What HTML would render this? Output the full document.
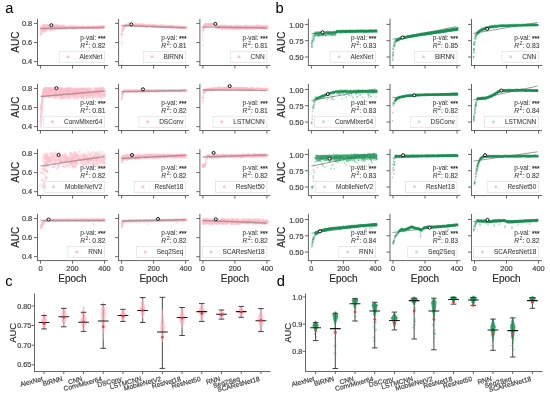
<!DOCTYPE html><html><head><meta charset="utf-8"><style>html,body{margin:0;padding:0;background:#fff;}svg{display:block}</style></head><body><svg width="550" height="396" viewBox="0 0 550 396" font-family="'Liberation Sans', Arial, sans-serif">
<style>.ax{stroke:#666;stroke-width:1;fill:none}.tk{font-size:7.4px;fill:#444;stroke:#444;stroke-width:0.2px}.ttl{font-size:10px;fill:#2a2a2a;stroke:#2a2a2a;stroke-width:0.18px}.ann{fill:#3a3a3a;stroke:#3a3a3a;stroke-width:0.06px}.lg{fill:#fff;stroke:#e3e3e3;stroke-width:0.8}.ldp{fill:#f9c3cf}.ldg{fill:#bfe3cd}.cp{fill:#FFB3C0;fill-opacity:0.45}.cg{fill:#0F8C4C;fill-opacity:0.85}.pp{stroke:#FFB3C0;stroke-opacity:0.42;stroke-width:2.1;stroke-linecap:round;fill:none}.pg{stroke:#0F8C4C;stroke-opacity:0.3;stroke-width:1.8;stroke-linecap:round;fill:none}.pc{stroke:#FFB3C0;stroke-opacity:0.35;stroke-width:1.8;stroke-linecap:round;fill:none}.pd{stroke:#0F8C4C;stroke-opacity:0.25;stroke-width:1.8;stroke-linecap:round;fill:none}.rga{stroke:#6a6a6a;stroke-opacity:0.5;stroke-width:1.5}.rgb{stroke:#9a9a9a;stroke-width:1}.mk{fill:#fff;stroke:#111;stroke-width:1.0}.eb{stroke:#3a3a3a;stroke-width:0.95;fill:none}.ev{stroke:#333;stroke-width:0.9;fill:none}.md{stroke:#1a1a1a;stroke-width:1.05;fill:none}.mn{fill:#EE3344}.lt{font-size:14.7px;fill:#000}.tkc{font-size:7.2px}.xl{font-size:6.7px}.ttc{font-size:9.4px}</style>
<rect width="550" height="396" fill="white"/>
<text class="lt" x="5.3" y="13.2">a</text>
<text class="lt" x="275.5" y="13.3">b</text>
<text class="lt" x="5.2" y="286.4">c</text>
<text class="lt" x="276.7" y="286.4">d</text>
<path class="ax" d="M37.5 18.80V66.00M37.0 65.50H108.0"/>
<text class="tk" x="32.2" y="26.10" text-anchor="end">0.8</text>
<text class="tk" x="32.2" y="45.20" text-anchor="end">0.6</text>
<text class="tk" x="32.2" y="64.30" text-anchor="end">0.4</text>
<path class="ax" d="M34.0 23.40H37.5M34.0 42.50H37.5M34.0 61.60H37.5M40.50 65.5v3M72.50 65.5v3M104.50 65.5v3"/>
<text class="ttl" transform="translate(18.60,42.15) rotate(-90)" text-anchor="middle">AUC</text>
<text class="ann" x="105.50" y="40.10" text-anchor="end" font-size="6.5">p-val: <tspan dy="0.7" stroke-width="0.12" fill="#222" stroke="#222">***</tspan></text>
<text class="ann" x="105.50" y="47.50" text-anchor="end" font-size="6.8"><tspan font-style="italic">R</tspan><tspan dx="0.5" dy="-2.6" font-size="5.2">2</tspan><tspan dy="2.6">: 0.82</tspan></text>
<rect class="lg" x="59.24" y="51.30" width="45.26" height="11.00"/>
<circle class="ldp" cx="68.04" cy="56.80" r="1.5"/>
<text class="ann" x="102.30" y="59.10" text-anchor="end" font-size="6.5">AlexNet</text>
<path class="cp" d="M40.5 26.7L42 25.8L45 25.5L55 25.6L70 26.3L85 26.5L104.5 26.1L104.5 28.1L85 28.5L70 28.5L55 29L45 30.5L42 31.7L40.5 34.8Z"/>
<path class="pp" d="M88.9 26.8h0M94.3 28.1h0M56.5 26.3h0M77.8 28.3h0M43.7 28.1h0M76.8 26.4h0M100.3 26.5h0M76 28.1h0M43.3 31.2h0M65.3 26.5h0M48.3 27.4h0M74.3 28.5h0M76.2 27.7h0M75.7 28.3h0M67 27.4h0M49.9 29.6h0M85.2 28.2h0M47.9 28h0M50.6 27.3h0M83.5 27.8h0M98.1 27.7h0M83.7 27.1h0M46.2 28.8h0M93.5 26.7h0M57.5 25.6h0M101.6 26.9h0M74.8 27.1h0M62.3 25.8h0M83.1 28.3h0M42.9 28h0M62.1 27.1h0M65.2 26.6h0M91.5 27.8h0M65.2 27.9h0M60.3 26.8h0M94.3 26.7h0M100.1 26.9h0M43 30.8h0M81.2 26.7h0M52.8 25.3h0M62.9 27.5h0M71.1 28.4h0M66.4 26.9h0M72.2 28.2h0M87.4 28h0M80.4 28.3h0M98.4 27.8h0M56.3 25.4h0M60.5 26.2h0M56.8 27.7h0M102.6 26.8h0M56.9 25.9h0M80.4 27.5h0M96.5 27.8h0M77.5 27.1h0M71.6 26.3h0M72.9 27h0M70.3 26.5h0M98 27.9h0M84.5 28.4h0M85.9 27.4h0M56.1 29.4h0M86.3 28.2h0M98.9 27.1h0M44.8 30.8h0M100.9 26.3h0M97.7 26.7h0M76.3 28.4h0M95.4 28.2h0M50.4 28.9h0M55.4 27.2h0M73.2 26.7h0M102.7 26.9h0M73.2 26.4h0M94.3 28.1h0M63.8 26.1h0M55.5 27.2h0M83.8 26.7h0M92.9 27.8h0M45 29.8h0M55.9 27.7h0M42.9 25.8h0M78.1 26.4h0M67.5 28.5h0M84 28.2h0M95.1 27.8h0M103.2 27.4h0M41.4 30h0M102.7 26.7h0M93 26.9h0M57.3 28.2h0M74.2 28.4h0M44.7 27h0M44.2 28.3h0M83 27.3h0M54.4 26.7h0M79.4 27.1h0M41.6 28.8h0M88.5 27.4h0M47.7 25h0M40.8 29.4h0M48.9 30.3h0M49.5 26.7h0M61.6 26.3h0M101.5 26.5h0M103.9 26.4h0M50.3 29.9h0M89.9 27.4h0M93.2 27.8h0M77.6 27.4h0M54.1 29.7h0M63.4 27.1h0M96.4 26.4h0M53.8 29.4h0M102.6 27.4h0M64.1 27.6h0M82.2 26.7h0M48.7 26.2h0M42.1 32h0M53.9 29.6h0M52.9 29.9h0M44.3 25.9h0M76 27.3h0M76.2 27.2h0M51.5 27.4h0M87.2 27.1h0M42.3 26.7h0M40.7 33.6h0M93.1 27.2h0M90.6 26.6h0"/>
<path class="pp" d="M53.1 28.7h0M98.5 28.1h0M83.9 26.9h0M65.6 28.7h0M74.1 27.6h0M92.9 28h0M59.4 29.1h0M54.8 26.9h0M92 28.2h0M43.1 29h0M94.8 28.2h0M55.5 26.9h0M81.8 27.1h0M93.3 28h0M89.1 27h0M101.7 27.1h0M44.5 26.4h0M47.1 28.8h0M82.3 28.1h0M66.7 26.8h0M97.1 27.2h0M60.8 26.5h0M61 26.8h0M71.8 26.3h0M101.7 28h0M86.9 27.6h0M72.8 28.2h0M58.1 25.4h0M92.7 26.7h0M101.6 27.8h0M44.4 29.7h0M47.2 30.1h0M82.2 26.9h0M100.9 28h0M57.8 26.3h0M64.4 28.7h0M55.4 29.2h0M70.7 27h0M65.6 27.1h0M87.7 26.9h0M49.9 27h0M44.3 27.3h0M89 26.6h0M63.8 26.4h0M99.1 26.6h0M45.3 26.3h0M104.4 27.3h0M91.9 27.8h0M52.6 27.3h0M57.1 28.1h0M58.5 26.3h0M92 27.9h0M70.9 28.2h0M40.7 30.3h0M51.3 25.4h0M99.4 26.8h0M58.3 27h0M101.7 26.5h0M73.9 28.4h0M54 27.8h0M102 27.5h0M54.5 26.9h0M66.4 28.4h0M61.3 29.1h0M64.3 27h0M72.3 26.8h0M91 28.2h0M61.4 27.4h0M43.2 24.5h0M73 26.8h0M48.1 25.8h0M80.6 27.1h0M74 26.3h0M66.5 28.5h0M53.1 25.5h0M91.3 27.7h0M45.9 30.5h0M60.2 25.5h0M100.7 27.3h0M48.6 25.5h0M55 25.2h0M87.7 27h0M65.7 27.4h0M44 25.3h0M51.9 29.1h0M91.4 27.5h0M88.3 28.1h0M63.3 28.4h0M76.5 28h0M77 27.9h0M56.6 26.4h0M89.6 26.6h0M91.6 27.8h0M94.2 26.6h0M90.8 26.9h0M73.2 26.4h0M70.9 27.4h0M81.9 28h0M40.9 35h0M47 30.1h0M99.9 26.6h0M54.6 26h0M85 27.7h0M68.7 26.6h0M77 28.3h0M69.3 26.5h0M69.8 27.5h0M83 26.8h0M59.8 27.2h0M101.8 26.5h0M67.4 28.5h0M57.2 26.7h0M62.7 25.7h0M66 27.3h0M60.7 28.6h0M103.9 27.7h0M50.2 27.6h0M102.4 26.5h0M101.4 26.5h0M53.4 27.4h0M45.2 29.2h0M66.8 28.3h0M70 26.6h0M65.8 27.5h0M49.6 27.8h0M89.4 27.9h0M93.4 26.8h0M92.9 26.9h0M42.7 24.8h0M103.1 27.9h0"/>
<path class="pp" d="M47.5 27.8h0M77.4 27.2h0M97.6 27.5h0M66.2 28.7h0M84.2 26.9h0M81.1 28.1h0M75.3 26.4h0M78 27.5h0M46.2 27.2h0M84.5 27.4h0M96.5 26.9h0M81.9 28.4h0M45.1 31.2h0M51 28.7h0M87.4 27.5h0M42.7 29h0M60.2 29.1h0M40.8 27.5h0M53.1 25.9h0M60 26.3h0M57.1 28.5h0M85.7 27.7h0M49.6 24.9h0M45.9 30.4h0M73.6 27.3h0M50.8 27.2h0M81.6 26.7h0M103.5 26.5h0M88.3 26.6h0M51.3 29.2h0M102.8 27.3h0M103.2 26.4h0M72.6 28.4h0M87.4 27.9h0M88.5 27.7h0M52.4 29.8h0M72.2 26.7h0M44.5 25.1h0M73.6 27.2h0M97.9 26.8h0M64.2 27.4h0M72.7 27.7h0M55.2 25.2h0M97 28.1h0M48.4 26.1h0M40.8 34.1h0M74.3 26.6h0M47.2 26.3h0M98.7 27.7h0M74.6 28h0M100.8 26.7h0M69.5 26.9h0M48.8 26.1h0M81.2 27.2h0M72.1 27.1h0M55 27.4h0M89.6 27.6h0M83.2 28.3h0M88.5 27.3h0M63.6 27.1h0M55.5 26.2h0M103 26.7h0M101.5 27.5h0M57.6 25.8h0M97.8 27.2h0M68 27.4h0M56.5 25.2h0M65.8 28.9h0M46.2 24.8h0M51.8 26.1h0M45.1 26.1h0M76.8 27.2h0M62.2 26.5h0M99.2 27.5h0M70.8 27.8h0M81.4 27.2h0M51.2 29.1h0M75.6 26.5h0M41.9 28.5h0M73.5 27.1h0M60.2 28.5h0M82.7 26.7h0M63.1 27.2h0M94.3 27.3h0M57.1 27h0M101.8 27.4h0M72.8 27.1h0M67.4 26.7h0M67.3 28.1h0M53.9 25.7h0M47.3 28.2h0M84.2 27.8h0M86.8 27.7h0M87.4 28.3h0M86.9 28.2h0M93 28.2h0M100.8 27.6h0M64.6 26.8h0M70.3 27.4h0M71.4 26.4h0M89.4 27.5h0M57.3 29.3h0M56.1 27.6h0M44.4 26.4h0M49.4 27.8h0M75.9 28.4h0M43 29.9h0M59.3 27.2h0M62.4 26.5h0M77.9 28.3h0M46.7 27.9h0M87.2 26.9h0M61.8 28.4h0M82.5 27.1h0M47.5 25.6h0M74.2 26.8h0M95.4 26.9h0M68.3 28.4h0M71.8 26.8h0M65.4 26.8h0M42 32.8h0M61.2 26.1h0M79 26.5h0M73.9 27.8h0M56.3 26.2h0M50.8 30.1h0M87.5 28h0M60.5 26.6h0M69.3 26.9h0M86.9 26.9h0"/>
<path class="pp" d="M43.7 25.9h0M56.6 26.6h0M73.5 27.7h0M44.5 24.8h0M64.4 28.8h0M100.5 28.1h0M58.8 25.5h0M101.9 27.4h0M100 27h0M86.7 26.6h0M91 28.2h0M80.9 28.3h0M72.7 27.5h0M87.1 26.9h0M99.8 27.6h0M46.4 27.5h0M98.2 26.9h0M80.6 27.8h0M72 28.5h0M93 27.4h0M71.2 27.8h0M69.5 27.5h0M58.4 26.7h0M49.9 26.2h0M67.6 28.3h0M84 27.4h0M95.8 27.6h0M98.4 27.4h0M49 26.8h0M78.9 27.6h0M99.8 27h0M51.2 25.6h0M93.1 26.9h0M88.4 28.1h0M63.5 28.6h0M50.1 30.2h0M97.9 26.4h0M49.5 25.9h0M92.4 28.2h0M40.5 26.2h0M62.4 25.9h0M97 28.1h0M80.7 28.4h0M72.8 26.7h0M41.7 27.6h0M73.3 27.9h0M78.2 27h0M66.1 27.2h0M99.8 26.5h0M42 29.8h0M69.5 27h0M87.4 27.4h0M80.2 27.8h0M102.7 27.2h0M47 26.9h0M72.4 27.8h0M96.2 27.6h0M72.6 27.5h0M64.4 26.8h0M54.7 28.5h0M46 25.1h0M67.4 27.6h0M55.3 29.1h0M78.7 27.7h0M69.3 26.8h0M81.4 26.7h0M53.8 26.2h0M103 26.3h0M44.6 31.8h0M93.3 26.7h0M45.7 27.6h0M60.5 27.6h0M62.4 28.5h0M69.8 26.6h0M95.8 28.2h0M52.1 27.9h0M81.5 28.3h0M101 26.5h0M70.8 26.5h0M88.7 27.7h0M51.3 24.8h0M40.6 33.8h0M55.8 26.2h0M57.8 25.8h0M41.2 27.9h0M65.5 28.5h0M43.1 26.8h0M58.8 29.1h0M56.4 26.3h0M60.6 27.7h0M95.9 27.2h0M81.2 27.9h0M92.9 27.2h0M87.8 28.3h0M54.6 29.5h0M63.3 25.8h0M43 30.9h0M94.3 26.9h0M45.9 29.1h0M67.7 28.3h0M48.7 27.3h0M49.7 25.3h0M67.7 27.8h0M69.1 27.2h0M59.6 28.3h0M97.1 27.8h0M45 25h0M79.7 27.5h0M47.5 25.5h0M94.1 26.6h0M48.4 26h0M92.2 27.6h0M79.8 26.8h0M40.6 29.2h0M97.3 27.6h0M86.6 26.7h0M74.1 28.3h0M88.1 27.1h0M72.5 26.7h0M42.6 30.4h0M48.9 24.7h0M102.2 26.6h0M93.6 26.8h0M53 26.5h0M82.8 26.8h0M95.7 26.8h0M44.3 30.3h0M90.7 28.1h0M52.9 26.7h0M49.8 26.4h0"/>
<line class="rga" x1="40.5" y1="28.599999999999998" x2="104.5" y2="27.4"/>
<circle class="mk" cx="51.4" cy="25.2" r="1.5"/>
<path class="ax" d="M308.4 18.80V66.00M307.9 65.50H378.9"/>
<text class="tk" x="303.59999999999997" y="27.50" text-anchor="end">1.00</text>
<text class="tk" x="303.59999999999997" y="43.80" text-anchor="end">0.75</text>
<text class="tk" x="303.59999999999997" y="60.10" text-anchor="end">0.50</text>
<path class="ax" d="M304.9 24.40H308.4M304.9 40.70H308.4M304.9 57.00H308.4M311.40 65.5v3M343.40 65.5v3M375.40 65.5v3"/>
<text class="ttl" transform="translate(285.10,42.15) rotate(-90)" text-anchor="middle">AUC</text>
<text class="ann" x="376.40" y="40.10" text-anchor="end" font-size="6.5">p-val: <tspan dy="0.7" stroke-width="0.12" fill="#222" stroke="#222">***</tspan></text>
<text class="ann" x="376.40" y="47.50" text-anchor="end" font-size="6.8"><tspan font-style="italic">R</tspan><tspan dx="0.5" dy="-2.6" font-size="5.2">2</tspan><tspan dy="2.6">: 0.83</tspan></text>
<rect class="lg" x="330.14" y="51.30" width="45.26" height="11.00"/>
<circle class="ldg" cx="338.94" cy="56.80" r="1.5"/>
<text class="ann" x="373.20" y="59.10" text-anchor="end" font-size="6.5">AlexNet</text>
<line class="rgb" x1="311.5" y1="33.6" x2="375.5" y2="30.3"/>
<path class="cg" d="M315 32.2L325 31.8L336 31.4L336 34.2L325 34.6L315 35.2Z" style="fill-opacity:0.45"/>
<path class="cg" d="M336 30.3L377 29.8L377 32.3L336 32.8Z"/>
<path class="pg" d="M315.2 35.4h0M314.8 35.9h0M327.6 32.1h0M314.1 37.6h0M353.9 32.3h0M335.7 33.9h0M320.2 32.9h0M375 31.3h0M330.4 32.5h0M361.3 31.1h0M319.4 35.9h0M336.8 32.4h0M365 30.3h0M356 30.9h0M351.3 31.7h0M333.1 31.8h0M321.7 32.9h0M374.2 31.9h0M337.9 31.5h0M345.1 30.6h0M329.9 32.5h0M372.5 31.8h0M367 30.8h0M362.4 30.8h0M366.2 30.4h0M351.9 31.6h0M362.5 31h0M371.8 31.6h0M371.1 30.2h0M353 30.3h0M323.7 34.3h0M315.1 34.3h0M326.8 34.8h0M313.4 39.3h0M337.2 30.8h0M315.6 33.5h0M321 34.1h0M318 33.4h0M331.2 32.7h0M355.7 30.7h0M335.9 32.8h0M333.4 31.5h0M330.2 35.5h0M334.5 32.4h0M335.5 31.7h0M371.7 31h0M317.6 32.9h0M319.5 35.9h0M360.4 30.5h0M332.3 35.1h0M353.1 31.9h0M350.7 31.2h0M342 30.8h0M337 30.6h0M364.7 31.9h0M326.3 35.6h0M332.4 33.2h0M331.3 33.4h0M342.7 31.6h0M355.4 31h0M355.8 31.5h0M335.3 32.3h0M331.1 35.1h0M348.2 31.9h0M311.9 46.7h0M323.6 34h0M349.6 30.4h0M361.1 30.4h0M352.6 30.5h0M327.4 32.3h0M359.8 32.1h0M319 35.9h0M354.2 30.8h0M345.7 32.1h0M330.9 33.3h0M328.3 33h0M322.5 35h0M373.5 30.9h0M328.6 33.8h0M336.5 32.7h0M315.5 33.3h0M364.6 30.2h0M329.1 33.4h0M348.5 31.1h0M311.6 42.8h0M318.4 33.1h0M349.1 32.2h0M365.1 31.8h0M315.1 35.7h0M369.3 31.8h0M372.5 30.5h0M331 33.8h0M366.3 30.2h0M364.4 30.7h0M331.1 33.9h0M323.8 33.9h0M318.2 35.3h0M312.4 40.5h0M364.6 31.3h0M330.5 34.3h0M357.1 31.5h0M374.1 31.1h0M351 30.5h0M314.5 36h0M332.1 35.1h0M344.2 31.3h0M338.1 30.7h0M318.6 33.8h0M368.6 31h0M339.9 30.8h0M345.2 31.2h0M371.1 31h0M368.2 31.1h0M365.3 31.2h0M340 31.9h0M370.8 31.7h0M335.3 31.9h0M319.6 35.3h0M351.6 31.3h0M346.7 30.3h0M318.7 32.7h0M368.6 31.7h0M320.7 33.6h0M337.4 32.5h0M331.4 34.6h0M322.5 33.7h0M363.4 31.1h0M318.9 35.7h0M362.3 30.3h0M341.1 31.1h0M350.3 32.1h0M355.2 31.2h0M365.4 31.7h0M335.1 32.1h0M334.6 34h0M375.5 31.7h0M370.3 30.1h0M359.5 31h0M344.4 32.2h0M337.1 31.6h0M347.6 31.2h0M359.5 30.6h0M348.8 31.7h0M321 35.1h0M348.7 30.9h0M346.2 32.1h0M352.7 30.6h0M315.4 33.4h0M375 31.6h0M352.6 31.2h0M359.6 32.2h0M362.9 31.6h0M311.8 44.4h0M374.9 30.5h0M348.3 30.5h0M363.6 31.9h0M372.3 31.8h0M335.4 34.9h0M376.9 31.9h0M356.4 31h0M370.6 31.9h0M368.5 31.6h0M315.5 33h0M334.2 31.8h0M351 32.3h0M375.6 31.7h0M339.4 30.8h0M372.1 31.2h0M356 31.2h0M312.3 40.8h0M357.5 30.4h0M347.6 31.8h0M373.9 31h0M336.2 33.6h0M370.8 32h0"/>
<path class="pg" d="M371.9 31.3h0M330.1 34.2h0M340.5 32.5h0M317.2 35.3h0M366.7 31.4h0M311.8 45.8h0M358.6 30.6h0M319 33h0M345.6 31.2h0M366.1 30.8h0M336.2 32.8h0M324.4 34.5h0M343 31.1h0M346.3 30.5h0M325.1 35.6h0M361.2 30.4h0M353.5 32.2h0M375.7 31.1h0M361.7 31.4h0M331.6 34.3h0M318.1 32.5h0M374.5 31.3h0M358.5 31.5h0M323.4 35.1h0M330.3 31.7h0M369.8 31.2h0M351.9 32.1h0M346.1 32.4h0M366.7 31.8h0M373.8 30.6h0M376.5 31.5h0M353.1 31h0M357.5 31.9h0M357.8 31.1h0M368.2 32.1h0M376.2 30.1h0M355.4 30.8h0M312.9 36.5h0M358.8 30.3h0M326 33.7h0M313.5 34.8h0M365.7 30.7h0M342.1 31.6h0M318.8 35.1h0M357.8 30.7h0M321.4 31.7h0M373 31.4h0M330 33.2h0M337 31.4h0M358.9 30.2h0M351 32.1h0M356.6 30.5h0M349.6 30.5h0M348.3 30.8h0M316.2 31.8h0M322.6 33.2h0M343.7 31.4h0M369.7 30.9h0M351.7 31.8h0M327.1 32.6h0M314.1 33.9h0M357.8 31.6h0M335.2 33.2h0M350.9 32.2h0M357.3 30.7h0M327 33.1h0M358.2 31.3h0M312.7 41.3h0M366 31.2h0M347.4 31.9h0M339.2 31.6h0M348.4 31h0M342.2 31.6h0M355 30.9h0M352.2 30.8h0M364.9 31.9h0M313.3 40.4h0M338.5 30.8h0M369.5 31.2h0M351.7 32h0M314.1 35.1h0M343.2 32.1h0M311.9 44.5h0M312 46.8h0M352.8 31.5h0M348 31.3h0M365 31.9h0M323.4 31.8h0M343.9 31.4h0M348.9 30.6h0M313.4 38.9h0M314.5 33.3h0M315.6 31.8h0M356.7 31.9h0M317.9 33h0M318.1 32.4h0M350.9 30.4h0M336.7 31.4h0M362 30.8h0M317 34.9h0M340.2 31.8h0M343.8 31.4h0M349 30.9h0M339.6 32.3h0M321.9 31.9h0M344.1 32.4h0M340.3 30.8h0M353.3 30.6h0M331.4 33h0M346.5 30.6h0M341.2 30.6h0M342.2 31.6h0M358.9 30.8h0M371.8 30.7h0M328.9 33.2h0M349.6 31h0M344.7 32.4h0M348.6 31.6h0M348.5 31.4h0M341.7 31.5h0M355 31h0M331 31.7h0M362.2 32h0M348.7 30.8h0M340.3 31.7h0M339.4 32.4h0M327.2 32.9h0M316.5 33.2h0M334.4 32h0M353.2 31.6h0M363 31h0M365.9 31.6h0M322.6 34.5h0M323.3 34.6h0M370.4 31.3h0M335.6 33.1h0M312.3 46.3h0M332.8 33.3h0M321 35.4h0M332.7 33.3h0M327.8 31.7h0M334.9 33.8h0M356.3 32.1h0M370.7 31.7h0M376.5 30.1h0M355.3 30.7h0M321.6 33.1h0M342.2 31h0M317.3 34.1h0M313.7 40.7h0M330.7 33.1h0M321.7 32.8h0M336.7 32.2h0M346.3 31.9h0M366.7 31.3h0M336.9 31.3h0M322.4 35.3h0M366.5 31.3h0M361.7 31.9h0M363.1 31.9h0M335.3 33.4h0M360.9 32.1h0M355.1 32h0M341.6 32.5h0M329.4 32.4h0M359.3 30.4h0M323.4 32.1h0M332.9 32.2h0M319 35.7h0M341.2 31.3h0M350.1 30.4h0M318.7 35.2h0M371.6 31.8h0M322.7 33h0M362.1 30.6h0"/>
<path class="pg" d="M327.9 34.9h0M335.6 33h0M331.5 34.1h0M367.4 31.3h0M371.9 30.5h0M350.9 30.9h0M331.3 33.2h0M340.8 30.6h0M345 31.4h0M364.9 30.7h0M357 31h0M336.1 31.6h0M326.8 32.1h0M340.5 32.2h0M349.7 32.3h0M364.6 30.8h0M324.7 32.4h0M336.6 32.1h0M340.9 30.7h0M359.6 31.7h0M323.8 32.4h0M375.6 30h0M328.1 35.5h0M331.7 35h0M350.6 31h0M355.9 30.8h0M317.9 35.8h0M319.8 34.8h0M340.3 32.3h0M319.4 34.3h0M353.5 30.8h0M332.5 34.1h0M334.2 32h0M321.7 34.7h0M325.3 33.4h0M336.1 32.1h0M315.5 35.6h0M324.2 33.5h0M348.8 30.9h0M370.7 30.4h0M326 31.7h0M321.1 34.1h0M312.2 38.4h0M315.2 35.7h0M358.8 30.3h0M372.9 31.3h0M364.5 31.9h0M325.7 35.3h0M368.6 30.6h0M343.4 30.5h0M329.4 33.6h0M334.6 34.3h0M371 31.6h0M322.3 32.8h0M347.1 30.8h0M344.9 31.4h0M312.5 42h0M345.1 31.5h0M358.5 30.2h0M335.8 32.9h0M376.7 30.7h0M354.7 31h0M374.4 31.2h0M322.5 35.4h0M341.1 31.4h0M345.3 31.3h0M329.2 34.7h0M354.6 31.9h0M322.6 32.8h0M364.4 30.8h0M339.6 31.8h0M327 31.7h0M375.1 30.6h0M324.7 34.6h0M372.4 31.4h0M352.6 32.2h0M346.5 31.1h0M328.3 32h0M352.7 31.7h0M356.2 32.2h0M370.4 30.6h0M318.5 34.5h0M314.3 37.8h0M334.9 34.5h0M328.3 33.9h0M357.6 31.9h0M360.5 31.9h0M354 30.6h0M358.1 30.6h0M369.5 31.1h0M333.8 32h0M318.9 33.9h0M335.5 32.9h0M368.7 31.3h0M315.2 32.4h0M333.9 34.5h0M364.5 31.9h0M314.6 33.7h0M341.7 32.4h0M344.1 31.5h0M369.4 30.1h0M374.8 32h0M359.1 31.3h0M351.3 31.1h0M342.1 30.7h0M331.8 32.4h0M337.7 30.8h0M334.6 35.4h0M315.5 36.1h0M353.5 32.3h0M356 31h0M347 32.3h0M364.9 31.9h0M369.7 31.3h0M317.1 34.6h0M368 30.6h0M376.4 31.5h0M355.9 30.2h0M339.2 31.7h0M333.2 33.9h0M356.1 30.7h0M368.3 31.9h0M325.9 35.5h0M328.4 32.4h0M353.2 30.3h0M348 32.2h0M351.4 31.3h0M328.1 31.7h0M335 32.1h0M371.1 31.3h0M314.5 33.4h0M370.2 30.2h0M319.5 33.3h0M366.4 31.3h0M362.3 30.4h0M314.8 33.6h0M312.5 42.6h0M347.8 32h0M366.6 31.9h0M323.6 32.9h0M366.1 31.7h0M324.4 34.6h0M322.6 31.9h0M319.6 32.3h0M318.6 34.2h0M345.9 32h0M359.9 31.2h0M362.8 31.9h0M324.6 34.8h0M326.3 34h0M352.9 31h0M355.8 31.3h0M329.8 32h0M323.3 34.9h0M319 32.5h0M344 32.4h0M351.3 31.9h0M358.4 30.9h0M331.9 32.4h0M365.2 31.6h0M365.2 32.2h0M332.9 34.5h0M333.2 32.7h0M355.3 32.1h0M328.7 33.9h0M359.9 31.9h0M367.3 31.8h0M333.4 33.4h0M375.1 31.8h0M340.2 32.3h0M364.7 31.3h0M315.9 33.9h0M366.6 31.9h0M374.7 31h0M342.8 31h0"/>
<path class="pg" d="M368.6 31.2h0M361.4 30.2h0M349.5 32.2h0M363.9 30.2h0M317.3 35.5h0M371.7 31.4h0M374.4 30.2h0M368.6 30.3h0M372.3 30.3h0M341.5 32.4h0M318 35.7h0M344.5 30.9h0M339.6 31.5h0M337.9 30.5h0M349.3 31.4h0M368.8 31.4h0M327.2 31.7h0M328.9 34.2h0M319.4 34.8h0M358.4 30.7h0M331.9 34.4h0M350.2 31.9h0M371.2 30.5h0M355.1 32h0M324.3 32h0M357.6 30.7h0M330.9 34.6h0M347.4 30.6h0M366.5 31.4h0M317.4 31.9h0M351.6 31.8h0M316.7 32.5h0M348.6 30.9h0M366.9 32h0M361.5 30.4h0M338.8 31.5h0M320.7 35.2h0M335.6 31.9h0M349.5 32.4h0M374.3 31.5h0M347.1 30.3h0M368.5 30.1h0M338.5 31.8h0M363.1 31.9h0M339.9 31.5h0M333.3 34.7h0M366.5 30.7h0M343.5 31.5h0M366.9 30.9h0M319.9 31.8h0M315 34.1h0M322.1 32.5h0M327.4 33.2h0M333.9 32h0M318.9 35.5h0M343.8 30.4h0M325.3 35.4h0M343.8 30.5h0M343 30.7h0M334.6 34.1h0M333.7 34.9h0M352.7 31.1h0M325.5 32.8h0M367.2 30.6h0M354.4 31.9h0M323.9 32.4h0M373.4 31.6h0M332.5 34.3h0M318.9 31.8h0M372.8 30.8h0M374 31h0M322.5 34.8h0M317 32h0M358.6 30.7h0M349.1 31.2h0M356.1 31.9h0M353 31.6h0M345.4 31.4h0M334.5 35.2h0M320.7 31.7h0M338.2 30.5h0M338.5 30.6h0M341 31.2h0M334 35h0M360.6 30.3h0M355.3 30.6h0M371.8 31.2h0M350.3 32.3h0M365.7 30.9h0M365.4 31.1h0M316.7 32.1h0M314.1 33.3h0M327.1 32.2h0M329.9 31.9h0M313.9 39.7h0M350 30.4h0M354.4 31h0M355.8 30.8h0M347.4 32h0M333.7 33.2h0M323.7 35.1h0M328.1 31.9h0M319.5 32.4h0M320.8 34.1h0M373.5 31.6h0M353.9 30.9h0M337.8 31.6h0M340.3 31.7h0M358.5 30.6h0M357.3 30.6h0M338.4 32.1h0M336.4 31.1h0M323.7 33.5h0M354 31.1h0M350.7 30.8h0M364.2 30.5h0M358.2 32h0M370.1 31.5h0M334.4 31.4h0M365.6 30.8h0M373.6 30.1h0M346.3 32.5h0M346.3 30.8h0M326 31.8h0M323.1 35.2h0M328.4 31.6h0M371.4 30.3h0M311.7 46.8h0M321.8 32.9h0M366.5 31.2h0M340 32.5h0M346.8 32.4h0M335.3 33.7h0M363 31.6h0M331.8 32h0M340.3 32h0M351.3 30.7h0M346.8 32.2h0M347.9 30.9h0M324 32.8h0M350.7 31.1h0M327.4 32.5h0M376.8 30.8h0M328.2 34.6h0M333.1 35.4h0M342.7 30.7h0M345.1 31.5h0M375.7 31h0M365.6 32h0M359.1 30.8h0M344.6 30.8h0M324.8 31.9h0M354.5 30.8h0M311.8 42.6h0M332.7 35.4h0M311.9 40.9h0M359.9 31.7h0M315.3 33.6h0M340.7 31.5h0M365.1 32.1h0M368.8 31.2h0M366.5 30.8h0M339.6 32.3h0M341.9 30.4h0M321.3 31.9h0M313.3 35.8h0M364.2 32h0M327.8 33.3h0M372.9 30.7h0M315.1 34.9h0M349 31.2h0M363.1 30.5h0M374.3 30.4h0M353.7 30.7h0M345.5 30.4h0"/>
<circle class="mk" cx="322.6" cy="32.3" r="1.5"/>
<path class="ax" d="M118.6 18.80V66.00M118.1 65.50H189.1"/>
<path class="ax" d="M115.1 23.40H118.6M115.1 42.50H118.6M115.1 61.60H118.6M121.60 65.5v3M153.60 65.5v3M185.60 65.5v3"/>
<text class="ann" x="186.60" y="40.10" text-anchor="end" font-size="6.5">p-val: <tspan dy="0.7" stroke-width="0.12" fill="#222" stroke="#222">***</tspan></text>
<text class="ann" x="186.60" y="47.50" text-anchor="end" font-size="6.8"><tspan font-style="italic">R</tspan><tspan dx="0.5" dy="-2.6" font-size="5.2">2</tspan><tspan dy="2.6">: 0.81</tspan></text>
<rect class="lg" x="143.24" y="51.30" width="42.36" height="11.00"/>
<circle class="ldp" cx="152.04" cy="56.80" r="1.5"/>
<text class="ann" x="183.40" y="59.10" text-anchor="end" font-size="6.5">BiRNN</text>
<path class="cp" d="M121.5 31.4L122.5 27.8L124 25.1L128 24.1L131 24.3L150 25.3L170 26.1L187 27L187 28.2L170 27.3L150 26.5L131 25.5L128 25.5L124 27.6L122.5 32.2L121.5 37.6Z"/>
<path class="pp" d="M154.9 27.1h0M126.4 25.5h0M176.3 26.6h0M142.7 25h0M158.5 26.6h0M143.8 25.7h0M141.5 25.9h0M156.3 26.5h0M174 26h0M138.7 24.3h0M140.9 25.4h0M124.4 25.6h0M158.5 25.8h0M160.4 26.7h0M157.9 26.4h0M123 30h0M171.2 27h0M155.2 25.7h0M184 27.3h0M131.5 25.2h0M161 25.4h0M176.6 28.1h0M126.5 25.2h0M186.5 26.9h0M122 29.1h0M127.9 24.6h0M139.4 24.4h0M182 27.5h0M123.8 27.9h0M136.9 25.1h0M134.1 24.1h0M182.8 28.3h0M170.1 25.9h0M177.7 26.8h0M177.2 27.1h0M148.6 24.8h0M135.3 25.7h0M142.9 26.2h0M155.7 26.1h0M183.1 28.3h0M158.8 27.1h0M143.9 25.3h0M135.7 25.4h0M158.2 26.1h0M128.7 25h0M144.7 26h0M146.5 26.2h0M144.7 25.4h0M126.5 25.7h0M177.1 26.9h0M178.9 26.3h0M160.9 26h0M162 25.9h0M129.3 24.8h0M172.4 27.1h0M123.3 29.4h0M148 25.8h0M140 26.4h0M138.9 24.9h0M137.1 24.4h0M166.4 27.5h0M124.4 26.7h0M123.5 28.2h0M185.8 27.8h0M153.4 25.2h0M162.9 25.5h0M162.6 27h0M146.1 24.7h0M183.5 28h0M161.7 25.3h0M127.2 25.2h0M121.8 34.3h0M140.1 25.1h0M151.5 26.5h0M128.3 24.2h0M182.1 27.7h0M142.2 24.6h0M183.4 27.3h0M139.9 26h0M134.6 24h0M161.2 27.1h0M122 42h0M153.8 26.6h0M154.8 27.2h0M145.3 26.5h0M172.2 26.2h0M181.1 26.6h0M180.4 26.7h0M158.3 27.1h0M149.4 25.4h0M130.6 24h0M169.3 27h0M146.1 26.6h0M172.9 26h0M184.9 27.3h0M132.9 25.2h0M174.5 26h0M132.1 24.2h0M171.3 27.7h0M130.1 25.6h0M138.6 24.4h0M125.1 25.6h0M147.7 25.8h0M141.2 25.7h0M153.1 24.9h0M180.3 28.2h0"/>
<path class="pp" d="M168.2 27.2h0M134.7 25.8h0M149.3 25.5h0M164.1 27.5h0M170.8 25.8h0M131.2 24.9h0M159.2 27.2h0M180 26.7h0M135.5 25.6h0M176.2 27.3h0M125 25.9h0M135.2 24.8h0M125.9 25.4h0M180.2 27.1h0M133.5 24.6h0M152.8 25.9h0M146.5 25.2h0M173.2 27.6h0M122.6 31.5h0M121.7 37h0M163.9 25.8h0M182.3 27.2h0M137.1 24.9h0M165.4 26.6h0M169.7 27.1h0M164.4 26.5h0M143.7 24.6h0M123.6 27.8h0M170.8 27.1h0M129.3 24.6h0M185.9 27.8h0M155.1 26.6h0M143.5 25.8h0M161.8 26h0M177.4 26.3h0M157.2 25.3h0M154.9 26.4h0M156.4 27h0M154.9 26.1h0M129.4 25.2h0M179.3 26.3h0M164.8 26.1h0M152.5 26.3h0M127.9 25.1h0M160.5 25.3h0M137.2 25.4h0M172.8 27.5h0M146.7 26.6h0M173.4 27.3h0M155.4 25.3h0M164.9 25.6h0M159 27.2h0M164.9 27.3h0M184.1 28h0M166.9 26.1h0M179.8 26.3h0M156.6 25.2h0M143.6 26.4h0M171 27.6h0M126.2 24.7h0M178.3 26.2h0M161.1 26.4h0M170.8 27.3h0M167.2 26.2h0M138 25.6h0M142.4 26.1h0M184 26.9h0M171.8 26.2h0M182.5 27.4h0M161.5 26.6h0M140 24.3h0M121.7 34.2h0M123.4 27.4h0M162 25.7h0M158 26.9h0M121.6 36.4h0M185.5 27.7h0M154 25.1h0M168.5 26.6h0M171.9 26.2h0M129.4 24.7h0M132.3 24.7h0M145.8 24.9h0M164.1 26.9h0M185.9 26.7h0M135.6 25.4h0M165.9 25.6h0M147.3 25.7h0M179 27.9h0M159.3 26.7h0M153.3 25.1h0M179.8 27h0M150.6 25.3h0M132.4 26h0M159.2 26.1h0M182.1 27.6h0M155.5 26.7h0M141.9 25.5h0M178 28.2h0M148.2 24.9h0M131.4 24.2h0M182.5 28h0M177.4 26.5h0M158 26.5h0M144 26.4h0M146.7 26.8h0"/>
<path class="pp" d="M137.2 24.3h0M123.2 28.5h0M125 26.3h0M150.8 25.9h0M172.3 26.8h0M169.6 26.4h0M154 25.5h0M144.9 26.3h0M127.5 25.4h0M132.6 25.3h0M130.3 25.4h0M137.3 25.8h0M173.9 27.7h0M145.7 26.2h0M162.8 25.5h0M139.7 26.1h0M127.2 24.7h0M168.1 27.2h0M147 25.4h0M157 25.5h0M135 24.9h0M182.8 26.9h0M165.2 27.3h0M185.2 26.7h0M161.8 26.3h0M144.7 24.8h0M132.8 26.1h0M163.4 27.4h0M141.4 24.5h0M168.5 26.4h0M166.1 26.2h0M183.8 28.2h0M137.4 26.1h0M133.1 25.5h0M176.9 26.2h0M159.2 25.9h0M152.1 25.8h0M155.6 26.5h0M152.6 25.5h0M126 25.9h0M169.1 26.7h0M172.3 25.8h0M181.8 27.2h0M121.6 44h0M142.6 24.5h0M141.8 25.2h0M153 26.8h0M149.3 26.1h0M137.1 24.5h0M166.8 25.5h0M171 27.5h0M172.9 27.2h0M135.2 25.6h0M125.7 25h0M125.6 25.3h0M168.1 25.8h0M126.6 25.7h0M167.7 27h0M174.6 26.4h0M163.9 27.3h0M156.8 25.6h0M178.9 27.8h0M168.3 26.5h0M183.7 27.7h0M163.5 26.7h0M140 25.3h0M144.7 26.5h0M152.1 25.9h0M178.8 28h0M182.1 26.4h0M151.7 25.6h0M157.9 26.2h0M145.1 26.1h0M153.8 27.1h0M154.7 26.8h0M146.2 25.4h0M139.4 24.9h0M149.1 24.8h0M161 27.1h0M173.3 27.4h0M132.4 25.6h0M170.5 26.8h0M152.5 25.1h0M180.9 27.5h0M177.7 27.4h0M144.5 26.3h0M164.9 27.4h0M126.5 26h0M142.7 26.3h0M130.9 25h0M122.9 26.6h0M148.7 26.6h0M135.2 24.4h0M161.8 25.5h0M128.4 23.8h0M143.6 25.2h0M174.7 27.8h0M143.9 26.6h0M156.7 26.1h0M172.6 26.2h0M164.5 27h0M166.5 27.5h0M182.4 26.7h0M174.6 27.7h0M124 26.5h0M139.2 25.4h0"/>
<path class="pp" d="M123.6 28.4h0M159.7 27h0M127.4 25.4h0M172.1 27.2h0M152.6 25.8h0M163.7 26.9h0M158.7 25.2h0M122.4 30.9h0M161.3 27.2h0M169.7 26.5h0M186 28h0M183.5 27.7h0M176.2 27.5h0M179.3 28.2h0M125.5 25.4h0M179.2 27.4h0M151.5 25.3h0M156.6 26.5h0M159 27.2h0M129.3 25.9h0M136.1 24.4h0M146 26.7h0M135.5 25.5h0M187 28.5h0M132.3 25.5h0M169.9 27h0M143.1 24.6h0M165 26.3h0M154.3 25.9h0M126.3 25.2h0M130.3 25.8h0M121.8 61.5h0M149.4 24.9h0M135.8 24.6h0M147.4 26.2h0M158.3 26.5h0M126.7 24.8h0M141.7 25.1h0M186.2 28.4h0M182.8 27.1h0M136.1 25.9h0M146.5 26.5h0M168.6 27.4h0M128.9 24.6h0M149.8 24.9h0M183.6 26.9h0M138.2 24.5h0M182 28.2h0M171.4 26.9h0M134 24.5h0M127.3 25.2h0M122 30h0M179.6 27.8h0M140.9 26.1h0M185.7 28.3h0M173.1 27.3h0M141.1 24.7h0M169.7 27.1h0M138 25h0M154.9 26.9h0M146.9 26.6h0M122.1 34.5h0M168.8 27h0M167.9 25.7h0M130.6 24.6h0M133.8 26h0M156.3 25.6h0M165.5 27.2h0M145.4 25.5h0M182.9 26.8h0M169.9 27.1h0M169 25.9h0M170.3 26.1h0M185.1 28.1h0M137.5 26.2h0M164 25.5h0M173.1 27.6h0M170.7 27.5h0M153.2 25.6h0M130.8 23.9h0M122.3 31.3h0M175.2 27.7h0M123.6 26.7h0M185 28.3h0M139.1 26.3h0M172.1 26.1h0M121.8 33.6h0M132 25.8h0M152.6 26.3h0M173.4 27h0M139.3 26.2h0M145.1 26.5h0M138.3 26.3h0M185 28.4h0M182.2 26.9h0M148 26.5h0M151.6 26.9h0M171.9 27.7h0M169.2 26.7h0M126.7 24.6h0M140.1 25.5h0M137.1 26.1h0M138.1 25.1h0M135.3 25.7h0M125.2 25.3h0"/>
<line class="rga" x1="121.5" y1="25.599999999999998" x2="185.5" y2="27.7"/>
<circle class="mk" cx="131.3" cy="24.3" r="1.5"/>
<path class="ax" d="M390.0 18.80V66.00M389.5 65.50H460.5"/>
<path class="ax" d="M386.5 24.40H390.0M386.5 40.70H390.0M386.5 57.00H390.0M393.00 65.5v3M425.00 65.5v3M457.00 65.5v3"/>
<text class="ann" x="458.00" y="40.10" text-anchor="end" font-size="6.5">p-val: <tspan dy="0.7" stroke-width="0.12" fill="#222" stroke="#222">***</tspan></text>
<text class="ann" x="458.00" y="47.50" text-anchor="end" font-size="6.8"><tspan font-style="italic">R</tspan><tspan dx="0.5" dy="-2.6" font-size="5.2">2</tspan><tspan dy="2.6">: 0.85</tspan></text>
<rect class="lg" x="414.64" y="51.30" width="42.36" height="11.00"/>
<circle class="ldg" cx="423.44" cy="56.80" r="1.5"/>
<text class="ann" x="454.80" y="59.10" text-anchor="end" font-size="6.5">BiRNN</text>
<line class="rgb" x1="392.5" y1="39.3" x2="456.5" y2="26.6"/>
<path class="cg" d="M396 39.5L402 36.7L420 33.4L440 30.4L458 27.6L458 30.6L440 33.2L420 36L402 39.2L396 42Z"/>
<path class="pg" d="M457.2 28.3h0M430.1 33.2h0M432.8 31.6h0M406.6 37.6h0M434 32.8h0M446.1 31.4h0M404.4 36.4h0M395 45.2h0M439.1 31.5h0M406.2 37.9h0M445.7 31.5h0M395.1 42.1h0M435.7 31.4h0M404.6 38.2h0M398.5 39.7h0M417.8 35.6h0M396.4 40.6h0M397.9 40.3h0M406.2 36.5h0M412.6 35.4h0M457 29.6h0M400.1 38.2h0M418.6 34.5h0M446.8 31.6h0M414 35.3h0M424.5 33.2h0M420.8 35.4h0M398.5 38.9h0M457.8 28.2h0M429.1 32.7h0M454 30h0M455.1 29.8h0M397.9 40h0M425.9 32.9h0M399.9 39.7h0M422.8 34.7h0M402.7 37h0M441.9 30.4h0M394.1 42.9h0M392.9 57.8h0M455.2 29.7h0M422.3 35.2h0M443.5 32.1h0M447.4 29.4h0M426.1 34.4h0M449.4 31.2h0M394.2 44.2h0M418.3 34.3h0M456.4 28.1h0M410.7 35.4h0M411.3 35.3h0M404.2 37.9h0M415.7 35.5h0M456.4 29.7h0M407.1 37.6h0M404.3 36.6h0M449.3 30.3h0M452.2 29.6h0M397.1 41h0M422.8 33.4h0M435.7 31.7h0M428.7 33.5h0M436.6 31.3h0M449.4 29.9h0M457.1 29.4h0M400.4 38.1h0M400.3 39h0M415.9 35.9h0M408 36.6h0M398.1 39.3h0M440.9 31.2h0M426.2 33.5h0M424 34.1h0M440.3 31.3h0M399.1 39.6h0M434.8 31.5h0M399.3 39.6h0M444.7 30h0M431.4 32.3h0M434.3 33.2h0M457.9 30h0M444.3 30.9h0M445.1 31.8h0M413 35.6h0M407.7 36h0M439.2 32.2h0M400.8 37.5h0M416.2 35.5h0M450.6 31h0M453.9 29.1h0M421.1 33.6h0M403.3 38.1h0M409.7 36.7h0M428.3 34.2h0M401.1 37.9h0M413.5 35.5h0M411.3 35.8h0M411.4 36.1h0M429.9 34h0M448.3 30.9h0M447.2 31.1h0M428.5 32.9h0M394 42.7h0M432.3 33.7h0M409.1 35.7h0M402.2 36.9h0M399.5 38.2h0M411.8 36.6h0M418.2 34.2h0M444.1 30.4h0M455.5 29.5h0M438.6 32.7h0M428.9 32.2h0M402.8 37.9h0M456.7 28.2h0M422.7 34.4h0M433.7 32.5h0M427.5 34h0M403.7 36.8h0M404.5 37h0M444.1 31.6h0M454.7 28.9h0M410.4 37h0M445.9 29.7h0M429.3 34.3h0M431.8 33.7h0M440.5 30.7h0M404.8 36.7h0M413.3 36.6h0M440.6 32.1h0M413.2 36.4h0M417.2 35.9h0M455 30.3h0M407.7 36.4h0M438.7 32.1h0M404 38.1h0M393.3 55.1h0M421.1 35.2h0M441.6 31.5h0M432.8 32.7h0M453 28.8h0M403.7 36.8h0M434.4 32h0M452.7 29.4h0M441.6 32.2h0M403.2 36.6h0M445 29.8h0M444.5 31.2h0M438 31.2h0M457.7 28.4h0M457.7 29h0M457.8 28.4h0M395.2 44.5h0M412.8 36.6h0M405.5 38h0M412.6 35.9h0M422.2 33.7h0M427.4 32.8h0M441.5 30.7h0M412.9 35.3h0M414.8 35.2h0M432.9 33.4h0M425.7 34.5h0M411.1 37.1h0M425.7 34.2h0M425.6 34.7h0M439.4 32.5h0M447.5 30.8h0M406.5 36.3h0M423.2 34.6h0M394.8 45.2h0M434.6 32.6h0M415.4 35.8h0M428.6 33.7h0M419 34.2h0"/>
<path class="pg" d="M403.1 37.7h0M396 39.7h0M449.6 29.7h0M442.1 31.7h0M411.7 35.3h0M408.2 36.1h0M413.8 36.6h0M408.7 37.4h0M421.7 34.6h0M429.6 34.1h0M419.8 34.6h0M412.2 36.6h0M404.7 37.9h0M454.6 28.8h0M428.3 32.7h0M435.7 32.3h0M421 35.3h0M399.7 38.8h0M393.3 51.9h0M419.8 35.4h0M432.1 32.5h0M401.8 38h0M417.5 35.4h0M428.1 33.2h0M428.5 34h0M412.8 36h0M392.8 55h0M445 30.1h0M399.9 38.9h0M397.8 40.1h0M433.1 31.9h0M421.6 33.3h0M433 33.4h0M421.7 34.3h0M421.6 33.5h0M426.5 33.8h0M438.9 32.6h0M424.8 34h0M405.3 36.7h0M439.7 31.4h0M439.4 31.1h0M403.6 37.8h0M397.1 40.1h0M403.8 37.1h0M443.9 31h0M403.3 38.3h0M399.2 38.5h0M413.8 35.5h0M436 32.2h0M457.6 27.8h0M401.4 38.4h0M443.1 32.1h0M440.6 31h0M397.5 40.1h0M438.2 31.7h0M422.9 34.1h0M395.9 41.6h0M456.9 28.9h0M451.9 29.2h0M443.9 31.1h0M398.8 40.3h0M433.5 33h0M411.3 35.7h0M419.1 34.2h0M393.4 49.1h0M445 30.5h0M434.1 33.5h0M448.3 31.3h0M437.4 31.3h0M447.1 30h0M442.1 30.8h0M444.2 31.7h0M402.8 37.9h0M417.4 35.4h0M420.5 34.7h0M453.1 29.3h0M420 35.6h0M409.4 37h0M434.3 33.4h0M445.6 30.5h0M451.5 29.1h0M445.5 29.8h0M400.8 38h0M442.9 31.7h0M434.6 32h0M412.9 35.2h0M395.9 41.7h0M403.1 38.3h0M451.2 29.5h0M431.4 33.9h0M395.3 42.6h0M423.4 34.6h0M396.2 39.9h0M405.7 38h0M418.7 34.6h0M405.2 37.4h0M438.7 31.1h0M439.2 31.1h0M444.1 32.1h0M409.8 36.1h0M450.4 29.8h0M447.3 30.4h0M453.6 28.7h0M430.5 33.2h0M416.7 35.8h0M454.2 30.1h0M455.7 29.4h0M399.8 38.4h0M398.7 39.4h0M411.5 36.2h0M405.1 37.5h0M420 34h0M449.4 29.7h0M413.3 36.6h0M435.3 31.8h0M430.8 33.5h0M417.7 34.7h0M435.5 31.9h0M451.3 30.4h0M411.2 36.5h0M442.8 31.4h0M456.1 29.3h0M411.6 36.1h0M451.7 31h0M451.8 29.1h0M407.9 37.5h0M430 34.2h0M416.1 35.7h0M419.3 34.6h0M396.7 39.5h0M392.7 60.1h0M436.4 32.2h0M416.4 34.4h0M406 36.6h0M440.8 30.8h0M445.5 29.6h0M411.4 35.4h0M447.2 30.8h0M446.3 30h0M445 30h0M412.1 35.1h0M443.2 31.8h0M418.2 35.3h0M423.1 34.6h0M392.8 56.4h0M413.8 35.8h0M433 32.4h0M434.3 32.5h0M428 34.3h0M394 46.5h0M436.9 33.1h0M406.7 37h0M405.6 37.1h0M455.1 28.5h0M423.3 35.1h0M422.6 33.8h0M444.5 31.8h0M425.3 34.8h0M419.6 35.2h0M428.7 33.6h0M444.4 30.1h0M434.7 32.3h0M432.8 32.3h0M449 29.3h0M410.9 37h0M452.1 28.6h0M396 41.2h0M413 34.9h0M439.4 32.3h0M451.2 31.1h0M393.5 46.5h0M414.1 35.8h0M399.5 39h0M445.6 31.1h0M396.9 39.5h0"/>
<path class="pg" d="M456.7 30.1h0M421.4 33.9h0M425 34.4h0M418.1 34.2h0M436.2 31.7h0M398.2 39h0M437.6 32h0M454.5 30.3h0M453.7 29.4h0M447 31.6h0M457.5 27.8h0M414.1 34.7h0M405 38.2h0M425 34.3h0M403.8 37.1h0M397.1 39.7h0M420.2 34.9h0M416.1 34.8h0M440.3 32.4h0M447.5 30.9h0M400.4 39.2h0M451.1 29h0M421.1 34h0M450.8 29.2h0M438.5 32.9h0M438.4 32.3h0M444.8 29.9h0M426.1 33.3h0M400.5 37.5h0M454.9 30.3h0M394.1 46.5h0M394.6 46.5h0M447.5 30.6h0M435.7 33.1h0M439 32h0M434.9 31.9h0M408.8 36.9h0M411.8 36.2h0M408 35.9h0M408.4 37.4h0M402.5 38.4h0M419.1 35.5h0M428 33.5h0M452.5 29.7h0M396.9 39.3h0M424.2 34.2h0M441.3 30.5h0M445.6 31.4h0M394.3 41.8h0M397.8 39.4h0M412.5 35h0M407.8 36.4h0M424 35h0M435.3 32.2h0M429.1 33.1h0M437.9 32h0M413.5 36.1h0M397.5 39.3h0M443.1 30.3h0M424.6 32.9h0M440.8 30.7h0M405.5 36.7h0M451 30.7h0M436.1 31.5h0M451.4 29.7h0M450.9 29.9h0M435.4 32.5h0M406 37.1h0M426.6 32.8h0M447.8 30.1h0M398 39h0M421.2 33.4h0M455.9 28.5h0M394.6 42.7h0M400.2 39.2h0M428.1 32.6h0M426.1 33.9h0M418 35.2h0M398.8 39.3h0M442 32h0M436 32.9h0M437.9 31h0M414.2 35.4h0M401.7 38.7h0M431.7 32.8h0M425.4 34.3h0M425 34.8h0M407.3 36.5h0M397.5 39.7h0M429.9 32.5h0M438.4 31.5h0M431.9 33.9h0M419.9 35.4h0M428.1 34.4h0M425.8 33.7h0M422.2 33.7h0M419.2 34.8h0M397 40.1h0M431.7 32.1h0M456.6 30.3h0M419.2 35.2h0M430.3 32.7h0M431.7 32.3h0M433.4 32.8h0M447.1 31h0M446 31.1h0M442.5 30.3h0M414.4 35.5h0M426.3 34.7h0M416.5 34.2h0M451.8 30.6h0M400 38.4h0M396.3 40.2h0M421.9 34h0M411.7 36.7h0M401.1 37.9h0M398.7 39.1h0M413.5 35.1h0M434.1 32.4h0M414.7 34.6h0M421.6 35.2h0M414.3 35h0M438.9 31.5h0M421.8 33.4h0M402.2 38.3h0M440.1 31h0M403.1 37.4h0M447.3 31.3h0M409.5 36.4h0M394.3 45.5h0M453.1 29.8h0M411.7 36.5h0M405.4 37.2h0M398.4 39.4h0M406.7 37.2h0M418.8 34.1h0M429.4 32.3h0M440.1 30.8h0M400.8 39h0M395.1 40.8h0M406.3 37.3h0M428.7 32.4h0M420.3 33.8h0M450.4 29.4h0M449.2 30.8h0M439.2 31.4h0M392.8 52.8h0M422.9 33.3h0M449.5 29.7h0M395.6 41.6h0M457.3 29h0M405.4 36.9h0M451.3 29.2h0M415.3 35.4h0M417.6 35.3h0M412.2 36.5h0M443.5 31h0M457.6 30h0M393.9 45.9h0M397 39.3h0M403.8 37.2h0M410.4 35.9h0M393.1 49.4h0M431.2 33.7h0M454 30.5h0M441.5 31.8h0M405.1 37.8h0M444.6 30.6h0M455 30.1h0M403.1 36.6h0M407.3 36.2h0M424.7 34.5h0M425.3 33.9h0M433.4 33.2h0M419.6 34.2h0"/>
<path class="pg" d="M401.8 37.6h0M454.7 29.8h0M444.9 30.7h0M411.6 35.7h0M416.5 36.3h0M449 30.7h0M409.4 36.9h0M420.5 33.6h0M413.3 35.7h0M448 30.7h0M446.7 31.6h0M417.5 35.5h0M393.3 54.3h0M434 32.6h0M452.6 29h0M408.3 36.6h0M454.1 28.7h0M445 31h0M445.3 31.6h0M446.1 31h0M434.5 31.6h0M433.5 33h0M442.2 31.9h0M413.8 35.5h0M431.4 33.7h0M401.3 37.9h0M438.9 31.1h0M439 31.7h0M435.9 32.8h0M403.3 38.3h0M426 33.7h0M427.1 33.4h0M393.2 54.8h0M411.5 36.2h0M444.7 31.4h0M398.7 39.2h0M455.1 30.6h0M437.6 31.2h0M403.7 38.1h0M404.6 37.6h0M396.5 40.8h0M428.4 32.3h0M424.3 33.1h0M427.1 32.7h0M425.8 34.2h0M417.7 36.1h0M452.4 30.8h0M446.8 29.5h0M430.9 32.6h0M425.1 34.9h0M403.9 37.7h0M426.7 32.5h0M454 29.2h0M455.3 28.2h0M406.3 36.3h0M403.8 37.8h0M432.1 32.2h0M456 29.1h0M425.1 34.9h0M449.5 29h0M440.3 32.4h0M430.5 34.1h0M434.2 33.1h0M443.7 32h0M435.2 32.9h0M417.6 35.3h0M441.2 31.1h0M415.3 35.1h0M405.3 37.5h0M396.1 41.4h0M392.7 52.4h0M449.9 30.4h0M410.2 37.2h0M392.9 48.5h0M406.9 36.7h0M443.2 32h0M421 34.4h0M449.8 30h0M451.2 28.8h0M423.1 33.1h0M453.3 29.8h0M400.7 38h0M454 28.8h0M430.5 32.7h0M452.4 30h0M428.1 33.1h0M413.9 36.7h0M407.2 36.7h0M455.2 29.2h0M423.3 34h0M448.6 29.1h0M454.3 30.6h0M441.6 31.3h0M447.1 30.8h0M412.6 35.4h0M398.3 40.3h0M431.1 33.8h0M403.8 36.6h0M417.1 35.1h0M414.5 36h0M444.9 29.9h0M447.4 29.9h0M433 32.1h0M438 33h0M456.5 29.2h0M428.6 34.4h0M435.9 31.4h0M428.4 32.5h0M415.1 36.2h0M454.9 30.4h0M411.2 35.4h0M435 33.2h0M435.2 32.4h0M423.5 33.6h0M420.9 34.4h0M456.1 30.2h0M397.4 40.6h0M425.9 34.8h0M423 34.9h0M439.2 30.8h0M394 45.2h0M421.1 34.8h0M430.8 33.1h0M437.2 32.4h0M432.4 32.9h0M457.9 28.1h0M420.6 34.5h0M397.7 38.9h0M402.4 36.9h0M446.3 30h0M396.5 39.7h0M443.7 31.6h0M457.8 28.2h0M454.7 28.2h0M421 35.2h0M398.2 40.3h0M431.7 31.9h0M413.2 36.5h0M400.8 37.4h0M453.4 29.4h0M426.3 34.5h0M439.6 30.7h0M403.3 36.7h0M402.6 37.9h0M408.6 35.7h0M443 31.6h0M407.4 36.2h0M396.3 39.7h0M435.2 31.8h0M453.8 28.5h0M417.6 34.1h0M392.6 59.6h0M442.4 31.6h0M400.4 38.6h0M411.2 35.2h0M398 39.3h0M451.3 29.2h0M426.6 33h0M444 31.1h0M425.2 33.4h0M428.4 33h0M395.7 40.5h0M426.5 33.6h0M423.7 33.8h0M407.2 36.4h0M457.2 30.3h0M396.2 39.5h0M437.3 32.5h0M394.3 44.9h0M457.3 29.3h0M435.3 33.1h0M420.5 34.6h0M439.8 32.5h0M427.8 32.9h0M442.6 31.1h0"/>
<circle class="mk" cx="402.7" cy="37.5" r="1.5"/>
<path class="ax" d="M199.9 18.80V66.00M199.4 65.50H270.4"/>
<path class="ax" d="M196.4 23.40H199.9M196.4 42.50H199.9M196.4 61.60H199.9M202.90 65.5v3M234.90 65.5v3M266.90 65.5v3"/>
<text class="ann" x="267.90" y="40.10" text-anchor="end" font-size="6.5">p-val: <tspan dy="0.7" stroke-width="0.12" fill="#222" stroke="#222">***</tspan></text>
<text class="ann" x="267.90" y="47.50" text-anchor="end" font-size="6.8"><tspan font-style="italic">R</tspan><tspan dx="0.5" dy="-2.6" font-size="5.2">2</tspan><tspan dy="2.6">: 0.81</tspan></text>
<rect class="lg" x="230.32" y="51.30" width="36.58" height="11.00"/>
<circle class="ldp" cx="239.12" cy="56.80" r="1.5"/>
<text class="ann" x="264.70" y="59.10" text-anchor="end" font-size="6.5">CNN</text>
<path class="cp" d="M202.5 30L203.5 25.6L205 23.7L214 23.5L217 25.7L240 25.9L268 25.9L268 28.5L240 28.9L217 28.7L214 25.6L205 26.1L203.5 30.9L202.5 40Z"/>
<path class="pp" d="M227.9 28.2h0M219.9 27.9h0M231.6 25.9h0M265.4 27.3h0M206.8 25.8h0M226.9 27.6h0M257.9 26.6h0M236.1 27.7h0M233.2 28h0M206 24.4h0M226.9 25.8h0M238 26.3h0M222.5 29h0M205.9 25.4h0M221.8 25.5h0M203.7 26h0M217 27.9h0M202.8 28.4h0M265.8 27.4h0M231.7 28.5h0M214.2 25.2h0M263 25.7h0M239.2 29.2h0M242.4 27.2h0M251.7 27.8h0M262.5 26.9h0M226.4 25.7h0M263.5 26.5h0M210.2 23.9h0M263.2 26.8h0M231.8 27.5h0M227.2 26h0M261.8 28h0M233.4 27.9h0M236.5 28.1h0M253.6 28h0M254.2 27.2h0M221.3 25.5h0M266.7 26.1h0M236.6 26.2h0M235.6 29.1h0M256.8 25.6h0M216.1 27.5h0M267.1 28.3h0M203.8 27.5h0M233.2 26.6h0M240.5 26.2h0M225 26.6h0M224.8 26.4h0M263.8 26.2h0M231.9 27.1h0M238 27.3h0M245 28.2h0M220.1 25.5h0M231.1 26h0M216.1 27.3h0M257 27.2h0M241.9 26.8h0M264.6 26.4h0M229.8 26.4h0M253 25.8h0M251.5 26.7h0M254.3 25.7h0M250.1 25.8h0M209.3 24.8h0M259.1 25.7h0M219.6 26.5h0M249.9 28.2h0M259.2 27.3h0M232.9 27.6h0M231.5 27.8h0M255.3 27.2h0M267.9 28.2h0M229.5 29h0M250.3 27.6h0M265.8 27.9h0M257.2 28.1h0M234.4 28.6h0M231 28h0M241.8 28h0M265.6 26.8h0M234.5 26.3h0M262.2 27.8h0M239.1 28.4h0M218.4 25.5h0M224.2 25.7h0M225.4 28.4h0M236.4 26.1h0M261 25.9h0M246.6 27.6h0M216.8 26h0M254.3 27.5h0M213.6 24.5h0M258.7 27.3h0M238.6 27.5h0M237.5 25.8h0M208.9 25.6h0M203 30.4h0M239.4 29.1h0M260.6 26h0M213.3 24.6h0M245.1 28.6h0M211.1 25.1h0M218.2 26.7h0M226.4 28.4h0M230.7 25.7h0M249.1 29h0M248.1 25.8h0M237.2 26.2h0M236.2 26.1h0M217.4 28.4h0M229 25.9h0M247.9 27.9h0M228.9 27.6h0M233.8 28.5h0M263.8 28.1h0M231.3 26.3h0M235.4 25.6h0M257.3 25.9h0M249.3 29h0M208.9 25.9h0"/>
<path class="pp" d="M218.7 26.3h0M262.1 28.6h0M228.6 27.5h0M243.7 25.8h0M206.3 25.6h0M244.6 26.8h0M247.2 28.5h0M235.9 28.1h0M240.5 28.4h0M253.6 28.3h0M245.9 26.1h0M234.9 28.7h0M264.5 28.5h0M249.8 28.8h0M226.5 27.3h0M203.4 30.7h0M254.2 26.8h0M223.6 27.7h0M262.4 28.8h0M240.1 28.5h0M208.9 24h0M255.5 28.8h0M257.9 25.7h0M265.3 28h0M244 27.8h0M208.1 24.5h0M217.7 27.8h0M263.4 25.7h0M214.3 24.3h0M234.3 27.4h0M227 25.7h0M251.2 28.5h0M260.9 25.7h0M233.6 28.4h0M251.4 28.9h0M250 27.1h0M258.8 26.8h0M254.2 27.4h0M210.4 23.6h0M243.3 27.2h0M243.2 27.1h0M237.6 26.1h0M249.1 26.7h0M267.1 26.3h0M265.8 26.3h0M218.1 26.2h0M265.1 26.9h0M254.1 27.9h0M224.8 28.4h0M265.3 28h0M229.9 28.8h0M227.9 26.3h0M228 28.7h0M247.6 27.2h0M223.1 26.2h0M238.2 26h0M211.5 25h0M261.3 26.1h0M215.4 25.9h0M218.2 27.3h0M212.2 24.3h0M246.1 26.4h0M252.7 28.6h0M258.3 28.5h0M239.5 27.5h0M224.3 26.2h0M245 27.5h0M204 27.5h0M266.5 25.8h0M258.1 28.5h0M247 25.9h0M252.2 27.6h0M251.3 27.5h0M233.8 28.7h0M260.1 26.1h0M223.4 27.8h0M267 28.1h0M265.5 28.8h0M219.7 26.1h0M209 25h0M219.4 26.6h0M208.1 23.8h0M235.6 26.7h0M211 25.1h0M253 26.2h0M225.3 27.8h0M229 26h0M222.5 28.5h0M238 28.9h0M263.5 27.5h0M219.8 26.3h0M222 27.7h0M245.5 28.7h0M258.3 27.6h0M223.5 25.7h0M262.1 28.1h0M211.4 24.2h0M204.2 24.3h0M230.1 27.8h0M257.1 28h0M221.8 27.5h0M210.8 24.7h0M263.3 26.8h0M220.5 27.6h0M243.3 26.1h0M240.3 27.1h0M263.6 28.8h0M246 27.6h0M209.9 24.6h0M208.3 24.5h0M262.5 27.1h0M241 27.2h0M235.2 27.7h0M220.4 25.9h0M220.2 26.7h0M217.7 26.5h0M247.9 26.2h0M240.4 26.1h0M209.6 24.2h0M205.2 24.5h0M208.7 25h0"/>
<path class="pp" d="M237.2 27.9h0M211.4 25.7h0M257.9 26.1h0M237.4 28.1h0M237.3 27.8h0M244.1 28h0M234.9 27.5h0M255.9 28.4h0M263.5 27.7h0M258.6 26.9h0M254.6 27.2h0M208.1 24.4h0M231.4 28.4h0M216.2 27h0M259.2 25.9h0M231.4 25.9h0M264.8 27h0M240.6 28.9h0M211.3 24.1h0M216.3 26.3h0M215.3 25.9h0M263.4 26.5h0M251.5 26.2h0M259.3 26.4h0M215.9 25.7h0M259.1 26.1h0M246.1 27.4h0M263.9 27h0M244.5 25.9h0M238 28.2h0M205.7 23.7h0M260.4 26.5h0M224.9 26.9h0M224.7 27.4h0M215.8 27.6h0M223.7 25.9h0M260.7 28.8h0M203.2 40h0M247 28.1h0M212.5 24.2h0M252.6 26.8h0M216.6 26.6h0M245.8 26.5h0M253.4 27h0M254.1 26.9h0M256.5 26.3h0M206.1 25.4h0M256.3 25.7h0M219.2 25.8h0M259.9 27.3h0M239.1 27.9h0M214 25.6h0M224.2 27.8h0M231.9 28.5h0M211.5 23.6h0M245.2 25.8h0M250.2 27.4h0M226.2 25.8h0M260.5 27.4h0M221.7 28h0M252.7 27h0M212.8 24.3h0M214.5 24.5h0M248.7 28.3h0M233 28.6h0M205.3 25h0M241 26.2h0M222.3 28.7h0M237.2 27.5h0M232.2 29.1h0M263.6 26.9h0M243.7 28.7h0M240.1 28h0M235.2 28.8h0M230.7 27h0M215.9 27.4h0M226.2 28.7h0M216.4 27.1h0M202.8 37.6h0M204.3 28.3h0M254.1 26.1h0M247.4 28.6h0M204.9 24h0M242.3 28.1h0M232.5 29.1h0M231.9 29h0M226.7 27.7h0M248.7 27.5h0M259.1 25.9h0M212.8 25.5h0M263 27.1h0M232.7 29.1h0M215.7 27.3h0M242.6 28.6h0M222.4 27.5h0M218.2 26.7h0M238.7 28.1h0M214.7 26h0M231.9 26.4h0M238.2 28.5h0M211.9 25.1h0M255.9 26.1h0M236.4 26.1h0M250.2 28.2h0M243.5 28.7h0M220.7 26.1h0M220.2 27.2h0M240.1 27.9h0M236.4 27.3h0M211.2 24.1h0M245.1 25.9h0M203.6 29.1h0M206.3 25.3h0M237.3 28h0M267 28.6h0M203 27.6h0M263.2 26.5h0M230.3 26.3h0M233.9 28.4h0M215.1 26.7h0"/>
<path class="pp" d="M221.8 26.1h0M238.9 28.1h0M208.5 24.1h0M247 28.9h0M264.9 26.3h0M267.7 28.6h0M224.4 25.7h0M255.9 26.4h0M242 28.5h0M214.4 23.9h0M256.7 26.8h0M218.1 26.3h0M264.8 25.7h0M209.1 24.3h0M218.9 27.6h0M221.9 26.1h0M206.1 25.5h0M236.8 28.7h0M260.1 27.2h0M239.3 27.4h0M237.8 28.6h0M251.4 25.9h0M217.9 27.8h0M225.2 25.6h0M251.7 27.5h0M217.8 26h0M242.2 27.2h0M220.2 27.1h0M265.9 28.2h0M208.5 23.8h0M235.5 28.1h0M231.8 26.7h0M218.5 26.3h0M209.4 24.6h0M239.5 26.1h0M205.5 24.5h0M217.8 28.2h0M259.4 27.7h0M264.2 28.7h0M234.5 28.9h0M216 26.2h0M210.8 25.3h0M256.2 28.5h0M225.8 27.5h0M261.2 27.4h0M217.5 26.2h0M245.6 27.6h0M247.9 25.7h0M222.4 28h0M262.6 26.2h0M224.1 28h0M222.4 25.5h0M213 24.7h0M212.3 23.9h0M207.3 24.2h0M238 28.7h0M241.4 28h0M231.8 28.1h0M234.2 28.5h0M259.5 27.8h0M223.9 26h0M235.7 25.7h0M235.1 27.7h0M246.3 27.5h0M247.7 26.4h0M235 26.2h0M232.3 28.6h0M247.3 25.8h0M235.3 28.6h0M216.2 25.9h0M268 27.5h0M235.4 29.1h0M202.8 45.5h0M208 25.2h0M217.5 25.6h0M231.5 27.7h0M232.8 29h0M214.6 24.8h0M259.9 28h0M253.8 28.5h0M207.3 26.1h0M232.9 27.2h0M240.6 26.3h0M204.5 25.4h0M266.7 26.5h0M250.6 27.8h0M238.5 25.6h0M229.4 27h0M259.8 28.6h0M210.9 25.7h0M265.7 27.2h0M227.6 27.6h0M243.9 27.4h0M232.5 27.7h0M246.1 26.3h0M258 28.5h0M239.7 27.8h0M237.5 26.2h0M204.3 26.4h0M215.1 25.5h0M266.8 28.3h0M229.2 28.6h0M208.1 26h0M256.6 27.8h0M262.3 27.4h0M214.8 24.4h0M265.5 25.9h0M236.6 29h0M244.9 27.2h0M263.8 27h0M254.6 28.5h0M263.8 26.4h0M213.9 25.3h0M267.9 26.9h0M225.8 28.5h0M241.2 27.2h0M243.6 28.7h0M231.6 25.9h0M209.4 24.4h0M267.5 27.2h0"/>
<line class="rga" x1="202.5" y1="27.0" x2="266.5" y2="27.9"/>
<circle class="mk" cx="215.4" cy="23.9" r="1.5"/>
<path class="ax" d="M471.5 18.80V66.00M471.0 65.50H542.0"/>
<path class="ax" d="M468.0 24.40H471.5M468.0 40.70H471.5M468.0 57.00H471.5M474.50 65.5v3M506.50 65.5v3M538.50 65.5v3"/>
<text class="ann" x="539.50" y="40.10" text-anchor="end" font-size="6.5">p-val: <tspan dy="0.7" stroke-width="0.12" fill="#222" stroke="#222">***</tspan></text>
<text class="ann" x="539.50" y="47.50" text-anchor="end" font-size="6.8"><tspan font-style="italic">R</tspan><tspan dx="0.5" dy="-2.6" font-size="5.2">2</tspan><tspan dy="2.6">: 0.83</tspan></text>
<rect class="lg" x="501.92" y="51.30" width="36.58" height="11.00"/>
<circle class="ldg" cx="510.72" cy="56.80" r="1.5"/>
<text class="ann" x="536.30" y="59.10" text-anchor="end" font-size="6.5">CNN</text>
<line class="rgb" x1="473.5" y1="33.4" x2="537.5" y2="22.5"/>
<path class="cg" d="M477 31.8L480 29.6L484 27.6L490 26L500 25L520 24.4L538 24L538 25.9L520 26.3L500 27L490 28.2L484 30L480 32.3L477 35Z"/>
<path class="pg" d="M476.6 32.8h0M478.7 32.6h0M512.9 26h0M497 26.9h0M531.2 25.1h0M479.4 31.3h0M504.9 25.7h0M495.6 25.8h0M533.1 25.6h0M511.4 26.1h0M477.9 34.1h0M494.2 27h0M504.4 25.3h0M498.1 26.5h0M528 25.6h0M506.4 25.7h0M478 33.7h0M516.6 25.9h0M482 30.5h0M496.2 26.6h0M500.9 25.9h0M493.1 25.8h0M482.1 29.9h0M503.6 26.3h0M504.1 24.9h0M515.4 24.8h0M522.1 25.7h0M492.8 27.3h0M473.6 57h0M530.5 24.2h0M515.3 25.8h0M537.7 25.2h0M496.3 26.2h0M500.5 25.6h0M496.2 25.5h0M479.2 31.7h0M508.3 25.5h0M510.5 26h0M509.3 25.6h0M497.5 26.9h0M482.5 30.1h0M529.6 25.4h0M489.7 27.7h0M517.1 25.1h0M513.2 25.6h0M500.6 26.1h0M476.8 33h0M478.8 30.7h0M478.5 33.6h0M522.7 25.8h0M532.9 24.2h0M520.9 24.9h0M513.6 24.7h0M494.1 25.9h0M516.5 24.5h0M474.8 44.5h0M526.7 24.3h0M486.8 27h0M484.8 28.2h0M507.3 25.3h0M479.9 31.6h0M480.7 31h0M475.6 34.6h0M530.7 25.4h0M483.5 28.1h0M490.5 27.3h0M527.6 25.4h0M532.8 25.4h0M522.2 25.5h0M481.6 29.7h0M496.6 27h0M521.2 25.3h0M494.6 25.7h0M516.4 25.3h0M512 24.8h0M479 30.7h0M483.8 29.1h0M523.5 24.3h0M537.8 24.7h0M507.4 25.6h0M487.4 27.2h0M530.4 24.5h0M521.2 24.6h0M485.3 28.8h0M474.2 44.3h0M499.3 25.8h0M513.9 24.7h0M536.6 24.4h0M522.8 25.5h0M500.5 26.1h0M489.2 27.7h0M512.7 24.9h0M479.4 32.3h0M476.3 36.3h0M490.7 27.6h0M480.7 30.6h0M507.4 25.5h0M509.1 24.8h0M473.9 44.4h0M535.1 24.4h0M529 25.6h0M488.2 26.8h0M480.4 30.9h0M509.6 25.1h0M502.6 25.6h0M530.1 25.5h0M503.7 25.1h0M479.4 32.6h0M478 33.2h0M474.5 44.8h0M488.8 26.9h0M513.4 25.2h0M511.9 25h0M479.4 32h0M485.6 27.5h0M480.2 30.4h0M475.2 36.2h0M503.8 26.3h0M510.4 24.8h0M531.5 25.6h0M474 49.5h0M488.2 27.6h0M506.9 26h0M533.6 24.7h0M487.2 28.6h0M480.8 30.5h0M534.6 25.6h0M524.1 25.4h0M489.1 26.3h0M534.9 24.1h0M533.2 24.1h0M488.6 26.9h0M500.1 26.1h0M508.6 26h0M515.2 24.8h0M531.3 25.3h0M500.5 25h0M515.2 25.2h0M497 26.9h0M494.8 25.7h0M518.5 25.7h0M508.6 25.8h0M502 25.4h0M490.9 27.7h0M506.2 26.2h0M527.7 24.6h0M536.4 24.5h0M514.2 25.7h0M527.7 25.5h0M518.9 24.7h0M484.7 29.6h0M532.3 24.8h0M515.7 24.8h0M517.9 25.9h0M487.6 26.9h0M523.6 24.8h0M481.8 29.2h0M511.2 24.9h0M527.1 24.6h0M495.3 25.7h0M535.6 24.5h0M520.8 25h0M494.4 27h0M510.1 26.2h0M481.1 29.6h0M537 24.6h0M528.8 24.2h0M498.7 26h0M512.7 25.8h0M508.7 26.1h0M502.3 25.7h0M535.5 25.1h0M526.9 24.3h0M491.9 25.9h0M498.9 25.5h0M506.8 26.1h0"/>
<path class="pg" d="M524.8 24.5h0M518.3 24.5h0M516.5 25.6h0M523.9 24.9h0M517.8 25.2h0M506.8 26h0M492.2 27.5h0M496.1 26.2h0M536.2 24.5h0M485.4 27.5h0M519.4 25.9h0M512.7 25.3h0M475.8 38.5h0M521.8 24.6h0M534.8 24.6h0M520.6 25h0M488.9 27.7h0M473.8 49.1h0M499.1 26.5h0M519.8 25h0M498.7 26h0M478.8 32.6h0M485.3 27.6h0M508.3 26.2h0M492.6 27h0M535.1 24.9h0M476.2 33.7h0M482.4 29h0M513.7 24.7h0M497.5 26.1h0M533.7 25.1h0M536.7 25h0M501.6 25h0M523.3 24.8h0M490.2 26.4h0M526.8 25.5h0M527.7 25.7h0M483.8 28h0M524.7 25.1h0M486.1 28.4h0M535.3 25.1h0M524.4 25.1h0M496.9 26.8h0M474.5 42.3h0M509.9 24.8h0M496.5 27h0M522.2 25.3h0M495.5 27.1h0M501.6 25.6h0M515.5 25.9h0M489.9 27h0M507.2 25.8h0M515.3 25.4h0M491.2 26.6h0M502.5 26.4h0M507.1 25.2h0M526.5 25.3h0M496.6 25.5h0M493.3 27.4h0M516.5 24.8h0M512.2 25.1h0M483.1 28.2h0M504.2 25.1h0M537.8 24.9h0M493.5 25.9h0M529.4 24.5h0M524.8 24.8h0M513.5 25.4h0M497.9 26.2h0M494.2 26h0M515.6 25.2h0M530.1 24.6h0M479 31.7h0M504.2 25.2h0M522.2 25h0M486.7 27.2h0M514 25.5h0M531.7 25.7h0M516.2 25.6h0M513.7 24.7h0M532.2 24.3h0M489.6 27.1h0M528.2 24.4h0M533.9 25h0M525.5 25.3h0M508.3 25.7h0M500.2 25.5h0M484 28.8h0M500 26.1h0M536.4 25.4h0M478.3 31.7h0M518.8 24.7h0M498.5 25.2h0M524 24.4h0M515.5 26h0M520.3 25.5h0M500.6 25.3h0M473.7 43.9h0M489.8 27.7h0M526.7 25.5h0M476.7 33.8h0M495.4 25.8h0M496.2 26.1h0M505.3 25.5h0M502.6 25.1h0M525.9 25.8h0M522.5 25.8h0M520.4 25.9h0M510.6 24.9h0M522.8 24.8h0M478.3 32.2h0M512.5 24.7h0M492.3 26.6h0M535.2 25.3h0M526.5 24.8h0M478.4 33.3h0M523 25.4h0M527.8 24.4h0M503.2 25.7h0M514.4 24.6h0M536.6 24.8h0M479.9 31.8h0M505.7 26.2h0M475.3 38.1h0M493.6 27h0M532.5 24.3h0M513.3 24.6h0M491.6 27.1h0M484.2 29.5h0M475.7 38.7h0M507.5 25.3h0M502.1 26.5h0M506.8 25.1h0M522.1 24.6h0M486.3 27.6h0M509.9 25h0M512.5 25.8h0M503.6 25.3h0M504.8 26h0M516.9 24.6h0M509.9 25.2h0M491.8 26.2h0M501.4 25.5h0M515.9 24.5h0M526.3 25.7h0M483 28.5h0M473.7 56.5h0M476.3 35.5h0M520.3 24.5h0M519.4 24.8h0M530.6 24.9h0M507.7 25.3h0M485.5 27.9h0M509.2 24.7h0M491.3 26.9h0M529.6 25.3h0M514.6 25.1h0M485.5 28.7h0M524.3 25.2h0M498.5 26.6h0M517.6 24.8h0M529.5 24.6h0M531.1 25.7h0M482.9 30.4h0M476.6 34.6h0M528 25.6h0M484.7 29.4h0M518 25h0M532.9 25.4h0M535.8 25.4h0M517.8 24.8h0M490.2 26.6h0M527.6 24.7h0M521.8 25.7h0M482.9 28.7h0M507 25.8h0"/>
<path class="pg" d="M502.4 26.3h0M503.1 25h0M497 25.7h0M504.9 25.5h0M497 26.8h0M485.5 27.9h0M516.9 25.3h0M476.2 34.2h0M533.4 24.1h0M537.6 24.6h0M515.9 25.3h0M536.3 25.3h0M520.5 25.8h0M530 24.6h0M528 25.5h0M517.7 25.3h0M483.1 29.1h0M517 25.1h0M478.5 31.5h0M516.2 26h0M517.5 25.4h0M535 24.9h0M537.7 25.5h0M508.8 26.1h0M509.8 26h0M523.1 25.1h0M528.9 25.5h0M504.7 25.9h0M473.9 52.4h0M506.3 25.7h0M534.2 25.2h0M525.1 25.7h0M510.5 25.9h0M508.3 26.1h0M505.4 25.9h0M509.1 24.9h0M489.8 26.5h0M516.1 25.4h0M482.9 29.4h0M493.1 27h0M507.9 25.8h0M480.6 29.3h0M516.6 24.8h0M485.2 28h0M474.5 41.4h0M496.8 26.5h0M492.9 26.5h0M505.6 25.4h0M484.1 29h0M529.6 25.1h0M504.7 26h0M487.5 28h0M507.5 25.4h0M509.8 26.1h0M528.7 24.7h0M508.9 24.9h0M513.8 25.4h0M479.2 32.4h0M503.5 25.1h0M504.3 26.5h0M517.1 25.2h0M490.3 26.8h0M517.2 25.1h0M535.1 24.6h0M507.4 25.6h0M496.8 26.2h0M502.2 25.3h0M502.4 25.3h0M524.2 25.5h0M505.3 24.9h0M488.3 27.9h0M531.5 24.7h0M516.6 26h0M534.8 24.6h0M505.3 25.4h0M527.7 25.3h0M509.1 25h0M476 36.7h0M515.4 25.4h0M533.6 24.2h0M535 24.8h0M506.5 25.9h0M476.3 36.4h0M504.8 25.3h0M504 26.4h0M488.4 28.3h0M473.5 57.4h0M482.6 28.6h0M514.2 25.7h0M535.5 25.3h0M478.2 32.5h0M499.2 25.9h0M495.3 26h0M534.6 25.2h0M476.2 36.6h0M519.4 24.7h0M516.7 26h0M496.2 26.9h0M533.9 24.9h0M478.5 32.3h0M522.5 25.9h0M498 25.4h0M501.9 25.7h0M485.9 28.6h0M473.7 52.7h0M505.7 25.6h0M487.1 28.5h0M512.7 25.7h0M489.5 27.7h0M475.1 36.7h0M505.3 26.1h0M490.6 26.2h0M517 25.9h0M508.7 26.3h0M474 43.5h0M531.2 24.7h0M516.7 25.1h0M512 24.9h0M481.8 29.4h0M534.4 25.4h0M510.9 25.6h0M502.4 25.4h0M535 24.4h0M497.1 25.9h0M515.4 24.8h0M484.5 28.4h0M500.7 25.5h0M535.8 25.3h0M531.8 25.5h0M500.4 25.4h0M501.9 25.1h0M525.8 24.4h0M535.2 24.5h0M481.4 29.2h0M481.7 29.5h0M485.2 29.4h0M507.6 25.6h0M495.2 25.6h0M531.7 25.4h0M512.6 25.8h0M528 24.4h0M524.5 24.8h0M525.5 24.9h0M532.1 25.7h0M482.2 29.1h0M492.9 27.1h0M534.7 25.1h0M474.3 49.6h0M503.9 25.4h0M491.7 26.4h0M489.9 26.4h0M477.3 31.9h0M532.6 25.3h0M491.7 26.4h0M515.6 24.8h0M515.2 26h0M522.1 25.2h0M522.6 25.1h0M501.3 26.3h0M482.1 30.3h0M475.6 38.9h0M475.6 37.8h0M491.8 27.1h0M509.6 25.9h0M513.3 25.2h0M515.6 25.2h0M535.3 24.7h0M528.3 25.7h0M489.4 26.8h0M524.8 25.3h0M495.8 25.6h0M512.7 25h0M513.2 26.1h0M497.6 26.3h0M505.6 25.2h0M496.6 26.7h0"/>
<path class="pg" d="M526.9 25.7h0M481.8 30.5h0M530.9 25.2h0M492.5 25.9h0M504.1 25.7h0M493.7 27.2h0M474.1 50.2h0M494 26.6h0M500.6 25.8h0M476.8 33.7h0M490 26.9h0M523.7 24.9h0M502.9 25.8h0M529.5 25.1h0M493.5 27h0M526.2 25h0M504.5 26.2h0M534.7 24.9h0M520.9 24.8h0M533.5 24.7h0M527.9 24.4h0M505.5 25h0M494.7 26.4h0M506.2 26.1h0M474.3 44.9h0M504 26h0M503.2 25.3h0M481.8 30.4h0M504.3 26.1h0M506.9 26h0M499.7 25.2h0M537.6 25.5h0M509.4 25.9h0M492 26.6h0M498.1 26.3h0M503.1 25h0M521 25h0M533.2 25.3h0M501.4 25.1h0M526.6 24.7h0M506.7 26h0M506.4 26.3h0M528.4 25h0M485.3 28.7h0M500.6 25.8h0M488.3 27.8h0M529.2 24.8h0M530.6 24.3h0M479.8 30h0M511.1 25.6h0M495.5 27.1h0M500.6 26.6h0M494.5 25.7h0M483.9 29.3h0M527.9 25.3h0M536.6 24.7h0M504 26.4h0M536.6 25.6h0M510.8 25.3h0M525.2 25.8h0M477.8 33.2h0M511 25h0M486.8 27.8h0M478.5 33.4h0M529.4 24.8h0M525 25.6h0M488.4 27.4h0M510.9 25.2h0M500.8 26.5h0M531.8 24.7h0M508.7 26.2h0M526.3 24.6h0M482.1 30.7h0M508.5 26.3h0M484.3 29.4h0M501.9 25.6h0M525.4 25.3h0M521.7 25.7h0M518.3 25.1h0M525.3 24.7h0M473.8 52h0M494 26.6h0M517.9 24.8h0M513.4 25.8h0M519.1 25.4h0M505.4 25.6h0M502.8 25.5h0M492.5 27.6h0M519.6 25.3h0M520.3 26h0M477.8 32.1h0M480.9 29.9h0M507.5 25h0M478 32.2h0M485.9 27.5h0M515.6 25.4h0M476.5 34.6h0M512.8 25.7h0M508.7 25.9h0M513 26.2h0M478.3 32.4h0M508.5 25.3h0M518 25.4h0M487 27.9h0M507.5 26.2h0M478.3 31.1h0M484.3 29.6h0M481.8 28.7h0M530.5 24.6h0M536.9 25.6h0M535.6 25.5h0M510.3 25.3h0M476.4 34.3h0M527.6 24.5h0M532.5 25.3h0M508.5 26h0M500 25.6h0M479.1 32.6h0M518.6 25.9h0M506.2 25.8h0M499.7 26.2h0M490.2 27.1h0M528.4 25.1h0M533.7 25.4h0M536.3 25.3h0M487.9 28h0M530.6 24.4h0M493.3 27.4h0M478.6 32.9h0M484.5 29.5h0M486.1 28.3h0M496.2 26.7h0M506.5 25.1h0M476.5 32.6h0M491.9 27.7h0M537.4 25.2h0M533.8 24.3h0M505 26.2h0M477.5 33.3h0M510.7 25.1h0M517.8 25.3h0M507.9 25.2h0M474 49h0M505.5 25h0M490.4 27.7h0M537.9 25h0M491.2 26.1h0M508.3 26.2h0M506.7 25.7h0M502.7 26.4h0M527.6 25.7h0M475 42.2h0M533.4 25.3h0M497 25.8h0M518.5 25.5h0M512 25.5h0M535.6 25.5h0M494.7 25.6h0M513.7 25.7h0M515.3 25.6h0M535.1 24.4h0M517.4 24.7h0M482.8 29.5h0M492.2 27.7h0M523 24.5h0M515 24.8h0M523.6 24.9h0M524.8 24.8h0M489.4 27.5h0M521.1 25.2h0M475.5 35.5h0M478.3 32.5h0M474.6 38.4h0M509.9 25.8h0M506.2 26h0M504 26.4h0"/>
<circle class="mk" cx="487.1" cy="28.9" r="1.5"/>
<path class="ax" d="M37.5 83.83V131.03M37.0 130.53H108.0"/>
<text class="tk" x="32.2" y="91.13" text-anchor="end">0.8</text>
<text class="tk" x="32.2" y="110.23" text-anchor="end">0.6</text>
<text class="tk" x="32.2" y="129.33" text-anchor="end">0.4</text>
<path class="ax" d="M34.0 88.43H37.5M34.0 107.53H37.5M34.0 126.63H37.5M40.50 130.53v3M72.50 130.53v3M104.50 130.53v3"/>
<text class="ttl" transform="translate(18.60,107.18) rotate(-90)" text-anchor="middle">AUC</text>
<text class="ann" x="105.50" y="105.13" text-anchor="end" font-size="6.5">p-val: <tspan dy="0.7" stroke-width="0.12" fill="#222" stroke="#222">***</tspan></text>
<text class="ann" x="105.50" y="112.53" text-anchor="end" font-size="6.8"><tspan font-style="italic">R</tspan><tspan dx="0.5" dy="-2.6" font-size="5.2">2</tspan><tspan dy="2.6">: 0.81</tspan></text>
<rect class="lg" x="43.71" y="116.33" width="60.79" height="11.00"/>
<circle class="ldp" cx="52.51" cy="121.83" r="1.5"/>
<text class="ann" x="102.30" y="124.13" text-anchor="end" font-size="6.5">ConvMixer64</text>
<path class="cp" d="M40.5 112.2L41.5 102L42.5 93.1L43.5 89.6L45 89.6L60 90L80 90.4L105 89.8L105 96L80 96.9L60 96.8L45 95.6L43.5 94.9L42.5 100.9L41.5 112L40.5 122.8Z"/>
<path class="pp" d="M98.5 91.3h0M62.5 89.5h0M86.7 98.2h0M74.9 88.8h0M49 97.1h0M77.1 88.7h0M43.2 98.2h0M94.8 88.5h0M63.6 90h0M83 92h0M42.7 98h0M50.9 88.4h0M89.7 90.1h0M50.3 94.1h0M48.5 89.2h0M68.3 89.9h0M99.3 93.4h0M104.3 90.7h0M68.3 91.6h0M55.1 94.3h0M63.3 88.7h0M67.1 90.9h0M97.2 91.7h0M67.3 88.6h0M77.7 89.4h0M83.1 89.1h0M103.5 89.1h0M80 89.1h0M100.8 96.8h0M51.3 88.2h0M42.9 93.2h0M55.8 93.1h0M74 89.3h0M74.6 93.3h0M91.1 94.9h0M44.5 94.1h0M57.6 89.1h0M54.5 88.6h0M100.6 97.8h0M47.2 90.2h0M63.3 92.5h0M62.6 98.6h0M88.5 92h0M42.4 104.2h0M66.5 90.7h0M94.7 93.3h0M46.2 92.8h0M49.3 94.5h0M59.8 89.5h0M77.4 94.3h0M95.8 88.6h0M99.1 89.1h0M86.8 90.2h0M42.9 92.3h0M69.1 94.1h0M89.3 88.4h0M93.1 96.5h0M59.8 90.2h0M48 90.7h0M61.3 88.4h0M69.5 88.9h0M84.7 89.6h0M95.3 88.9h0M49.7 88.7h0M45.3 97.1h0M43.4 89.7h0M89.6 89.4h0M62.6 93.2h0M82.8 97.9h0M69.8 92h0M97 91.9h0M49.7 89.1h0M41.4 115.9h0M82.6 96.3h0M60.3 90h0M97.5 90.1h0M54.1 93.3h0M45.1 93.8h0M86.7 89.7h0M63.7 97.3h0M65 88.9h0M67.6 89h0M77.2 98.5h0M89.2 93.2h0M100.8 88.2h0M43.7 95.7h0M62.7 93.8h0M57 90.6h0M82.5 95.9h0M101.7 88.9h0M76.2 90.8h0M76.6 91.9h0M50.4 95.2h0M41.8 102.9h0M68.8 88.4h0M104.3 93.1h0M51.4 91.3h0M79.5 89.8h0M92.4 92.9h0M41.5 102.7h0M55.4 97.3h0M45.9 89h0M104.6 94.4h0M55.1 88.1h0M61.4 89h0M98.6 94.1h0M82.8 96.6h0M67.2 95.7h0M85.4 89.6h0M66.3 94.1h0M55.7 90.7h0M56.2 92.6h0M45.8 92.6h0M57.6 95.1h0M88.4 91.3h0M98 92.3h0M66.9 90.4h0M42.1 103.3h0M46.4 92.6h0M97.9 89.8h0M84 90.9h0M60.7 96.4h0M46.1 88.9h0M76.8 88.8h0M55.6 92.2h0M59 88.1h0M86.4 94.9h0M52.1 89h0M88.8 88.8h0M72.1 90.7h0M59.7 91.7h0M49.5 89.2h0M47.8 89.7h0M96.6 90.3h0M63.6 98.2h0M74.7 90.8h0M53.9 90.6h0M55.4 89.6h0M81.3 91.1h0M63.4 93.3h0M68.1 93.9h0M91.3 94.2h0M44.7 88.3h0M81.8 90.2h0M103 89h0M80.6 93.3h0M61 94.2h0M56.5 88.1h0M86.7 92.3h0M46.3 91.3h0M99.1 92.2h0M101.6 89.1h0M54.8 88.2h0M70.9 88.6h0M75.4 95.7h0M83 91.2h0M51.7 94.9h0M56.4 90.8h0M84.1 96.7h0M54.7 88.1h0M57.5 94h0M87.4 88.5h0M86.3 98.2h0M63.9 98.2h0M101.4 88.6h0M47.1 89.6h0M60 92.1h0M78.7 92.5h0M56.6 89.9h0M84.1 95.7h0M74.6 94.7h0M100.9 88.4h0M55.1 89.8h0M93.2 93.1h0M68.3 90.8h0M51.5 91.8h0M69.9 97.9h0M81.7 89.4h0M100.3 90.6h0M62.7 98.2h0M100 93.1h0M101.5 97h0M54.5 91h0M95.7 91.9h0M67.1 88.6h0M85.6 90.7h0M69 98.5h0M46.2 89.3h0M97.4 92.6h0M104.6 91h0M52 88.1h0M76.5 89.1h0M61.9 88.2h0M103.8 88.4h0M61.5 88.2h0M82.9 94.1h0M42.2 107.3h0M48.4 93.7h0M56.8 90h0M42.5 97h0M46.4 88.1h0M69.2 91.5h0M87 90.6h0M86.8 91.7h0M44.4 95.9h0M52.4 88.9h0M98.9 93.6h0M42.4 101.2h0M81 92.1h0M89.4 89.6h0M95.1 88.6h0M44 93.3h0M41.1 107.5h0M89.5 90.6h0M90.4 89.2h0M84.1 89.9h0M55.2 88.9h0M95.9 94.2h0M103.6 93.8h0M78.9 92.9h0M60.2 95.2h0M62.6 88.2h0M51.4 88.3h0M47.1 95h0M50.5 91.3h0M48.2 94.1h0M103.9 93.6h0M61 92.1h0M60.2 93.1h0M70.4 92.5h0M40.7 117.2h0M50.4 91.5h0M46.1 92.3h0"/>
<path class="pp" d="M95.3 91.2h0M55.4 88.4h0M49.1 90.9h0M65.4 97.7h0M100.3 93.9h0M101.2 88.2h0M94.5 96.8h0M86.4 88.9h0M73.2 95.1h0M86.7 89.7h0M71.4 90.1h0M64.5 89.5h0M78.5 89.2h0M64.4 91.9h0M49.1 92.4h0M72.8 93.7h0M49.4 88.4h0M99.4 89.2h0M77.7 98.2h0M68.4 90h0M47.1 93.4h0M97.8 91.6h0M56.9 93.8h0M86.8 89.4h0M92.4 90.7h0M61.7 89.4h0M82.2 88.6h0M62.9 94.8h0M64.9 89h0M100.4 88.2h0M91.7 93.9h0M60.2 89.8h0M43.1 91.6h0M74.2 94.6h0M43.3 95.8h0M88.3 88.5h0M100.4 88.7h0M44.9 88.8h0M79.6 88.8h0M102.3 97.6h0M98.7 91.6h0M42.8 90.4h0M75.5 95.5h0M59.9 91.8h0M86.1 91.3h0M43.4 94.2h0M77.2 93h0M68 88.9h0M66.6 91.1h0M64.7 89.1h0M60.3 92.4h0M83.1 93.6h0M57.7 88.9h0M102.9 88.1h0M47.6 93.4h0M92.9 97.2h0M96.2 93.2h0M68.9 91.1h0M101.1 88.2h0M48.7 93.6h0M58.7 92.6h0M60.2 91.3h0M41.3 104.5h0M79.6 93.8h0M90 91.5h0M101.9 88.7h0M61.7 93h0M41.2 119.1h0M75.9 90.2h0M78.4 90.4h0M94 94.7h0M46.5 95.7h0M103.9 88.6h0M98.1 90.6h0M49.4 89.4h0M74.7 90.1h0M70.3 93.1h0M62.7 89.9h0M73.2 89.6h0M53.3 93.3h0M60.5 88.7h0M60.1 90.5h0M78.8 88.9h0M89.6 95.9h0M70.5 89.5h0M65.4 96.3h0M86.4 93.3h0M54.4 88.7h0M98.7 90.2h0M91.7 94.7h0M103.9 96.4h0M100 88.3h0M95.9 92h0M63.5 92.1h0M75.3 90.5h0M70.7 88.4h0M87.9 88.7h0M51 95.5h0M99.8 95.6h0M66.2 89.4h0M75.2 93h0M41.5 114.4h0M61.5 91.1h0M43.9 93.1h0M42.2 101.7h0M58.4 88.2h0M54.9 93.4h0M55.2 95.5h0M98.1 91.2h0M90.3 88.7h0M40.8 106.8h0M77.6 89.4h0M58.5 91.9h0M101.2 90h0M73.4 98.5h0M89.8 90.9h0M96.1 91.2h0M48.6 88.6h0M78.1 91.5h0M96.1 88.7h0M88.5 89.9h0M54.5 94.8h0M91.4 94.8h0M67.7 88.3h0M56.3 96.8h0M82.1 92.9h0M56.8 88.2h0M77.3 88.9h0M61.7 89.5h0M55.9 90.7h0M72.4 90.4h0M72.4 94.7h0M98.5 94.7h0M63.1 90h0M83.7 97.9h0M94 93.3h0M48.4 94.3h0M71.1 88.5h0M71.6 89.4h0M60.5 95.9h0M58.3 88.8h0M62 98.2h0M68 92.7h0M96.6 90.9h0M84 93.6h0M42 104.9h0M48.5 97.5h0M40.8 120.5h0M55.6 90.7h0M79.6 89.8h0M62.7 95.3h0M82.8 91.9h0M99.2 88.2h0M70.8 89h0M83.9 88.9h0M100.8 95h0M51.3 90.9h0M53.9 88.4h0M101.2 89.5h0M74.3 97.8h0M80.1 94.1h0M66.7 94.4h0M98.8 88.2h0M53.4 90.3h0M86.5 88.6h0M70.5 88.4h0M98.9 88.4h0M78.2 98.3h0M63.6 90.9h0M42.3 103.9h0M83.6 92h0M58.9 88.1h0M85.4 88.9h0M73 89.6h0M63.3 90.3h0M41.9 108.7h0M59.5 91.7h0M65.3 92.2h0M85.5 90.3h0M46.1 88.4h0M87.4 89.5h0M58.2 90.7h0M73.4 93.8h0M56.1 90.8h0M88.2 92.6h0M76.5 91.3h0M72.8 92h0M53.8 89.9h0M83.4 91.3h0M88.6 96h0M45.1 88.6h0M41.7 116.7h0M69.4 97.5h0M60.2 88.5h0M55.3 90.4h0M64 89.1h0M86.9 97.8h0M66.7 88.5h0M62.5 93.5h0M101.8 97.7h0M72.2 92.1h0M98.7 91.8h0M71.6 88.8h0M58.6 93.1h0M42 110.4h0M100.8 88.9h0M73.8 93.6h0M58.7 89.8h0M76.3 93.8h0M96.3 88.9h0M100.3 88.8h0M82.5 91.8h0M101.6 88.2h0M76.1 88.6h0M87.9 91.5h0M60.1 89.6h0M44.5 96.5h0M44.8 89.9h0M80.9 90.1h0M54.9 89h0M52.2 97.6h0M61.5 89.3h0M90.8 91.3h0M87.3 89.2h0M78.6 96.7h0M92.7 95.2h0M66.9 91.6h0M71 91.7h0M57.3 91.7h0M91 88.5h0M68.7 94.1h0M81.6 96.2h0M69.5 89.8h0"/>
<path class="pp" d="M63.9 88.7h0M45.9 93.1h0M41.6 111.2h0M44.4 88.2h0M67.4 95.6h0M54.8 94.5h0M41.9 106.5h0M81.7 89h0M78 90.5h0M70.6 97.8h0M62.6 88.8h0M84.6 88.8h0M103.3 94.6h0M74.6 94.7h0M88.9 90.1h0M53.4 92.4h0M51.7 89h0M95.8 88.6h0M52.4 88.1h0M48.4 96.9h0M83.2 88.6h0M73.1 93.4h0M59.2 95.7h0M68.8 93.8h0M90 94.9h0M97.2 96.9h0M55 91.4h0M51.5 93.1h0M62.4 96.7h0M97.3 88.3h0M58.5 96.9h0M69.7 96h0M47.6 91.7h0M42 97.4h0M45.1 91h0M102.1 88.2h0M88.8 91.9h0M102 90.4h0M67.3 98.4h0M41.8 108.1h0M61.3 94h0M49.1 95.8h0M80.3 90h0M44.7 89.7h0M56.4 94.6h0M59.5 88.8h0M74.4 94.1h0M100.3 89.2h0M58.4 88.7h0M79.4 88.9h0M61.9 89.1h0M101 91.5h0M50.4 88.3h0M68.1 88.8h0M89.7 90.4h0M76.3 92.6h0M76.1 95.3h0M54.1 96h0M76.3 94h0M94.2 93.6h0M68.1 90.7h0M70.7 89.3h0M66.9 88.6h0M77.7 92.7h0M44 90.6h0M60.5 98.5h0M66.2 92.9h0M95.8 96.7h0M79.4 91.9h0M102.4 89.5h0M53.5 94.3h0M86.2 90.5h0M55.9 89.3h0M64.4 96.8h0M77.6 92.2h0M87.1 95h0M70.8 90.2h0M62 88.8h0M100.2 90.5h0M87.6 96.8h0M100.6 96.5h0M75.7 88.7h0M52.3 88.7h0M64.9 94h0M55.6 92.8h0M97.5 92h0M52.1 90.7h0M54.6 88.3h0M89.6 91.5h0M75.3 98.2h0M56.3 96.2h0M70.2 95.5h0M67.3 95.6h0M104.7 94.7h0M76.9 91.4h0M49.9 88.5h0M76.1 95.8h0M82.9 90.4h0M98.3 93.7h0M47.4 88.2h0M44 92.3h0M40.7 109.9h0M51.9 90.4h0M90.1 89.4h0M61.7 88.2h0M71.4 95h0M52.8 95.9h0M103.7 92h0M63.9 89.7h0M74.9 90.6h0M89.1 93.6h0M47.4 94.9h0M88.3 93.8h0M53.4 91h0M97.7 88.9h0M44.2 96.5h0M55.5 92.5h0M74.2 88.9h0M41.1 120.7h0M48.6 90.9h0M104.5 91.1h0M45.1 88.1h0M70 88.4h0M69.1 91.2h0M50.1 88.4h0M86 89h0M96.2 89.6h0M50.4 96.1h0M46.3 88.1h0M72.9 90.3h0M41.6 112.8h0M99.7 90.7h0M96.5 92.4h0M65.8 94h0M94.8 91.6h0M73.3 89h0M75 93.8h0M40.5 121.4h0M74.2 94.6h0M53.8 94.5h0M95.4 97.2h0M74.2 88.5h0M48.6 88.7h0M69.4 92h0M94.7 90.1h0M60.1 90.4h0M85.6 91.1h0M86.6 95.3h0M70.4 98h0M48.7 94.6h0M73 91.1h0M47.3 88.1h0M92.3 95h0M58.4 91.6h0M63 94h0M104.9 95.8h0M68.5 97h0M41.3 112.6h0M68.6 89.3h0M69.5 89.9h0M81.7 88.8h0M44.2 88.7h0M104.2 91.1h0M66 88.7h0M60.4 90.7h0M82.3 91h0M58.6 96.5h0M50.7 91.3h0M71.4 90.4h0M40.9 123.8h0M70.3 89.3h0M72.4 91.9h0M77.2 89.8h0M52.3 91.4h0M100.1 92.6h0M96.3 93.9h0M41.9 113.6h0M46 96h0M49.6 88.3h0M87.6 89.5h0M56.7 93.1h0M52.3 89.7h0M40.6 108h0M55.4 96.8h0M55.1 90.4h0M102.7 88.5h0M42.3 100.2h0M45.5 92.2h0M72.9 89.8h0M77.9 93.1h0M41.2 126h0M59 88.8h0M81.1 90h0M89.3 93.6h0M47.2 95.5h0M75.3 89.5h0M61.5 93h0M41.9 96h0M43.1 95.1h0M47.1 88.2h0M70.6 89h0M96.3 91.2h0M82.4 96.2h0M52 92.6h0M75.8 92.2h0M62.8 89.3h0M81.3 88.6h0M95.9 89h0M55.3 91.7h0M59.9 88.1h0M73.9 95.1h0M45.9 96.1h0M59.2 93.1h0M74.7 92.3h0M63.1 97.6h0M89.3 94.7h0M44.3 91.1h0M68.6 88.3h0M103.4 90.7h0M81.1 92.4h0M49.9 96.9h0M89.2 89.8h0M68.5 89.3h0M80.5 90.6h0M81.7 93.8h0M87.5 88.7h0M73.3 90.8h0M76.5 92.6h0M102.2 91.4h0M81.4 96.7h0M45 92.6h0M54.6 89.4h0"/>
<path class="pp" d="M70 88.9h0M87.6 89.7h0M80.2 92.8h0M100.6 89.4h0M73.1 97.3h0M79 90.3h0M65 96.3h0M41.5 119.8h0M45.1 97h0M80.5 91.3h0M54.2 97.9h0M40.7 115.6h0M73.8 90.7h0M82.2 95.8h0M90.4 92.7h0M70.3 95.9h0M93.4 89.8h0M87.5 92.5h0M48.8 95.4h0M51 92h0M61 90.2h0M56.9 89h0M96.4 90.4h0M68.2 88.4h0M89.7 92.1h0M65.6 92h0M84.2 92.9h0M98.6 97.7h0M83.7 91.2h0M55.4 92.6h0M59.6 93.3h0M66.3 91.5h0M73.1 92.5h0M77 93.2h0M44.4 88.2h0M76.7 88.7h0M91.3 91.5h0M84.4 88.7h0M101.6 89.4h0M45.4 89.5h0M95.6 92h0M55.6 97.5h0M90.1 98h0M52.2 96.5h0M98.2 91.6h0M101.9 90.3h0M61.7 97h0M67.6 92h0M56.9 89.9h0M79.5 88.9h0M55.3 97.2h0M63.5 92.7h0M68.2 91.2h0M104.8 96h0M100.2 96.6h0M44 91.8h0M41.7 109.6h0M89.3 98.3h0M89.1 94.4h0M62.9 97.5h0M87.7 92.6h0M100.4 91.5h0M92.3 93.8h0M78.4 94.5h0M103.8 96.1h0M70 91.1h0M64.4 92.8h0M76.3 89h0M46.2 94.8h0M44.9 88.1h0M53.9 97h0M81.1 96.1h0M85.3 95h0M95.8 88.5h0M102.6 89.1h0M87.7 90.4h0M72.8 95.5h0M53.3 88.1h0M49.5 90.1h0M91.7 88.7h0M87.2 95.6h0M85.7 89.6h0M66 91.3h0M40.7 106.4h0M97.7 97.7h0M97.5 89h0M56.4 97.4h0M92.4 89.9h0M81.5 94h0M51.1 90.1h0M68.6 94.8h0M70.3 96.1h0M52.4 90.6h0M91.8 89.3h0M56.2 88.1h0M46.8 89.7h0M41.3 104.8h0M64.5 89.7h0M101.1 93.9h0M82.6 98.6h0M61.3 95.5h0M41 122.3h0M80.4 88.6h0M46.3 88.3h0M73.6 96.9h0M99.2 89.6h0M42.5 94.5h0M72.1 94.3h0M89.8 97.7h0M81.9 97.9h0M101.6 95.2h0M78.7 91h0M67.2 97.7h0M49.3 88.7h0M42.5 100.3h0M51.3 88.3h0M92.5 92.3h0M42.4 98.6h0M97.5 94.7h0M76.6 97.4h0M51.2 96.2h0M102.2 91.6h0M88.8 96.6h0M54.1 94.3h0M58.6 98.5h0M86.2 90.2h0M100.7 88.2h0M67 88.9h0M42.5 101.1h0M70.5 90.9h0M46.9 95.7h0M41.2 106.5h0M45.6 94.3h0M68.3 88.4h0M96.4 89h0M55.3 88.1h0M69.3 91h0M44.4 93.2h0M93.7 90.9h0M104.8 94.1h0M40.8 116.9h0M71.7 94.9h0M61 97.4h0M99.5 88.3h0M90.4 91.6h0M83.8 94.5h0M97.2 89.4h0M73 88.5h0M64.9 97.6h0M40.8 125.4h0M85.9 93.1h0M61.3 98.4h0M68.5 89.4h0M61.4 92.8h0M60.9 91h0M48.2 88.1h0M58.9 88.7h0M92.6 97.5h0M72.1 91.5h0M41.3 117.5h0M75.1 91.3h0M78.6 93.1h0M65.9 89.5h0M98.9 94.3h0M43.6 89.6h0M87 90.2h0M82.3 91.2h0M85.9 94h0M95 91.2h0M76.4 89.1h0M41.7 99.7h0M95.6 91.2h0M95.3 88.3h0M61.1 89.1h0M68.9 91h0M46.6 89.5h0M44.6 91.3h0M60.9 88.9h0M45.6 88.8h0M46.8 89.4h0M98.6 90h0M54.8 91.6h0M62.1 93.4h0M69.1 96.5h0M75 94.7h0M79 90.2h0M67.6 92.1h0M77.9 92.9h0M104.1 93.9h0M40.7 127h0M48.6 90.7h0M46.3 91.6h0M99.3 93.4h0M104.8 95.5h0M80.2 95.4h0M68 89h0M92.6 92.8h0M64.6 89.4h0M89 93.9h0M45.9 92.9h0M46.1 89.3h0M45 90.3h0M101.6 90.7h0M92.7 91.9h0M66.6 89.9h0M79.2 96.3h0M67.5 93.5h0M47.6 96.2h0M46.1 94.6h0M100 89.2h0M41.4 106.4h0M75.1 93.3h0M93.2 92h0M42.7 98.1h0M41.4 122.9h0M83.3 88.9h0M78.5 95.8h0M53 95.2h0M88.6 91.9h0M61.1 88.8h0M58.3 95.6h0M62 91h0M83.2 92.3h0M67.8 97.1h0M68.8 89.1h0M91.3 92.7h0M48.4 92.6h0M41.4 112.4h0M61.5 88.2h0M98.3 96.7h0M52.7 88.3h0M61.9 98.2h0"/>
<line class="rga" x1="40.5" y1="96.5" x2="104.5" y2="91.0"/>
<circle class="mk" cx="56.4" cy="88.2" r="1.5"/>
<path class="ax" d="M308.4 83.83V131.03M307.9 130.53H378.9"/>
<text class="tk" x="303.59999999999997" y="92.53" text-anchor="end">1.00</text>
<text class="tk" x="303.59999999999997" y="108.83" text-anchor="end">0.75</text>
<text class="tk" x="303.59999999999997" y="125.13" text-anchor="end">0.50</text>
<path class="ax" d="M304.9 89.43H308.4M304.9 105.73H308.4M304.9 122.03H308.4M311.40 130.53v3M343.40 130.53v3M375.40 130.53v3"/>
<text class="ttl" transform="translate(285.10,107.18) rotate(-90)" text-anchor="middle">AUC</text>
<text class="ann" x="376.40" y="105.13" text-anchor="end" font-size="6.5">p-val: <tspan dy="0.7" stroke-width="0.12" fill="#222" stroke="#222">***</tspan></text>
<text class="ann" x="376.40" y="112.53" text-anchor="end" font-size="6.8"><tspan font-style="italic">R</tspan><tspan dx="0.5" dy="-2.6" font-size="5.2">2</tspan><tspan dy="2.6">: 0.83</tspan></text>
<rect class="lg" x="314.61" y="116.33" width="60.79" height="11.00"/>
<circle class="ldg" cx="323.41" cy="121.83" r="1.5"/>
<text class="ann" x="373.20" y="124.13" text-anchor="end" font-size="6.5">ConvMixer64</text>
<line class="rgb" x1="311.5" y1="100.5" x2="375.5" y2="88.9"/>
<path class="cg" d="M316 97.6L330 92.2L336 90.4L377 90L377 92.4L336 92.6L330 94.3L316 99.8Z" style="fill-opacity:0.78"/>
<path class="pg" d="M376 90.9h0M364.2 91.4h0M332 93.5h0M376 96.9h0M343.6 90.5h0M338.9 91.7h0M371.7 91.3h0M322.5 96h0M339.8 92.5h0M376.6 90.2h0M342.9 92.7h0M368.7 95.3h0M353.1 91.8h0M336.5 92.5h0M329.4 93.8h0M361.9 92.6h0M341.7 91h0M333.3 91.9h0M350.4 92h0M330.2 92.8h0M326 93.8h0M312.3 116h0M327.2 94.7h0M325 94.3h0M360 91.1h0M352.7 92.1h0M341.8 92.5h0M351.6 94.3h0M340.6 92.9h0M358.5 91.6h0M324.7 95.7h0M317 97.6h0M343.1 90.6h0M346.8 92.8h0M369.5 92.2h0M344.7 90.6h0M332.8 92.3h0M371.7 92.7h0M324.2 96h0M346.2 91.2h0M343 91h0M329.6 93.3h0M366 91.5h0M367.2 90.6h0M333.6 92.9h0M319.9 97.4h0M343.9 95.3h0M344.3 90.5h0M317.5 98.4h0M324.2 96.1h0M332.9 93.3h0M369 92.6h0M368.7 94.4h0M334.9 92.5h0M344.1 91.4h0M362.3 92.7h0M376.5 90.5h0M327.7 97.7h0M311.8 122h0M324.5 94.4h0M328.2 94.3h0M355.6 91.8h0M325.8 95.1h0M327.4 94.6h0M357.5 96.3h0M324.4 94.6h0M319.8 98.2h0M336.6 92.7h0M347.7 90.8h0M327.8 95.2h0M333.3 92.3h0M373.5 92.7h0M313.2 108.6h0M323.7 97.9h0M374.3 90.9h0M355 91.9h0M368.1 90.7h0M353.7 91.1h0M333.8 93.3h0M364.4 90.5h0M357.8 92.8h0M370.1 93.7h0M345.9 92.6h0M346.6 92.1h0M363.4 91.8h0M352.4 92.5h0M315.8 99.6h0M361.1 92.1h0M332.3 98.7h0M330.2 92.6h0M328.2 93.5h0M344 90.8h0M326.7 94h0M365.7 90.7h0M321.4 96.4h0M348.6 91.9h0M322.7 96.9h0M340.1 92.4h0M364.4 91.9h0M362.4 90.2h0M361.3 90.2h0M363.9 92h0M339.1 90.5h0M368.2 95h0M351 91.7h0M368.1 91.6h0M358.7 93.8h0M360.3 91.7h0M346.8 90.6h0M345.3 92.8h0M344.4 94.9h0M370.6 96.2h0M372.8 90.2h0M319.9 97h0M358.6 90.3h0M340.5 91.3h0M356.3 90.2h0M357.5 90.7h0M355.5 91.8h0M341.7 90.4h0M374.5 91.9h0M356.9 90.8h0M328.2 92.9h0M365.7 90.1h0M351 91.7h0M369.6 92.4h0M361.6 91.2h0M344.7 91.2h0M360.9 90.4h0M351.5 92.8h0M355.9 92.1h0M321.8 97.4h0M336.1 92.4h0M321.4 96h0M373 92.5h0M332.3 93.6h0M324.2 95.2h0M327 99.6h0M351.9 92.6h0M353.8 92.1h0M364.8 90.7h0M330.2 93.6h0M325.4 94.7h0M365.5 92.5h0M323 95.1h0M358.7 90.7h0M362.5 91.2h0M373.2 91.6h0M319.6 96.6h0M374.1 92.5h0M362.7 91.8h0M317 97.4h0M338.6 92.8h0M377 92h0"/>
<path class="pg" d="M345.9 90.3h0M336.6 91.4h0M337.1 91.7h0M346.3 92.5h0M371.5 90.7h0M371.1 91.2h0M357 91.9h0M316.5 99.4h0M333.5 91.2h0M340.3 92.5h0M316.1 99.4h0M342.1 98.6h0M336.3 90.9h0M351.1 92.5h0M322.4 95.9h0M331.2 92.6h0M318.7 97.3h0M368 91.7h0M353.2 90.5h0M332.4 97h0M313.8 107.6h0M333.4 92.7h0M339.9 92.1h0M357.2 91.1h0M327.1 94.9h0M358 90.7h0M369.3 92.2h0M340.2 91.8h0M358.5 91.7h0M314.4 102.7h0M345.6 91.4h0M325.2 94.9h0M364 92.6h0M320.6 96.7h0M351.3 91h0M324.5 96.2h0M322.1 95.4h0M325 94.7h0M335.7 91.5h0M334.2 92.8h0M356.1 92.8h0M343.2 92.5h0M347.3 92.6h0M318.1 97.9h0M358.7 91.1h0M312.8 108h0M319.2 97h0M371.3 91.2h0M334.4 92.7h0M330.1 93.1h0M362.4 97.3h0M315.4 98.7h0M345.2 90.9h0M332.3 91.9h0M363.4 91.3h0M368.5 92.5h0M321.9 96.8h0M369.7 92.2h0M328 93.7h0M318.8 98.3h0M353 92.2h0M353.3 91.8h0M354.9 90.4h0M375.7 92.5h0M352.3 92.5h0M328.5 94.1h0M345.1 90.8h0M341.1 91.6h0M337.2 93.8h0M373.9 92.6h0M375.3 91.8h0M370.2 90.3h0M352.9 97.1h0M363.9 91.5h0M343.4 91.3h0M356.7 90.4h0M338.5 92.9h0M333.5 93.2h0M340.4 91.2h0M356.7 90.3h0M363.6 92h0M315.1 98.7h0M331.7 92.3h0M337.5 92h0M360 95.6h0M330.1 93.2h0M333.5 91.5h0M356.3 91.6h0M358.1 90.2h0M376.9 92.4h0M342.7 92.4h0M315.6 99.7h0M336.5 92.4h0M374.9 91h0M371 92.2h0M330.6 93.5h0M320.4 97.9h0M333.2 91.6h0M327.6 94.7h0M364.8 92.1h0M355.6 94h0M363 90.5h0M345.6 90.3h0M318.1 98h0M318.9 97.8h0M340.7 90.4h0M339.4 91.3h0M331.5 92.5h0M358.4 92h0M323.1 95.8h0M365.1 92h0M320 96.7h0M329.2 93.1h0M368.8 91.7h0M331.5 99.2h0M323.6 96.1h0M348.9 91.7h0M327.7 94.1h0M330.7 92.6h0M371.4 90.7h0M346.5 97h0M363 92.2h0M360.6 90.6h0M372.5 91.7h0M326.4 94.7h0M366.4 91.8h0M316.3 97.5h0M328.7 92.7h0M369.7 91.5h0M336.5 91.7h0M350.4 92.8h0M318.1 98.6h0M371.1 92.1h0M340.8 90.8h0M325.8 95.8h0M373.4 91.9h0M373.1 91.6h0M351.2 90.9h0M344 91.6h0M336.4 92.3h0M360.2 92h0M353 97.7h0M326.4 94.5h0M376.6 91.2h0M351.6 91.9h0M323.1 95.3h0M353.3 90.5h0M335.3 92h0M349.2 95.8h0M314.6 101.8h0M319.4 96.7h0M316.9 98.9h0M364.8 92.7h0M332.7 92.8h0"/>
<path class="pg" d="M342.3 91.6h0M314 104.5h0M349.6 92.7h0M356.3 93.7h0M360.2 92.6h0M323.7 96.5h0M373.8 92.1h0M322.1 95.2h0M359.1 91.2h0M366.8 91.3h0M345.1 91h0M358.5 91.8h0M331.6 93.5h0M315.5 98.4h0M375.9 92h0M361.9 90.7h0M327.9 94.8h0M320.2 97h0M318.9 97.8h0M322.8 95.4h0M373.8 91.8h0M330.4 93.1h0M365.4 91h0M320.8 97.6h0M335.6 91.2h0M338.1 92.9h0M334.5 93.1h0M368 91.2h0M348.8 92.4h0M323 96.1h0M337.9 91h0M355.8 92.5h0M338.9 92.6h0M359.6 90.5h0M362.1 91.9h0M327.9 94.2h0M329.9 93.6h0M329.3 94h0M340 91.6h0M347.8 93.8h0M313.9 100.9h0M321.9 95.9h0M368.4 91.5h0M356.4 92.1h0M372.4 92.5h0M342.1 92.6h0M313.6 106.2h0M329 93.5h0M361.1 91.1h0M339.7 93.9h0M316.3 99.5h0M363.5 91.4h0M353.4 92h0M339.7 92h0M358.7 92.1h0M324.7 95.8h0M375.7 91.3h0M347.3 91.9h0M318.9 97.8h0M314.1 104.4h0M347.6 92.9h0M319.3 98.4h0M315.1 99.7h0M365.1 90.9h0M340.5 92.4h0M330.1 92.8h0M311.7 123h0M349.6 90.9h0M339.9 95.2h0M316.6 97.8h0M372.6 92.7h0M324.9 95.4h0M351.2 90.5h0M366.4 91.7h0M315.9 99.5h0M376.3 91.2h0M350.6 90.4h0M356.9 97.1h0M326.9 95h0M316.3 98.4h0M375.6 91.1h0M371.5 92.4h0M318.1 98.5h0M348.5 91h0M332.8 93.3h0M344.4 92.6h0M359.6 90.3h0M340.8 92.6h0M358.9 90.9h0M361.8 92.1h0M315.3 100h0M359.8 91.6h0M363 92.3h0M342.6 90.5h0M314 101h0M314.7 99.6h0M333 92.2h0M358.7 90.8h0M373.6 90.5h0M363.1 91.3h0M322.8 95.7h0M325.8 94.3h0M368.6 91h0M333.8 99.7h0M371.1 90.8h0M330.2 93.6h0M324.8 95.5h0M333.4 91.9h0M367.9 92.6h0M316.3 98.7h0M342.9 92.5h0M330.2 92.7h0M349.9 91.9h0M361.1 90.7h0M367.7 90.3h0M313.3 107.2h0M335.5 91.5h0M359.4 90.6h0M315.6 99h0M376.6 91.5h0M344.5 91.3h0M371 96.6h0M374.9 90h0M348.5 91.7h0M360.7 92.1h0M344.1 90.7h0M358.4 90.3h0M350.3 92h0M342.8 92.6h0M332.5 92.5h0M376.1 90.4h0M320.5 98h0M364.2 91.9h0M347.3 91.5h0M369.1 90.4h0M322.4 96.2h0M365.5 90.7h0M368.1 90.2h0M333.5 92h0M373.5 90.5h0M315 100.1h0M351 92.2h0M341.3 92.8h0M320.5 97.7h0M367.2 92.8h0M352.2 91.6h0M341.7 92h0M372.6 92.3h0M350.2 91.6h0M332.3 93.7h0M358.1 92.4h0M376 91.4h0M353.4 91.8h0"/>
<path class="pg" d="M333.9 92.6h0M333.6 91.8h0M341.5 92.1h0M325.5 94.1h0M356.3 92.7h0M324.2 95.2h0M344 91h0M343.5 90.8h0M367.2 91.6h0M314.6 100.2h0M367.3 92.8h0M318 98.5h0M358.1 90.6h0M359 91.2h0M370.1 90.6h0M372.2 90.6h0M332.7 92h0M329.8 94.2h0M362.6 90.3h0M324 96.4h0M361.5 92.2h0M365.1 90.6h0M343.9 91.4h0M362.6 91.8h0M350.1 91.9h0M317.9 98.5h0M361.3 90.8h0M328.9 94.4h0M345.3 91.3h0M361.8 92h0M313 106h0M351.6 92.2h0M324.2 95.7h0M373.7 92.8h0M351.1 92.9h0M359 92.7h0M314.7 102.2h0M359.2 92.6h0M345.8 92.6h0M347.2 90.9h0M371.1 91.3h0M342.4 91.5h0M361.2 91.1h0M370.6 91.6h0M358.7 90.2h0M344.8 92h0M355 91h0M311.6 123.5h0M345.5 90.7h0M348.5 92.7h0M359.8 91.4h0M341.4 91.5h0M338.5 92.7h0M360.5 94.7h0M334 92.9h0M322.1 96.6h0M325.1 94.8h0M337.1 92.8h0M354 92.4h0M376.1 90.1h0M376.8 92.1h0M345.8 90.8h0M340.1 90.6h0M312.6 111h0M354.3 91.9h0M355.9 92.7h0M346.6 91.4h0M333.3 92.9h0M358.8 90.9h0M352 92.2h0M349.6 90.9h0M351.5 91.8h0M336.1 90.9h0M363.9 91.3h0M312.2 119h0M344.4 90.6h0M332.9 96.6h0M356.6 92.7h0M325.2 95.2h0M358.5 90.3h0M376.2 91.4h0M326.2 95.4h0M359.5 92.3h0M371.6 91.8h0M370.5 92.7h0M345.4 91.3h0M330 92.6h0M344 90.8h0M344.4 91.2h0M368.8 97.2h0M360.1 90.7h0M323.4 96.1h0M354.5 90.9h0M368.6 91.4h0M325.3 94.4h0M338.9 93.5h0M321 95.7h0M321 97h0M361.1 92.8h0M376.1 92h0M317.2 97.5h0M333 92.3h0M351.8 95.8h0M375.8 91.3h0M316.4 99.5h0M324.1 94.6h0M376.1 90.2h0M322.9 96.8h0M374 92h0M342.9 92.6h0M331.1 93.6h0M349.2 95h0M375.6 91.6h0M366.3 92.7h0M376.8 90.7h0M334.7 91.5h0M344.3 91h0M362.2 91.3h0M321.1 96.6h0M356.6 92h0M333.1 92.3h0M366.5 92.7h0M322.7 96h0M369.8 92.1h0M346.7 92.8h0M313.8 104.8h0M323.7 96h0M375.4 91.2h0M330.3 95.7h0M319.8 97.1h0M368.7 91.6h0M321.3 97.2h0M344.2 90.4h0M315.2 98.5h0M374.2 90.6h0M327.9 94.9h0M368.4 94.9h0M328.8 93.9h0M338.8 92.3h0M347.2 90.5h0M316.2 99.4h0M346.8 91.6h0M318.9 97.8h0M319.7 97h0M369.7 90.4h0M362.3 92.8h0M337.4 91.5h0M350.3 91.4h0M348.3 92.2h0M315 97h0M313.3 101.6h0M340.8 90.4h0M353.5 90.7h0"/>
<circle class="mk" cx="327.8" cy="94.1" r="1.5"/>
<path class="ax" d="M118.6 83.83V131.03M118.1 130.53H189.1"/>
<path class="ax" d="M115.1 88.43H118.6M115.1 107.53H118.6M115.1 126.63H118.6M121.60 130.53v3M153.60 130.53v3M185.60 130.53v3"/>
<text class="ann" x="186.60" y="105.13" text-anchor="end" font-size="6.5">p-val: <tspan dy="0.7" stroke-width="0.12" fill="#222" stroke="#222">***</tspan></text>
<text class="ann" x="186.60" y="112.53" text-anchor="end" font-size="6.8"><tspan font-style="italic">R</tspan><tspan dx="0.5" dy="-2.6" font-size="5.2">2</tspan><tspan dy="2.6">: 0.82</tspan></text>
<rect class="lg" x="138.90" y="116.33" width="46.70" height="11.00"/>
<circle class="ldp" cx="147.70" cy="121.83" r="1.5"/>
<text class="ann" x="183.40" y="124.13" text-anchor="end" font-size="6.5">DSConv</text>
<path class="cp" d="M121.5 94.6L123 91.3L124.5 90L187 89.7L187 91.5L124.5 91.9L123 94.7L121.5 101.4Z"/>
<path class="pp" d="M131.5 90.4h0M127.4 91h0M136.7 90.9h0M161.7 90.9h0M132 91.7h0M184 91.2h0M169.2 90.7h0M124.5 90.1h0M157.2 90.7h0M131.6 91.2h0M163.9 90.9h0M159.5 90.8h0M123.6 90.6h0M161.9 90.8h0M143.5 91.2h0M127.5 91.1h0M136.1 91.4h0M161 90.9h0M163.5 91.3h0M156.2 91.1h0M133.3 91h0M184.2 90h0M139.4 90.4h0M124.8 90.9h0M186.7 90.4h0M165.4 90.1h0M186.8 90.3h0M131.2 91.3h0M123.1 91.7h0M125.5 91.2h0M140.1 90.6h0M181.5 91h0M141.1 90.2h0M157.3 90.2h0M131.9 90.7h0M141.2 90.6h0M138.6 90.7h0M133.3 90.8h0M175.8 90.6h0M163.8 91.1h0M154.7 91.1h0M130 90.3h0M143.8 90.8h0M163.4 90h0M143.4 91.1h0M146.7 90.6h0M132.3 91.4h0M134.5 91h0M186.6 90.4h0M175.7 91.4h0M130.3 90.8h0M165.3 90.7h0M123.8 92.6h0M138.6 91h0M169.2 90.4h0M128.2 91.2h0M161.9 90.8h0M136.1 91.7h0M179.3 91h0M124.6 91.5h0M182.4 91.1h0M122.5 94.6h0M126.4 90.8h0M142.5 90.6h0M152.9 91.5h0M126.5 90.6h0M132.7 91h0M144.7 91.1h0M176 91.2h0M154.9 90.4h0M186.5 90.5h0M160.1 91.3h0M146.9 90.4h0M144.9 90.5h0M133.7 90.5h0M126.6 90.5h0M154 91.1h0M155.5 91.1h0M159.2 90.4h0M128.1 91.6h0M162.3 90.5h0M166.4 91.2h0M122.1 98.6h0M159.2 91.4h0M144.8 91h0M151.3 90.6h0M135.3 90.5h0M182.7 90.7h0M125.9 91h0M169.2 90.2h0M185.3 91.3h0M175.2 91.5h0M170.3 91.1h0M158.5 90h0M135.1 90.1h0M123 92.4h0M136.1 90.4h0M165.7 90.7h0M148.7 90.4h0M140.6 90.9h0M180.9 91.3h0M124.9 90.6h0M154.2 90.1h0M164.1 90.3h0M174.7 90.9h0"/>
<path class="pp" d="M158.7 90.9h0M155.4 91.1h0M177.1 90.9h0M183.3 90.8h0M166.4 91h0M185.9 90h0M181.3 90.4h0M156.3 90.1h0M172.8 90.6h0M133.4 91.2h0M167.2 90.7h0M139.6 91.5h0M122 97.3h0M182.4 90.8h0M175.8 90.5h0M175.2 90.2h0M136.9 90.7h0M143 90.6h0M178.3 91h0M167.3 90.3h0M142.7 91.6h0M142.7 91.3h0M145.4 90.1h0M123.8 92.4h0M180.6 89.9h0M126.2 90.5h0M138.7 91.5h0M129.4 91.1h0M165.3 90.5h0M169.7 90.7h0M125.1 90.4h0M137.7 91.3h0M168.4 91h0M173.9 90.6h0M151.4 90.5h0M141.1 90.6h0M142.7 90.6h0M176.4 91.1h0M146.9 90.8h0M144.2 90.2h0M171.4 91.4h0M163.1 91.1h0M142.3 90.5h0M173.9 89.9h0M123.8 92.7h0M149.1 90.5h0M141.5 90.1h0M149.1 90.6h0M147.5 91.3h0M125.4 90.3h0M165.3 90.7h0M140.9 91.5h0M145.4 91.4h0M169.1 91h0M163.8 91.5h0M185.6 90.1h0M168.3 90.8h0M148.5 91.2h0M173.4 91h0M127.7 91.6h0M157.3 90.9h0M134.3 91.6h0M182.9 90.2h0M184.5 89.9h0M153.1 91.2h0M157.1 90.8h0M148.3 91h0M128.7 90.3h0M150.7 90.7h0M171.6 90.8h0M162.3 90.7h0M157.4 90.4h0M143.6 90.6h0M155.1 91.5h0M151.2 90.7h0M123.2 90.8h0M136.9 91.2h0M157.7 91.3h0M163.6 90.2h0M150.7 90.1h0M169.2 90.2h0M178.7 90.1h0M186.1 89.9h0M142.5 90.9h0M180 90.2h0M180 91.4h0M133.9 91.3h0M186.7 90.1h0M133.5 91.7h0M131.2 91.5h0M147.1 90.8h0M176 91.3h0M121.8 93h0M123.8 92.7h0M126.4 90.1h0M133.3 90.2h0M172.3 91.2h0M182.5 90.2h0M148.4 90.6h0M179.5 91.1h0M157.9 90.5h0M131.8 90.9h0M171 90.7h0M161.3 90.6h0M180.4 89.9h0"/>
<path class="pp" d="M174.5 90.5h0M143.6 90.5h0M159 91.3h0M121.7 98.8h0M163.1 91.2h0M177.6 90.9h0M158.9 90.6h0M145.8 91.5h0M162.4 90.3h0M159 91h0M136 90.7h0M149.1 90.8h0M156.2 90h0M156.7 90.9h0M186.2 90.2h0M184.9 89.9h0M156.7 91.3h0M135.4 90.3h0M177.5 90.3h0M172.9 90.2h0M142.9 90.4h0M147.5 91h0M137.4 90.6h0M170.2 91.2h0M176.6 91.3h0M130 91.3h0M130 91.6h0M147.9 90.7h0M172.5 91h0M161.7 90.3h0M131.1 91.3h0M156.8 90.2h0M131.1 90.4h0M157.5 91.3h0M127.3 91.7h0M144.4 90.8h0M141.1 91.5h0M137.1 90.6h0M156.4 90.9h0M150.8 90.5h0M138 90.5h0M176.2 90.1h0M143.6 91.6h0M145.3 91h0M125.3 90.3h0M135.6 90.9h0M148.6 90.4h0M124.7 90.8h0M173 91h0M152.7 90.4h0M137.7 91.7h0M179.8 91.4h0M164.5 90.6h0M171 90.3h0M183.9 91.1h0M135.7 91.3h0M133.3 91.1h0M129.5 90.7h0M168.3 91.2h0M160.4 90.4h0M142.6 91h0M140.5 91.6h0M171.6 90.5h0M138.1 90.7h0M154.4 90.6h0M160 90.6h0M172.2 90.7h0M185.2 90.4h0M169.5 90.4h0M135.5 91.4h0M168.6 91.2h0M168.8 90.6h0M137.7 91.4h0M138.3 91.6h0M185.6 90.7h0M136.5 91.7h0M127.6 91.3h0M147.4 90.6h0M149.9 91.2h0M167.3 91h0M151.7 90.2h0M137.8 90.5h0M145.8 90.8h0M142.6 91.7h0M160.9 91.1h0M145 90.4h0M184.3 89.9h0M146.7 90.5h0M157.1 91.6h0M155.4 91h0M146.4 91.4h0M149.3 91h0M185.3 91.2h0M154 91h0M164.6 91h0M122 94.2h0M145.5 90.6h0M173.2 90.6h0M147.8 91.4h0M185.9 90.9h0M129.8 91.5h0M144.6 91.6h0M127.3 90.4h0M168.9 90.3h0M127.6 90.2h0"/>
<path class="pp" d="M129 90.3h0M129.6 90.5h0M150.4 91.6h0M161.4 90.2h0M122.5 95.3h0M152.2 90.5h0M178.5 91h0M168.6 91h0M162.6 90.5h0M138.6 90.4h0M181.8 90.5h0M173.6 91.4h0M150.5 91.6h0M161.7 90.7h0M144.4 90.8h0M169 90.9h0M169.5 90.3h0M121.9 93.7h0M147.8 90.3h0M172.5 90.6h0M135.3 90.2h0M180.1 89.9h0M180 91.4h0M163.3 90.7h0M184.9 91.1h0M144.1 91.4h0M122.9 95.8h0M179.4 91.4h0M186.5 90.5h0M177.2 91.3h0M143.1 90.8h0M150 90.2h0M155.9 90.1h0M136.3 90.1h0M173.5 91.4h0M135.5 90.4h0M156.9 90h0M168.1 90.5h0M163.9 90.8h0M148 91.6h0M154.3 90.6h0M169.5 89.9h0M141.5 91.3h0M122.4 93.6h0M146.9 91.4h0M162.7 90.1h0M149.2 90h0M128.1 91.4h0M183.4 90.1h0M146.3 90.7h0M158.1 90.3h0M121.6 98.8h0M178.6 91.3h0M140.4 90.5h0M156.3 91h0M184.6 90.7h0M166.8 90h0M172.7 91h0M144.4 90.7h0M159.8 90.5h0M146 90.9h0M182.2 90.1h0M155.2 91.4h0M139.5 90.5h0M184.4 90.3h0M136.2 90.8h0M171.6 91.3h0M175.3 90.5h0M170.4 90.5h0M144.9 91.6h0M124.7 91.3h0M143.7 90h0M178.3 90.1h0M141.4 90.2h0M124.1 91.2h0M182.2 90.1h0M153.4 90.2h0M133.6 90.2h0M181.8 91.2h0M127 90.3h0M142 90.5h0M157.9 90.7h0M165.8 90.3h0M130.5 90.2h0M139 90.5h0M163.4 90.9h0M143.9 90.9h0M170.6 90.2h0M184.2 90.4h0M143.3 90.3h0M152.2 91h0M163.8 90.5h0M174 90.1h0M156.5 90.7h0M183.4 90h0M155.9 90.2h0M130 90.6h0M129.7 91.1h0M171.2 90.1h0M139.6 90.7h0M142.5 90.8h0M174.1 89.9h0M129 91.4h0M133.4 91.2h0M178.3 90.9h0"/>
<line class="rga" x1="121.5" y1="91.7" x2="185.5" y2="90.60000000000001"/>
<circle class="mk" cx="143" cy="89.3" r="1.5"/>
<path class="ax" d="M390.0 83.83V131.03M389.5 130.53H460.5"/>
<path class="ax" d="M386.5 89.43H390.0M386.5 105.73H390.0M386.5 122.03H390.0M393.00 130.53v3M425.00 130.53v3M457.00 130.53v3"/>
<text class="ann" x="458.00" y="105.13" text-anchor="end" font-size="6.5">p-val: <tspan dy="0.7" stroke-width="0.12" fill="#222" stroke="#222">***</tspan></text>
<text class="ann" x="458.00" y="112.53" text-anchor="end" font-size="6.8"><tspan font-style="italic">R</tspan><tspan dx="0.5" dy="-2.6" font-size="5.2">2</tspan><tspan dy="2.6">: 0.82</tspan></text>
<rect class="lg" x="410.30" y="116.33" width="46.70" height="11.00"/>
<circle class="ldg" cx="419.10" cy="121.83" r="1.5"/>
<text class="ann" x="454.80" y="124.13" text-anchor="end" font-size="6.5">DSConv</text>
<line class="rgb" x1="392.5" y1="97.7" x2="456.5" y2="93.0"/>
<path class="cg" d="M395 99L398 96.5L405 95L415 94L458 93L458 95.5L415 96.2L405 97.2L398 99.2L395 102Z"/>
<path class="pg" d="M453.2 93.4h0M427.2 94.6h0M413.4 94.7h0M414.1 94.6h0M451.2 94.9h0M453.2 93.4h0M403.3 97.1h0M411.9 95.3h0M405.8 95.4h0M455.2 95h0M404.1 96.5h0M446.6 93.7h0M418.2 94.6h0M403.4 96.1h0M456.3 94h0M398.8 98.1h0M424.6 95.2h0M441.5 94.9h0M420.8 94.5h0M394.2 103.4h0M425.7 95.2h0M432.7 94.4h0M446 94.5h0M395.5 99.4h0M413.9 94.5h0M441.5 93.9h0M446.8 93.8h0M449.9 95.1h0M441.9 95.1h0M421.3 95.4h0M403.4 95.6h0M400.9 97.2h0M425.3 94h0M450.2 93.5h0M425.4 94.5h0M452.6 94.5h0M423.6 94.8h0M405.8 95.4h0M431.1 95.2h0M437.2 94.5h0M396.7 98.5h0M442.7 94.6h0M426.6 94.5h0M413.8 95.3h0M417.7 94.8h0M427.5 94.1h0M397.1 97.6h0M411 95.2h0M407.9 95.6h0M438.8 94.2h0M425.3 95.1h0M416.5 95.5h0M429.4 94.3h0M434.5 95.1h0M443 94.6h0M410.4 96h0M447.6 95h0M428.8 94.9h0M457 93.5h0M423.6 95.5h0M445.1 94h0M444.5 94.6h0M409.8 95.7h0M424.8 95.2h0M442 95.2h0M410 95.5h0M434.5 94.1h0M442.3 94.1h0M429.8 94.8h0M393.5 102.7h0M408 96.4h0M419.4 94.7h0M445.9 93.7h0M412.7 94.8h0M393.5 104.5h0M413.5 94.7h0M424.8 94.6h0M403.1 97.2h0M450.1 93.8h0M404.2 95.9h0M448 94h0M393.2 104.2h0M411 94.8h0M411.7 95.9h0M450.6 93.8h0M451.3 93.8h0M449.1 94.6h0M429.4 94.4h0M408.4 95.4h0M407.5 95.7h0M394.3 101.7h0M446.7 94.7h0M449.8 94h0M435.1 94.2h0M416.1 95.1h0M415.2 94.7h0M393.3 103.7h0M455.5 94.4h0M403.9 96.4h0M444.1 94.5h0M413.7 95.7h0M436.9 94.4h0M426 94.8h0M456.5 93.6h0M415.1 95.4h0M444.9 93.9h0M402 97.2h0M457.2 93.4h0M431 94.3h0M414.7 94.8h0M402.5 97.4h0M448.8 94.5h0M443.1 94.5h0M457.7 94.5h0M445.1 94.3h0M421.1 94.3h0M402.6 97.2h0M413.9 95.3h0M435.3 93.9h0M431.6 95h0M393.5 102.8h0M415 94.9h0M399.2 96.6h0M456.9 94.3h0M423.1 95.3h0M423.1 94.4h0M425.2 94.1h0M449.7 94.9h0M455.6 94.5h0M421.1 94.4h0M454.2 94.4h0M411 95.7h0M411.5 95.4h0M456.7 94.3h0M431.2 94.4h0M444.8 94.8h0M457.6 95h0M427.2 94.1h0M453.3 94h0M417.3 94.9h0M443.2 95.2h0M454.4 93.3h0M395.2 99.9h0M448.1 95.1h0M430.5 94.6h0M437.5 94.7h0M447.1 93.9h0M456.9 93.9h0M453.9 94.9h0M421.6 94.7h0M421.4 95.2h0M401.5 96.9h0M448.8 94.4h0M433.4 94.9h0M440.6 94.3h0M413.6 95.1h0M405.3 96.2h0M443.5 94h0M397.8 98.6h0M429.5 94.8h0M457 93.8h0M429.7 95.1h0M445 94.6h0M410.9 94.9h0M409.5 96h0M420.1 94.2h0M416.5 94.8h0M394.7 101.8h0M416.4 95.3h0M419.6 95.1h0M434 95.1h0M441.1 94.3h0M417.9 94.8h0M399 98.4h0M456.1 94.8h0M410.8 95h0"/>
<path class="pg" d="M444.1 94.9h0M413.2 94.5h0M457.6 93.6h0M422.6 94.9h0M448 94.8h0M450.1 94.9h0M453.4 95h0M394.2 101.4h0M416.1 94.7h0M394.9 100.4h0M441.8 95.1h0M397.5 98.7h0M406.8 95.1h0M393.4 105.5h0M433.8 94h0M420 95.2h0M422.9 94.4h0M434.2 94.3h0M437 93.8h0M424.4 94.3h0M451.8 94.9h0M456.9 94.6h0M396 98.7h0M437.5 94.9h0M422.6 94.9h0M456.6 94.6h0M436.5 94.7h0M434.6 94.8h0M424.6 94.7h0M400 97h0M415.7 95.6h0M411.9 95.5h0M443.3 94.5h0M399.8 96.5h0M433.5 93.9h0M408.5 95.2h0M432.4 93.9h0M411.5 95.2h0M398.6 97.5h0M442.6 94.5h0M407.2 95.4h0M435.1 94.5h0M427.7 94.9h0M454.2 93.9h0M401.5 96.5h0M455.1 94.8h0M457.4 93.4h0M407.4 96.3h0M411.7 95.9h0M436 95h0M438.7 95h0M423.4 95h0M432.3 95.1h0M442.7 94.2h0M409.7 95.9h0M444.2 94.3h0M450.3 94.3h0M442.4 95.1h0M406.4 95.3h0M417.9 95.4h0M408.9 95h0M412.5 95.5h0M438.8 94.4h0M447.8 94.7h0M441.6 95.1h0M442.6 94.1h0M455.8 93.8h0M419.9 95.4h0M418.4 95.2h0M415 94.6h0M439.4 93.8h0M437.5 95.3h0M436 95h0M456.2 93.8h0M455.2 93.6h0M446 95.2h0M441.3 93.8h0M441.4 93.9h0M447.8 93.9h0M446.4 94h0M425.9 95.3h0M433.1 94.7h0M419.3 94.5h0M452.9 94h0M435.4 95.1h0M395 101.3h0M401.8 97.2h0M426.9 94.1h0M432.9 94.7h0M409.3 95h0M417.7 94.7h0M423.8 94.4h0M451.5 93.4h0M421.3 94.7h0M444.5 94.2h0M414.9 95h0M429.8 94.7h0M435.1 94.7h0M451.1 93.7h0M420.1 95.4h0M416.4 95.1h0M393.2 103.2h0M427.4 94.6h0M451.3 94h0M404.4 96.8h0M428.9 95h0M414.6 94.8h0M392.5 121h0M456.7 94.3h0M432.1 94.2h0M415.4 95.4h0M452.7 94.7h0M449.8 94.6h0M403.2 97.2h0M394.6 101.2h0M447.4 94.3h0M446.8 93.6h0M438.8 94.4h0M423.9 95.4h0M444.2 93.8h0M410.2 95.4h0M396.6 99.4h0M393.4 102.3h0M413.8 95.2h0M426.9 95.4h0M427.9 94.9h0M454.9 94.8h0M441.4 94.9h0M450.5 93.9h0M400.5 97.4h0M434.9 94.8h0M442.9 95.2h0M396.7 99h0M427.8 94.1h0M398.7 98.1h0M452.3 95h0M425.9 95.3h0M445.5 94.3h0M441.4 94.3h0M429.4 94.6h0M418.4 94.5h0M407.9 95.8h0M452.3 93.5h0M427.4 94.1h0M392.8 112.7h0M447.8 93.6h0M396.6 98.9h0M406.2 95.8h0M404.6 96.7h0M428.5 95.1h0M413.5 94.5h0M400.1 96.3h0M439.2 94.1h0M434.4 95.1h0M425.2 94.2h0M402.8 95.8h0M435.5 94.8h0M419.6 95h0M424.8 94.6h0M435.7 94.3h0M425 95h0M440.2 94.1h0M428.5 94.3h0M433.4 95.1h0M420.2 95.2h0M396.8 98.5h0M393.6 102.5h0M412.5 94.8h0M425.2 94.1h0M405.7 95.4h0M411.5 95.2h0M393.8 103h0M442.9 94.5h0M437.1 94.7h0M426.1 95.3h0M453.3 94.6h0"/>
<path class="pg" d="M409 95.5h0M437.1 94.9h0M440.3 94.8h0M394.3 103.6h0M401.5 97.2h0M437.3 94.1h0M415 94.7h0M416 95h0M440.4 95.1h0M417 94.4h0M406.6 95.8h0M426.7 95.3h0M411.5 94.9h0M444.7 94.4h0M432.4 94.3h0M401.8 96.4h0M431.4 94.5h0M422.2 94.9h0M408.3 94.9h0M417.1 95.1h0M441.8 94.7h0M429.3 95.4h0M443.2 94h0M418.1 94.9h0M411.8 95.5h0M403.5 95.9h0M407.9 96.2h0M438.9 93.7h0M414.2 95.5h0M450.5 94.5h0M452.6 93.9h0M438.9 93.9h0M456.9 93.6h0M403.6 96h0M436.1 95h0M452.1 94.7h0M449.9 94.9h0M406.8 95.5h0M401.6 96.7h0M410.4 95.9h0M449.9 95.1h0M457.4 94.5h0M423.6 94.4h0M412.3 95.7h0M444.4 94.7h0M397.1 98.5h0M454.1 93.6h0M443.5 94.2h0M431.9 94.1h0M426.6 94.5h0M448.1 95.1h0M426.2 94.2h0M408.1 95.6h0M419.3 95.3h0M453.7 93.7h0M434.9 94.6h0M398.3 97.7h0M400.6 97.2h0M419.9 94.9h0M452 94.6h0M404.2 95.9h0M404.3 96.6h0M408 95.4h0M445.8 94.8h0M419.6 94.5h0M442 94.5h0M429.2 94.3h0M441.7 94.2h0M434 95h0M442.6 94.8h0M429.6 94.7h0M396.5 99.1h0M407.7 95.6h0M446.7 95.1h0M448 93.9h0M397.2 98.4h0M407.9 95.9h0M405.8 96.1h0M411.5 94.9h0M412.5 95.2h0M400 96.9h0M454.8 93.9h0M411.7 94.8h0M449.8 93.6h0M407 96.2h0M415 95.4h0M438.8 94.1h0M427.2 94.1h0M438.7 95.2h0M443.2 94.3h0M423.9 94.9h0M428.8 94h0M446.5 93.6h0M397.1 99.3h0M447.1 93.7h0M445.6 94.7h0M405.9 95.4h0M441 94h0M452.8 94h0M413.9 95.3h0M424.3 95.4h0M434.6 94.4h0M409 96.1h0M451.2 94.4h0M448 94.2h0M453.1 94.5h0M422 95.3h0M424.8 94.9h0M421.3 95h0M416.7 94.8h0M416 95.1h0M455.6 94.9h0M416.4 94.5h0M396.2 98.7h0M408.3 96h0M445.6 94.1h0M417.5 95.5h0M414.1 95.6h0M440.3 94.6h0M409.8 95.8h0M398.1 97.7h0M453.4 93.7h0M419.9 94.6h0M444.5 94.6h0M406.3 95.9h0M395.7 99.9h0M412.7 95.7h0M407.2 95.2h0M455 93.4h0M447.3 95h0M410.3 95.3h0M402.5 97.1h0M442.5 94.6h0M415.3 94.4h0M434.7 94.3h0M448.3 95h0M425.8 95.4h0M448.5 93.7h0M397.6 98.4h0M418 94.4h0M439.9 94.8h0M411.1 95.8h0M440.7 94.9h0M449.4 95h0M429.9 94h0M394.7 100.1h0M457 94.4h0M430.6 94.1h0M397 99.3h0M421 94.5h0M402.8 96.1h0M407.5 95.7h0M427.1 94.9h0M411.1 96h0M446.3 94.4h0M403.2 96.3h0M417.8 94.7h0M407.1 96.1h0M451.8 93.5h0M411.9 94.6h0M443.5 94.6h0M434.2 94h0M413.9 94.8h0M410.2 96h0M407.6 96h0M444.5 94.7h0M406.2 95.7h0M437.2 93.7h0M426.1 94.2h0M401.7 96.1h0M425.6 94.2h0M404.2 96.1h0M429.2 94.5h0M449.4 95.1h0M424.3 94.9h0"/>
<path class="pg" d="M398.4 96.9h0M428.9 94.1h0M456.9 93.3h0M433.6 94.7h0M404 96.8h0M430.9 95h0M414.8 95h0M455.7 94.9h0M436.9 95.1h0M425.8 94.9h0M428.4 94.4h0M449.3 94.3h0M413.6 94.6h0M430.1 94h0M414.7 94.9h0M421 94.2h0M405.6 96.1h0M449.5 94.4h0M444.5 93.7h0M434.8 94.6h0M422.8 94.1h0M395.5 101h0M395 99.8h0M415.4 94.7h0M448.5 93.7h0M456.4 93.3h0M396.3 98.3h0M415.1 94.7h0M412.3 95.4h0M422.6 94.9h0M395.6 99.5h0M452.7 94.3h0M405.8 96.4h0M447.8 94.6h0M401.8 96.4h0M402.8 97h0M443.4 94.7h0M414.4 95.3h0M407 96h0M396.6 99.1h0M408.1 96.3h0M440.4 95h0M448 94.4h0M433.1 94.2h0M395.2 101.1h0M400.8 96.6h0M440.7 94.4h0M426.6 94.2h0M405.3 95.7h0M439.9 95h0M425.1 94.1h0M406.5 95.8h0M446.7 94.2h0M449.2 93.9h0M426.8 94.2h0M440.9 94.8h0M410 95.5h0M404.7 96.6h0M422.9 95.2h0M410.9 95.6h0M446.4 94.6h0M453.7 93.8h0M417.2 94.7h0M452.3 93.4h0M437.6 94.3h0M401.1 96.7h0M422.9 94.5h0M437 95.2h0M414.3 95.5h0M453.5 94.4h0M449.2 94.6h0M441.1 94.1h0M407.9 95.8h0M398.6 97.5h0M413.3 95h0M457.1 94.2h0M404 96.5h0M413.5 95.3h0M417.5 95.3h0M430.4 95.1h0M428.4 94.7h0M410.3 95.4h0M402.5 97.4h0M417.7 95.5h0M444.6 94.7h0M402.4 96.1h0M434.5 94h0M454.1 95h0M413.8 94.5h0M444.6 95.1h0M429.9 94.3h0M418.7 94.6h0M415.8 94.8h0M425.1 94.7h0M448 93.7h0M422.5 95h0M401.7 96.3h0M426 94.6h0M453.3 94.8h0M441.6 94.9h0M451.1 94.7h0M412 94.7h0M407.2 96.4h0M415.3 95.5h0M415 94.5h0M396.9 98.7h0M436.5 95h0M450.3 93.8h0M422.9 94.3h0M454.7 93.5h0M404.3 96.1h0M433.3 94.5h0M419.4 95h0M454.9 93.6h0M424.3 94.3h0M406.5 95.7h0M448 94.5h0M455.6 94.9h0M423.7 95.2h0M435.7 94h0M412.8 95h0M403.1 97.1h0M422.9 95.2h0M451.3 93.9h0M426.4 94.7h0M414.7 95.3h0M453 94.2h0M413.9 94.6h0M416.8 94.5h0M426.2 94.8h0M436.2 94.6h0M417.6 94.2h0M413.1 94.6h0M449.6 94.4h0M432.7 94.4h0M447.5 93.9h0M407.1 95.3h0M446.1 94.1h0M440.6 93.8h0M406.9 95.7h0M420.5 94.8h0M400.9 96.5h0M442.3 93.8h0M444.7 94.2h0M413 94.6h0M423.2 94.7h0M413 95.1h0M405.4 95.4h0M417.8 95.2h0M416.8 94.3h0M405.8 96h0M396.1 100.3h0M436.9 95.3h0M422.1 94.2h0M440.7 94.5h0M409.3 96h0M441.2 93.9h0M420.1 94.9h0M421.9 95h0M435.9 94.4h0M420.1 94.4h0M411.3 95.3h0M409 94.9h0M433.5 94.3h0M423.7 94.7h0M456.7 94.7h0M434.1 94.6h0M419 95.5h0M415.2 95.4h0M408.6 96.2h0M421.6 94.6h0M397.9 98.4h0M420.5 94.3h0M424.9 94.9h0M403.1 96.4h0"/>
<circle class="mk" cx="414.3" cy="95.3" r="1.5"/>
<path class="ax" d="M199.9 83.83V131.03M199.4 130.53H270.4"/>
<path class="ax" d="M196.4 88.43H199.9M196.4 107.53H199.9M196.4 126.63H199.9M202.90 130.53v3M234.90 130.53v3M266.90 130.53v3"/>
<text class="ann" x="267.90" y="105.13" text-anchor="end" font-size="6.5">p-val: <tspan dy="0.7" stroke-width="0.12" fill="#222" stroke="#222">***</tspan></text>
<text class="ann" x="267.90" y="112.53" text-anchor="end" font-size="6.8"><tspan font-style="italic">R</tspan><tspan dx="0.5" dy="-2.6" font-size="5.2">2</tspan><tspan dy="2.6">: 0.81</tspan></text>
<rect class="lg" x="212.98" y="116.33" width="53.92" height="11.00"/>
<circle class="ldp" cx="221.78" cy="121.83" r="1.5"/>
<text class="ann" x="264.70" y="124.13" text-anchor="end" font-size="6.5">LSTMCNN</text>
<path class="cp" d="M202.5 94.9L204 89.7L206 88.7L215 87.7L225 87.2L235 87.6L268 88.5L268 90.5L235 89.8L225 89.7L215 90.1L206 90.9L204 92.8L202.5 102.1Z"/>
<path class="pp" d="M263.9 89h0M220 89.6h0M247.6 88.1h0M211.3 89.2h0M261.3 88.9h0M229.2 88.7h0M218 89.5h0M266.4 88.9h0M262.6 89.5h0M263 89.3h0M208.2 89h0M207.5 90.8h0M237.2 88.7h0M261 89.7h0M226.4 88.4h0M255.4 89.2h0M244.1 88h0M226.5 88.8h0M227 87.7h0M238 89.4h0M253 89h0M204 92.5h0M243.6 88.1h0M237.4 89.5h0M217.7 88.2h0M247.5 89.9h0M253.6 88.3h0M248.8 88.7h0M229.3 88.9h0M227.3 87.5h0M254.9 88.9h0M209.8 89.6h0M217.5 90.1h0M242.6 89.3h0M214.8 89.8h0M234 88.8h0M212.8 89.2h0M265.9 89.1h0M239.5 89.4h0M218.3 89.9h0M248.1 89.7h0M264.1 89.6h0M250.2 89.4h0M231.1 89.4h0M217.9 88.2h0M266 89.4h0M212.7 90.4h0M229.4 88.2h0M242.6 89.7h0M239.7 88.4h0M235.3 87.9h0M219.3 88.5h0M222.7 89.6h0M259 89.3h0M217 88.3h0M231 87.9h0M253.9 89.9h0M225.6 89.5h0M252.5 90h0M225.6 89h0M261.9 89.8h0M203.9 90h0M247.7 89.2h0M202.6 101h0M216.9 88.8h0M241.3 89.3h0M216.9 89.1h0M215.2 88.1h0M249.1 88.1h0M211.1 90.4h0M267 89.3h0M252.4 88.7h0M252.7 88.9h0M265.7 89h0M212.3 89.3h0M211.7 90.4h0M231.2 89h0M213.4 90h0M216.8 89.2h0M258.7 88.9h0M238 89.7h0M264.3 90.1h0M266.8 88.8h0M244.6 89h0M232.5 87.7h0M203.3 98.1h0M222.8 89.8h0M209.9 88.7h0M202.6 98h0M231.6 88.7h0M240.5 88h0M252.9 88.4h0M257.7 89.5h0M232 87.9h0M240.1 88.5h0M230 87.6h0M257.3 89h0M204 91.6h0M218.5 89.2h0M218.7 90h0M256.7 89.7h0M264.1 89.2h0M213.9 88.9h0M255.5 88.6h0M256.7 88.4h0M265.9 88.9h0M237.6 88.1h0M266.2 88.6h0M253.8 88.8h0M244.2 89.9h0M228.5 87.6h0M247.5 88.9h0M213.9 89.5h0M247.3 88.6h0M245.9 88.3h0"/>
<path class="pp" d="M212.9 88.1h0M238 88.8h0M202.6 97.9h0M264.2 89.5h0M226.1 88h0M239.2 88.4h0M215.1 89.7h0M228.8 87.7h0M237.3 89.7h0M224.3 87.7h0M209.4 90h0M220.6 89.6h0M226.4 88.4h0M246.8 89.1h0M231.9 89.5h0M250.4 89.3h0M225 89.6h0M234.1 89.6h0M208.6 89h0M252.8 89.6h0M230.2 87.8h0M255.2 89.8h0M256.6 88.3h0M218.9 88.2h0M261.5 89.1h0M218 88.3h0M230.3 87.5h0M245.4 88h0M218.7 87.6h0M233 87.9h0M245.8 88h0M203.4 95.9h0M204.1 91.9h0M267.8 89.4h0M227.1 89h0M210.8 88.4h0M248.8 89.2h0M213.3 89.1h0M225.7 88.8h0M209.6 89.9h0M241 89.5h0M205 91.2h0M211.8 89.3h0M211.3 89.3h0M235.3 87.9h0M237.5 87.9h0M205.4 91.6h0M242.7 88.5h0M204 93.2h0M239.2 88.6h0M239.1 88.8h0M225.1 88.3h0M234.9 88.8h0M208 89.9h0M211.2 88.8h0M237.9 88.1h0M250.3 88.4h0M236.4 88.3h0M212.5 89.2h0M226 89.4h0M230.3 89.5h0M245.6 89.8h0M217.2 89.5h0M246.6 89.5h0M207.3 89.2h0M217.6 89h0M222.8 88.3h0M261 90.1h0M212.3 88.6h0M242.8 89.6h0M240.9 88.8h0M218.8 89.3h0M207.9 89.6h0M243.7 88.1h0M256.1 90.2h0M253 89.9h0M213.6 88.3h0M218.3 88.5h0M238.1 87.8h0M265.9 90.3h0M204.7 89.2h0M229.4 88.1h0M209.6 90.2h0M234.8 89.5h0M203.2 97.4h0M214.2 88.7h0M252.8 88.8h0M265.1 89.7h0M230.4 88h0M255.8 90.1h0M202.9 97.8h0M256.6 88.3h0M247.1 89.7h0M205.5 88.8h0M252.3 88.9h0M232.1 88.6h0M264.5 90.3h0M232.4 88.9h0M249.2 89.9h0M240.1 88.3h0M243.5 89.8h0M222.3 89.1h0M226.7 89h0M240.3 89h0M209.3 89h0M224.9 87.9h0M249.4 89.9h0M238.4 88.5h0M225.2 88.6h0M227 87.3h0M245.1 88.4h0M240.2 89.7h0M214.2 88.9h0M246 89.1h0M226.6 87.6h0"/>
<path class="pp" d="M260.8 88.9h0M219.5 87.4h0M217.6 88.8h0M219.8 87.4h0M214.2 89.3h0M217.9 88.6h0M266.6 88.8h0M209.6 88.5h0M235.4 87.9h0M231.3 89h0M259 89.6h0M246.6 89.1h0M207.1 88.6h0M237.8 88h0M252.2 89.4h0M229.3 88.2h0M220 88.5h0M222 89.4h0M222.8 87.5h0M256 88.9h0M203.8 90.5h0M223.7 88.9h0M261.3 89.1h0M202.7 92.7h0M206 90.5h0M239.1 88.8h0M239.1 88.9h0M217.8 88.8h0M229.3 88.5h0M259.4 90.1h0M223.5 87.4h0M263.8 88.7h0M244.6 89.7h0M214.6 89h0M213.6 89.8h0M263.9 89.9h0M237.7 88.1h0M219.5 89h0M226.3 87.4h0M266.5 88.8h0M243.5 89.4h0M266.4 89.7h0M214.1 87.8h0M243.6 88.7h0M249.6 90h0M251.7 88.9h0M258.7 89.6h0M223.7 89.8h0M261.8 89.2h0M219.8 89.2h0M208.6 90.1h0M205.1 91.6h0M235.1 88h0M242.5 89.6h0M257.7 89.5h0M234.2 89h0M224.2 87.9h0M206.3 90.9h0M237.1 89.8h0M250.4 89.5h0M250.9 88.1h0M223.8 89.3h0M241.7 88.2h0M241.7 88.2h0M204.7 90.4h0M212 90h0M261.9 90.2h0M243 89.3h0M255.3 89.8h0M266.2 88.9h0M217.8 88.7h0M253.1 89.5h0M219.2 89.6h0M261.5 89.3h0M258.6 88.6h0M262.5 89.8h0M238.7 89h0M244.5 88.1h0M267.9 89.7h0M221.1 88.5h0M241 89.5h0M209.8 89.7h0M242.5 88.9h0M228.8 88h0M206.7 89.9h0M236.9 89.1h0M215.4 87.9h0M242.1 89.3h0M204.4 92.4h0M241.6 87.8h0M234.8 89.5h0M210.4 88.9h0M232.4 88.9h0M221.2 88.7h0M259.3 89.8h0M234.4 89.1h0M261.3 89.1h0M262.5 89h0M229.5 88.5h0M256.5 88.5h0M229.2 88.7h0M240 89.2h0M219.1 89.5h0M222.2 89.3h0M219.2 88.7h0M239.4 88.5h0M226 87.8h0M262.6 89.1h0M226.1 89.6h0M225.4 89.6h0M229.4 89.6h0M249.1 89.1h0M206.9 90.5h0M237.2 88.3h0M254.1 90h0"/>
<path class="pp" d="M253.3 89.2h0M241 87.9h0M250.3 88.6h0M235.2 87.8h0M225.5 89.7h0M242.5 88.4h0M249.4 89.6h0M260.7 88.5h0M255.5 89h0M212.1 89h0M247 88.2h0M265.1 89.8h0M221.2 87.9h0M223.8 89h0M262 90.2h0M239 89.1h0M241.1 89.9h0M214.6 89.9h0M228 89.5h0M217.3 89.1h0M212.2 90h0M265 90.2h0M207.5 89.1h0M253.6 88.6h0M266.1 88.9h0M258.6 88.6h0M264.8 90.1h0M258.2 88.7h0M227.1 88.5h0M250.5 90.1h0M206.2 90.3h0M215.9 88.9h0M254.1 90.1h0M247.5 89h0M210.5 90.4h0M221.2 88.8h0M215.9 89.7h0M237.2 88h0M265.5 89.3h0M257.3 89.5h0M252.7 88.3h0M221.1 87.4h0M228.5 88.4h0M241.1 89h0M265.4 90.2h0M264.6 89.7h0M242 89.7h0M212.2 89h0M228.6 89.4h0M252.7 89.2h0M240.7 89.1h0M267.2 89h0M204 91.5h0M221.2 89.8h0M237.2 88.4h0M261.2 89.8h0M249.3 89.2h0M227.5 88.4h0M235.2 88.5h0M251.2 88.4h0M260.7 89.4h0M242.5 88h0M252.7 88.4h0M266.4 88.9h0M265.5 89.1h0M261.6 88.5h0M243.5 88h0M250.6 89.7h0M237.2 89.2h0M259.5 89.1h0M265.1 90.3h0M237.3 89.6h0M246.6 88.1h0M256.2 89.3h0M242.2 89.3h0M263.5 89.8h0M230.8 89.8h0M213.3 89.1h0M229 89.1h0M233.9 88.4h0M238.8 89h0M230.9 87.5h0M248.1 89.4h0M222.7 89.6h0M266.4 88.8h0M237.7 88.3h0M220.3 88.5h0M253.7 88.4h0M215.4 90.1h0M242.8 88.7h0M220.7 87.8h0M205.7 90.1h0M222 89.4h0M236.4 89.6h0M248.9 89.3h0M218.8 88.1h0M252.7 89.1h0M225.5 87.9h0M222.4 89.1h0M239.9 88.3h0M266.4 89.9h0M222.5 88.6h0M259.4 88.7h0M205 90.8h0M264.1 89.3h0M248.2 89.5h0M216.2 87.8h0M254 90.1h0M245 88.5h0M202.6 103.1h0M210.8 88.6h0M245.9 89.4h0M211.5 88.3h0M237.9 88.6h0M256.9 88.9h0"/>
<line class="rga" x1="202.5" y1="89.9" x2="266.5" y2="90.2"/>
<circle class="mk" cx="229.7" cy="86.1" r="1.5"/>
<path class="ax" d="M471.5 83.83V131.03M471.0 130.53H542.0"/>
<path class="ax" d="M468.0 89.43H471.5M468.0 105.73H471.5M468.0 122.03H471.5M474.50 130.53v3M506.50 130.53v3M538.50 130.53v3"/>
<text class="ann" x="539.50" y="105.13" text-anchor="end" font-size="6.5">p-val: <tspan dy="0.7" stroke-width="0.12" fill="#222" stroke="#222">***</tspan></text>
<text class="ann" x="539.50" y="112.53" text-anchor="end" font-size="6.8"><tspan font-style="italic">R</tspan><tspan dx="0.5" dy="-2.6" font-size="5.2">2</tspan><tspan dy="2.6">: 0.84</tspan></text>
<rect class="lg" x="484.58" y="116.33" width="53.92" height="11.00"/>
<circle class="ldg" cx="493.38" cy="121.83" r="1.5"/>
<text class="ann" x="536.30" y="124.13" text-anchor="end" font-size="6.5">LSTMCNN</text>
<line class="rgb" x1="473.5" y1="99.8" x2="537.5" y2="86.1"/>
<path class="cg" d="M477 97.5L486 97L492 94.5L500 89.5L520 89L538 89.5L538 91.9L520 91.4L500 92.2L492 97.2L486 99.4L477 100.2Z"/>
<path class="pg" d="M519.3 90.4h0M514.9 90.8h0M536.1 89.8h0M492.1 95h0M514.3 90.9h0M473.8 120h0M483.3 99h0M536.3 89.9h0M492.5 96.2h0M536 89.9h0M529.7 90.5h0M492.7 95.4h0M493.3 94.1h0M487.6 97.2h0M508.5 90.5h0M525.2 90.8h0M482.7 97.9h0M475.5 109.7h0M531.8 90.2h0M481 97.6h0M489 97.6h0M474 114.4h0M528.5 90.2h0M492.4 96.2h0M518 90.6h0M524.5 89.7h0M526.7 90.8h0M506 91.3h0M480 99.2h0M519.3 90.7h0M474.1 118.4h0M534 89.9h0M511.7 90.5h0M520.5 90.5h0M483.1 98.3h0M478.5 98.7h0M531.9 90.7h0M511.1 90.5h0M516.3 89.5h0M498.3 92.6h0M488 96.8h0M507.8 90h0M497.4 91.6h0M496.7 92.1h0M534.2 90.7h0M490.5 95.4h0M537.6 91h0M479.7 98.2h0M475.9 105.4h0M497.2 91.8h0M478.2 98.7h0M476.1 104.5h0M476.1 104.7h0M483.6 97.5h0M522.4 90.8h0M519.1 89.9h0M495.2 94.3h0M504.4 91.1h0M480.4 99.3h0M506.1 90h0M480.4 99.2h0M521.3 90.9h0M491.8 95.5h0M508.9 89.9h0M492.7 95.2h0M486.5 97.1h0M476 102.6h0M537.2 90.1h0M526.9 90.2h0M517.7 90.3h0M491.8 95.7h0M510.3 89.6h0M482 98.5h0M528.8 90.8h0M482.4 97.5h0M537.2 89.8h0M485.5 98.3h0M498.8 91.3h0M529.9 89.7h0M494.7 94.8h0M508.5 90.6h0M521.5 89.4h0M537.4 91.3h0M495.7 94.1h0M535.6 91.2h0M479.8 98.3h0M517.5 90.1h0M524.4 90.8h0M532.1 90.5h0M530.5 90.4h0M483 98.5h0M508.4 90.5h0M510.2 91.2h0M533.7 90.5h0M533.7 90.2h0M493.8 95.2h0M510 90.7h0M521.3 90.4h0M494.5 94.4h0M521.2 89.7h0M516.7 89.5h0M482.2 98.7h0M508 91.1h0M504.6 90.3h0M488.7 97.8h0M535 90.3h0M499.3 91.3h0M489.2 97.1h0M523.9 90.4h0M533.7 90.7h0M524.4 89.9h0M519 89.4h0M522.7 90.5h0M481.4 97.8h0M480.2 99.3h0M534.3 90.7h0M492.2 96.4h0M507.1 90.1h0M504 90.3h0M512.9 90.1h0M513.6 90.1h0M517.5 91h0M506.9 89.7h0M497.3 92h0M522.7 90.7h0M533.1 90h0M510.5 91h0M494 93.6h0M485.2 97.4h0M488.2 97.8h0M535 89.8h0M479.8 98.4h0M536 91.3h0M535.1 90.3h0M531.1 90.3h0M529.9 90.4h0M509.5 89.6h0M490.7 95.9h0M514.6 90.3h0M494.6 94.6h0M512.9 90h0M482.2 98.9h0M487.8 97.9h0M507.4 89.7h0M509 89.6h0M509.3 90.8h0M480.5 97.8h0M529.3 90.8h0M532.2 90.3h0M490.7 95.4h0M499.7 90h0M532.1 90.4h0M480.7 98.9h0M520.7 90.3h0M474.2 114.8h0M513.3 90.3h0M518.9 90.6h0M482.3 98h0M508.5 89.6h0M497.5 91.4h0M527.5 90.3h0M525.2 90.4h0M523.6 89.9h0M514.7 91h0M497.7 91.3h0M478.5 98.4h0M526.8 91.1h0M480.6 98.1h0M516.6 89.7h0M536.3 90.4h0M519.2 90.9h0M494.1 94.2h0M505.4 91.3h0M478 98.5h0M526.3 89.7h0"/>
<path class="pg" d="M498.1 92.5h0M478 99.1h0M513.3 91.1h0M482.5 97.6h0M511.1 89.8h0M499.8 91.2h0M475 106.3h0M523.3 90.7h0M491.4 96h0M511.6 90.4h0M515.5 89.7h0M498.3 91.7h0M499.9 90.6h0M492.5 94.5h0M491.7 96.4h0M500.4 91h0M486 97.4h0M524.7 89.9h0M515 89.5h0M532 90.5h0M473.6 119.8h0M535.6 90.1h0M476 105.3h0M475.7 104.3h0M493.1 95.5h0M534.8 90.7h0M504.2 89.9h0M528.1 90h0M489.8 97h0M506.6 89.9h0M486.2 97.2h0M481.5 98.9h0M498.4 92.4h0M534 91.2h0M490.6 95.6h0M505.2 89.7h0M480 98.5h0M491.7 96.1h0M532.1 91.2h0M510.8 90.6h0M497.5 92.1h0M509.2 89.7h0M477.2 99h0M516.4 90.1h0M516.9 90.6h0M477.8 98.4h0M532.9 89.8h0M531.6 91h0M498.1 91.1h0M537.1 91.1h0M519 90.4h0M495.9 93.2h0M494.4 93.8h0M500.5 91.4h0M493 96h0M533.6 91.1h0M496.4 92.2h0M527.1 90.8h0M520.4 90.6h0M502.1 90h0M492 95h0M492.8 95.5h0M474.2 117h0M483.8 97.9h0M508.4 90.7h0M500.5 90.2h0M522.6 89.4h0M517.6 89.8h0M485.3 97.3h0M493.9 95.3h0M525.3 90.6h0M499.1 92h0M521.4 90.2h0M507 90.4h0M532.7 90.5h0M532.5 91.2h0M504.3 90.4h0M536.4 90.8h0M500.5 90h0M491.1 96.8h0M535 90.9h0M526.5 90.3h0M523.7 90.3h0M486.1 98.4h0M504.8 89.8h0M512.4 90.8h0M504.4 90.8h0M484.9 97.4h0M479.5 98.2h0M483.3 98h0M477 98.9h0M525.6 90.4h0M480.6 98.8h0M513 90h0M503 90.5h0M491.6 95h0M533.6 91.1h0M492.5 94.7h0M483.9 97.4h0M511.4 90.4h0M489.8 96.7h0M511.4 89.7h0M534.6 90.6h0M495.1 94.6h0M493.9 94.1h0M531.6 91.1h0M533 89.8h0M502 90.3h0M526.5 90.7h0M532.1 91.2h0M475.3 108.6h0M527 91.1h0M484.5 98.1h0M522.4 89.5h0M533.5 91.2h0M478.5 99.4h0M537.5 90h0M503.6 90.5h0M489.4 95.9h0M473.7 118.2h0M525.1 90.9h0M495.3 93.8h0M498.5 92h0M476.8 99.5h0M488.1 96.5h0M518.6 90.5h0M535.8 90.7h0M522.7 89.4h0M529.7 90.5h0M510.7 89.9h0M520.1 89.7h0M524.1 90.6h0M509.4 89.6h0M520 89.7h0M485.8 97.4h0M532.6 89.8h0M491.8 96h0M486.3 98.5h0M523.2 89.4h0M481.5 98.9h0M520.5 90.1h0M508.5 90.6h0M476.9 99.9h0M480.9 99.2h0M489.2 97.6h0M478.7 99.4h0M489.3 97.2h0M537.6 90.3h0M535.3 89.8h0M473.7 121.2h0M500.7 90.5h0M521.9 89.4h0M511.7 89.6h0M481 97.6h0M536 90.6h0M525.6 90.4h0M477.6 99.3h0M498 91.2h0M499.8 90.6h0M520.6 89.9h0M482.7 97.8h0M525.5 91h0M537.4 91.1h0M533 90.7h0M480.9 98.1h0M517.6 90.6h0M488.9 97.3h0M499.5 90.5h0M535.8 90.8h0M514.9 89.9h0M519.4 89.9h0M478.8 97.8h0M518.7 90h0M475.1 113h0M517.4 89.4h0"/>
<path class="pg" d="M481 98.2h0M525.2 90.1h0M535.3 90.8h0M499.7 90.9h0M495.3 94.5h0M535.8 91.1h0M536.7 91.3h0M493.4 94.5h0M536.2 91.3h0M494.3 94h0M492.1 95.6h0M515.7 90.2h0M499.1 91.3h0M475.6 104.3h0M484.4 97.6h0M486.8 97.7h0M481.1 99h0M506.4 91.2h0M529.2 90.4h0M479 98.7h0M498.3 91.8h0M514.9 91.1h0M525.6 91h0M531.7 89.8h0M498 92.8h0M504.5 90h0M509.9 90.8h0M532.9 90.1h0M534.2 90.4h0M526.2 91.1h0M485.9 98.3h0M497.2 93.3h0M533.8 90.6h0M530 90.1h0M517.6 89.7h0M529.3 90.3h0M511.4 91h0M498.3 91.5h0M487.4 97.2h0M484.4 97.7h0M477 98.5h0M535.6 90.2h0M480.1 99.2h0M484.6 98.3h0M517.4 90.1h0M524.1 89.8h0M531.7 90.2h0M523.5 90.7h0M509.1 91.3h0M476.8 100.7h0M498.6 90.9h0M521.9 89.4h0M508 90.6h0M528.9 90.5h0M491.3 95.6h0M476 106.2h0M494.5 93.8h0M518.8 90.3h0M490.6 96.8h0M486.8 97.8h0M531.1 91h0M532.4 90.4h0M534.6 90.9h0M508.4 91.1h0M491.8 96.5h0M483.8 99h0M513.5 90.4h0M531.9 90h0M524.2 90.9h0M518.4 90.8h0M507.7 89.7h0M536.6 90.8h0M488.2 97.6h0M481.4 97.8h0M484.4 98.5h0M529.4 90.5h0M503.2 90h0M522.5 89.6h0M484.1 98.3h0M473.9 116.4h0M476.3 102.8h0M515.1 89.4h0M536.7 90.2h0M526.2 90.5h0M533.5 90.1h0M485.5 98h0M494.2 94.1h0M485.1 97.9h0M496.6 93.2h0M498.9 90.7h0M515.9 91h0M512.8 89.6h0M499.3 90.8h0M477.8 98.3h0M501.3 90.4h0M501.5 90.7h0M523.4 89.7h0M495.4 92.8h0M481.4 98.6h0M504.3 89.8h0M487.1 97h0M501.9 91.5h0M492.2 95.6h0M503.9 90.1h0M494.3 93.7h0M502 91.1h0M482.3 97.6h0M524.4 89.9h0M505.7 90.9h0M533.2 91h0M502.1 91h0M483 98h0M509.6 90.3h0M508.5 90.3h0M518.8 90.4h0M504.2 89.8h0M526 89.8h0M510.9 89.9h0M534 90.5h0M517.3 89.9h0M507.6 89.9h0M493.8 94.2h0M495.8 93.3h0M486.1 97.7h0M477 98.3h0M495.8 93h0M524.4 90.3h0M524 90.6h0M515 90.5h0M480.7 98.4h0M529.8 90.2h0M536.7 91h0M489.6 96.3h0M529.8 90.1h0M511.9 90.1h0M532.3 90.3h0M524.3 90.5h0M517.7 89.4h0M529.5 90h0M484.3 98.3h0M485.2 98.6h0M508.8 89.6h0M494.1 93.5h0M530.5 89.9h0M493.6 94.3h0M489.4 97h0M476.5 101.3h0M498.5 90.9h0M486 98h0M505.2 90.2h0M495.6 93.7h0M511.3 90.2h0M475.9 103.1h0M537 91.3h0M527.1 90.7h0M473.9 119.8h0M520.7 90.5h0M524.5 90.7h0M528.9 90.8h0M531.1 91.1h0M502.5 90.6h0M494.2 93.7h0M517.7 89.6h0M475.1 111.3h0M497.8 91.7h0M527 90.5h0M535.8 91.1h0M523.9 90.3h0M524.4 90.4h0M481.4 98.4h0M527.7 90.7h0M526.2 90.4h0M482.2 97.5h0M489.6 97.2h0M479.2 97.7h0"/>
<path class="pg" d="M529 90.5h0M500.5 90.4h0M533.5 90h0M516.7 90.5h0M481.4 97.7h0M537.2 90.2h0M494.4 94.5h0M485.9 98.5h0M494.2 95h0M508.6 89.8h0M497 93.1h0M474.1 117.6h0M531.9 91h0M478.1 99.1h0M485.6 98.1h0M535.4 90.8h0M505.2 91h0M537.2 89.8h0M511.8 89.8h0M490 97.2h0M519.7 90.5h0M530.1 90.3h0M534.2 90.7h0M509.4 90.5h0M481.3 98.8h0M520.9 90.1h0M511.4 89.9h0M520.7 90.7h0M510.4 91h0M509.3 90.7h0M491.7 96h0M486.7 97.8h0M502.2 90.4h0M503.1 90.9h0M507.6 90.4h0M481.8 98.2h0M535.4 90.6h0M510 90.7h0M530.1 89.9h0M514.1 89.8h0M475 107.8h0M532.6 90.8h0M516.6 90.5h0M534 90.4h0M532.4 90.3h0M533.9 90.6h0M489.9 96.8h0M520.9 89.4h0M517.5 90.6h0M485.1 98.2h0M496.3 93.1h0M513 90.7h0M494.8 93.4h0M500.4 90.8h0M495.3 94.5h0M506 90.7h0M501.3 90.4h0M525.1 90.8h0M482.3 98.6h0M496.3 93h0M475.5 106.8h0M526.4 90.5h0M505.1 90.8h0M525.8 91h0M495.3 93.2h0M488.4 97h0M477.7 99.4h0M479 98.6h0M505.1 91h0M511.9 90.6h0M517.4 89.5h0M530 90.3h0M512.8 90.1h0M495 94.4h0M505.3 90.2h0M479.9 98.3h0M485.1 98.8h0M510.1 90.3h0M479.8 98.7h0M477.6 98.5h0M533.1 91.1h0M482.3 98.1h0M506.4 90.6h0M489.5 95.8h0M483 97.7h0M505 90h0M479 99.3h0M482.1 99h0M480.7 97.6h0M527.4 90.9h0M492.6 94.8h0M495.6 92.7h0M522.9 89.4h0M532.8 90.7h0M481 98.5h0M479.8 98.6h0M521.3 90h0M484.8 97.7h0M483.5 97.9h0M503.8 90.2h0M503.6 90.7h0M522.2 90h0M510 90.2h0M482.2 98.3h0M481.9 97.6h0M511.7 90.5h0M511 89.8h0M481.1 98.6h0M493.3 94.7h0M479 98.1h0M488.5 97h0M479.5 98.6h0M530.8 89.7h0M531.5 90.8h0M525.2 89.8h0M521.1 89.5h0M479.7 98.5h0M488.4 96.5h0M502.8 91.3h0M493.2 94.6h0M495.1 93.3h0M501 90.8h0M537.4 91.1h0M490 96h0M532.5 90h0M475 113.3h0M506.9 91h0M495.4 93.6h0M474.5 111.1h0M483.7 98.6h0M476.6 99.6h0M505.8 91.3h0M496.6 93.1h0M475.8 102.5h0M499.4 91.5h0M504.5 91.1h0M528.8 90.1h0M517.6 90.7h0M504.4 89.9h0M501.7 89.9h0M517 90.2h0M482.5 99h0M533 90.6h0M517 90.8h0M475 106.1h0M502.5 91.4h0M538 90.6h0M508.3 91h0M535.6 91h0M506.7 91.2h0M485.7 98.4h0M480.6 98.2h0M503.7 90.9h0M484.7 98.8h0M504.4 91.1h0M531.6 91.1h0M536.4 90.4h0M536.7 90h0M510.6 90.7h0M528.4 90.5h0M506.7 90.5h0M537.3 91.2h0M475.9 104.6h0M480.7 98.6h0M507.9 91.3h0M478.6 98.9h0M477.1 98.5h0M498.4 90.8h0M504.3 91.3h0M513 89.9h0M473.7 116.2h0M474.7 109.4h0M536.5 90.6h0M518.2 89.9h0M497.9 91.5h0"/>
<circle class="mk" cx="501.4" cy="90.5" r="1.5"/>
<path class="ax" d="M37.5 148.86V196.06M37.0 195.56H108.0"/>
<text class="tk" x="32.2" y="156.16" text-anchor="end">0.8</text>
<text class="tk" x="32.2" y="175.26" text-anchor="end">0.6</text>
<text class="tk" x="32.2" y="194.36" text-anchor="end">0.4</text>
<path class="ax" d="M34.0 153.46H37.5M34.0 172.56H37.5M34.0 191.66H37.5M40.50 195.56v3M72.50 195.56v3M104.50 195.56v3"/>
<text class="ttl" transform="translate(18.60,172.21) rotate(-90)" text-anchor="middle">AUC</text>
<text class="ann" x="105.50" y="170.16" text-anchor="end" font-size="6.5">p-val: <tspan dy="0.7" stroke-width="0.12" fill="#222" stroke="#222">***</tspan></text>
<text class="ann" x="105.50" y="177.56" text-anchor="end" font-size="6.8"><tspan font-style="italic">R</tspan><tspan dx="0.5" dy="-2.6" font-size="5.2">2</tspan><tspan dy="2.6">: 0.82</tspan></text>
<rect class="lg" x="44.79" y="181.36" width="59.71" height="11.00"/>
<circle class="ldp" cx="53.59" cy="186.86" r="1.5"/>
<text class="ann" x="102.30" y="189.16" text-anchor="end" font-size="6.5">MobileNetV2</text>
<path class="cp" d="M44 155L105 154L105 161L44 162Z" style="fill-opacity:0.25"/>
<path class="pp" d="M96.6 165.4h0M64.2 158.8h0M80.2 159h0M93.7 163.8h0M63 157.6h0M97.3 160.7h0M75.2 152.2h0M46.6 153.6h0M50.5 158.2h0M47.4 171.9h0M95 160h0M45.2 163.1h0M65.5 153.7h0M45.8 170h0M88.3 161.2h0M77.4 160h0M92.9 157.6h0M49 159.4h0M66.8 159.6h0M95 158.5h0M46.6 163h0M60.3 156.3h0M84.2 156.1h0M57.2 154.6h0M78 156.6h0M87.6 159.1h0M54.1 167.3h0M51.1 159.3h0M46.5 177.9h0M72.4 162.9h0M48 158.4h0M69.4 160.8h0M75.8 165.5h0M94.3 160.5h0M76.8 157.2h0M98.4 157.4h0M85 158.4h0M48.4 160.8h0M81.2 158.9h0M89.4 163.2h0M54.2 158.7h0M98.3 160.1h0M95.6 160.4h0M52.5 157.2h0M57.7 156.5h0M91 158.7h0M70.5 153.3h0M65.6 166.5h0M53 155.7h0M65.4 160.5h0M90.6 155.2h0M74.7 162.3h0M75.9 163.3h0M87.8 156.9h0M55.4 161h0M98.8 158.8h0M65.8 164.8h0M64.3 157.7h0M86.6 164.2h0M73.7 160.1h0M59.4 158.3h0M71.7 158.5h0M74.2 156h0M65.5 159.1h0M44.3 171.2h0M67.8 159h0M72.3 163.8h0M91.9 159.3h0M75.1 161.6h0M79.6 158.5h0M45.9 156.5h0M62.6 156.4h0M46.6 165.8h0M97.5 165.8h0M84 164.6h0M70.1 156h0M40.6 185.6h0M82.4 156.7h0M46.6 163.8h0M45.4 166.2h0M69.4 163.5h0M97.3 158.8h0M41.3 172.6h0M59.9 161.7h0M79.3 151.9h0M89.4 160.7h0M90.7 157.7h0M65.8 161.4h0M54.6 154.3h0M75 158.7h0M77.8 155.7h0M99 153.9h0M45.5 164.3h0M92.9 158.8h0M82.4 161.2h0M73.4 158.6h0M45.7 158.5h0M93.4 159.8h0" style="stroke-width:2.5"/>
<path class="pp" d="M77.7 162.4h0M42.3 168.7h0M64.4 161h0M60.9 163.2h0M57.9 165.2h0M76.6 155h0M74.7 162.8h0M73.5 166h0M100.2 158.4h0M99.9 158.8h0M53.8 164.1h0M71.8 154.3h0M51.4 153.4h0M46.5 156.5h0M71.1 160.4h0M67.8 165.4h0M60.2 161.8h0M86.5 162.1h0M99.9 161h0M56.4 162.2h0M101.5 155.2h0M44.8 187.3h0M93.2 151.9h0M68.2 158h0M85.6 156.5h0M47.3 155h0M97.7 158.1h0M71.7 163.7h0M89.6 154h0M79.5 156.9h0M100.5 161.5h0M80.8 155.8h0M69.8 159.4h0M50.5 162h0M98.1 156.7h0M74.6 161.3h0M59.5 159.2h0M75.9 164h0M103.6 155h0M57.7 159.7h0M87.9 158.7h0M96.8 163.1h0M66.8 157.4h0M51 161.3h0M45.5 154.1h0M87.7 161.9h0M83.9 154.7h0M70.9 161.7h0M47.6 166h0M53 153.6h0M95.7 154.5h0M43.5 166.1h0M75.5 153.5h0M46.3 177.2h0M90.2 160.1h0M71.2 159.4h0M65.2 155.7h0M93.4 157.4h0M46 163.4h0M45.3 159.8h0M44.8 186.5h0M90.4 157.6h0M72.9 157.6h0M59.2 156.2h0M98 158.5h0M58.5 153.5h0M101.9 152.3h0M60.2 158h0M54.8 163.8h0M49.5 159h0M46.7 171h0M67.3 161.8h0M47.4 158.3h0M104.7 162.6h0M104.8 156h0M69.2 160.7h0M104.4 154.5h0M46.3 170.7h0M44.5 169.3h0M103.6 157.9h0M44.3 174.3h0M85.8 153.9h0M84.1 159.6h0M104.4 158.7h0M88.5 159.2h0M61.5 160.2h0M48.7 161.5h0M62.6 162.5h0M61.9 162.6h0M70.7 161.9h0M69.6 163.6h0M43.6 157h0M65 156.7h0M58 159.2h0M85.2 160.7h0M86.4 157.7h0M43.9 156.5h0M43.5 155.1h0" style="stroke-width:2.5"/>
<path class="pp" d="M97.1 156.4h0M94.6 164.2h0M74.2 154.9h0M58.8 165.7h0M89.9 160.4h0M99.6 164.4h0M62.5 156.5h0M62.5 166.7h0M92.2 159.5h0M55 156.7h0M45 180.4h0M43.2 187.6h0M98.8 151.9h0M83.1 158.2h0M64.3 154.4h0M70.8 163.9h0M56.8 157.4h0M77.2 163.7h0M94 155.7h0M46 157.6h0M73.9 167.8h0M84.9 159.2h0M72.9 159.8h0M97 158h0M72.1 159.2h0M76.1 157.1h0M78.5 159.6h0M76 161.4h0M82.6 161.5h0M51.2 153.9h0M47.4 161.8h0M103.1 161.7h0M59.7 159.7h0M86.8 160.8h0M98 164.9h0M77.7 159.6h0M42.7 180.7h0M56.1 154.3h0M94.1 161.4h0M64.7 156.8h0M59.9 160.8h0M95.4 156h0M64.3 167.1h0M69.7 166.6h0M50.1 159.4h0M53.4 162.8h0M58.5 165.3h0M86.6 156.3h0M60.5 158.4h0M63.7 155h0M73.4 166.6h0M43.6 183.6h0M96.7 160.6h0M54.1 157.5h0M93 157.6h0M48.8 158h0M101.8 159.3h0M53.2 155.8h0M67 159.2h0M59.6 160.9h0M83.3 161.9h0M65.7 158.6h0M42.1 172.9h0M57.1 168.4h0M50.3 153.5h0M53.6 157h0M53 157.1h0M64.7 162.3h0M56.7 155.3h0M81.7 162.5h0M83.2 154.1h0M55.6 152.7h0M43.5 159.1h0M95.7 153.2h0M78.1 159.2h0M48.7 157.1h0M55.1 160h0M47 155h0M102.6 161.8h0M44.3 156.6h0M62.1 161.8h0M91.2 153h0M79.2 159.4h0M74.4 162.6h0M70.2 153.1h0M87.7 160.5h0M46.7 160.3h0M86.6 156.6h0M88.1 152.4h0M58.9 156.6h0M76.7 154.3h0M55.2 152.4h0M92.9 164.4h0M93.5 156.3h0M71.9 158.5h0M62.4 156.2h0M88 159.7h0" style="stroke-width:2.5"/>
<path class="pp" d="M95.1 158.4h0M47.9 160.8h0M44.9 166.2h0M93.9 163.8h0M83.9 157h0M92.6 160.5h0M69.9 158.2h0M45.5 178h0M81.1 163.7h0M85.8 158.2h0M97.8 162.3h0M72.8 156.5h0M53.4 166.7h0M83.3 164.5h0M54 159.9h0M63.9 161.5h0M75 163.5h0M101.7 161.3h0M103.9 158.9h0M60.2 161.5h0M88.5 159.1h0M56.8 159.9h0M71.2 158.1h0M66.5 157.6h0M98.2 162.8h0M46.1 162.2h0M104.3 163.9h0M96.3 152.7h0M99.5 162.6h0M79.5 159.2h0M74.9 154.8h0M50.9 157.2h0M82.7 164.1h0M52 161h0M55.1 165.2h0M63.6 161h0M41.9 179.4h0M71.9 156.4h0M66.3 159.9h0M74.8 163.8h0M51.4 166.8h0M66.7 157.1h0M60.1 153.3h0M75.2 167.1h0M95 156.4h0M87.3 162h0M83.7 158.3h0M47.4 171.5h0M63.3 165.8h0M81.1 160.2h0M44.3 186.2h0M89.4 160h0M72.4 161.5h0M97 163h0M50 161.9h0M95.6 159.5h0M43.8 168.6h0M93.3 164.5h0M66.5 161.5h0M73.1 162.8h0M87.6 162.4h0M44.2 162.5h0M42.9 184.8h0M86.3 157.2h0M59.4 154.2h0M85.6 164.8h0M71.1 159.2h0M61.8 160.7h0M45.7 177.9h0M104 160.2h0M82.9 159.2h0M93.1 162.1h0M85.3 162h0M72.4 156.8h0M98.7 154.8h0M48.4 165.7h0M90.4 163.8h0M76 161.1h0M44.3 169.4h0M58.4 165.2h0M100.6 162.7h0M80 163.2h0M72.8 166.3h0M103 163.6h0M77.2 156.1h0M67.6 165.3h0M72.2 164.1h0M71.1 161.6h0M104.2 158.8h0M71.3 154.4h0M58.5 167.4h0M104.3 162.8h0M73.7 152.9h0M103.7 157.9h0M43.4 161.2h0M58.7 152.6h0M47.6 165.1h0" style="stroke-width:2.5"/>
<line class="rga" x1="40.5" y1="165.9" x2="104.5" y2="156.6"/>
<circle class="mk" cx="58.6" cy="155.0" r="1.5"/>
<path class="ax" d="M308.4 148.86V196.06M307.9 195.56H378.9"/>
<text class="tk" x="303.59999999999997" y="157.56" text-anchor="end">1.00</text>
<text class="tk" x="303.59999999999997" y="173.86" text-anchor="end">0.75</text>
<text class="tk" x="303.59999999999997" y="190.16" text-anchor="end">0.50</text>
<path class="ax" d="M304.9 154.46H308.4M304.9 170.76H308.4M304.9 187.06H308.4M311.40 195.56v3M343.40 195.56v3M375.40 195.56v3"/>
<text class="ttl" transform="translate(285.10,172.21) rotate(-90)" text-anchor="middle">AUC</text>
<text class="ann" x="376.40" y="170.16" text-anchor="end" font-size="6.5">p-val: <tspan dy="0.7" stroke-width="0.12" fill="#222" stroke="#222">***</tspan></text>
<text class="ann" x="376.40" y="177.56" text-anchor="end" font-size="6.8"><tspan font-style="italic">R</tspan><tspan dx="0.5" dy="-2.6" font-size="5.2">2</tspan><tspan dy="2.6">: 0.83</tspan></text>
<rect class="lg" x="315.69" y="181.36" width="59.71" height="11.00"/>
<circle class="ldg" cx="324.49" cy="186.86" r="1.5"/>
<text class="ann" x="373.20" y="189.16" text-anchor="end" font-size="6.5">MobileNetV2</text>
<line class="rgb" x1="311.5" y1="166.1" x2="375.5" y2="153.2"/>
<path class="cg" d="M316 155L345 154.4L377 153.6L377 158.2L345 159L316 159.5Z" style="fill-opacity:0.62"/>
<path class="pg" d="M369.2 157h0M364.2 157.8h0M329.2 155h0M366.3 157h0M320.3 156.6h0M370.2 156.7h0M355.5 158.9h0M367.1 159.4h0M340.3 155.6h0M332.2 158.6h0M352.4 157.2h0M338.3 158.2h0M344.7 156.8h0M354.4 156.9h0M361.7 158.5h0M329.8 157.1h0M342.4 156.5h0M370.6 159h0M328.1 157.5h0M326.1 157.8h0M357.8 155h0M326.4 159.5h0M328.4 158.2h0M348.7 155.9h0M363.8 155.8h0M312.5 186.8h0M314 165h0M323 159.1h0M344.5 157.9h0M348.3 158.4h0M340.1 159.2h0M328.6 161.2h0M363 157.9h0M363.3 156.7h0M312.8 186.5h0M320.3 157.5h0M340.7 157.1h0M369.5 156.6h0M372.7 154.9h0M327.4 156.7h0M370.4 156.8h0M321.7 158.7h0M319.3 159.5h0M359.5 155.6h0M367.9 156.2h0M371.9 162.5h0M368 154.2h0M373.7 157.3h0M350.7 158.2h0M339.3 159.4h0M346 157.3h0M330.6 156.3h0M336 159.6h0M322.7 159h0M371.7 162.5h0M332.4 158.7h0M349.7 158.4h0M334.7 156.9h0M357.4 155.6h0M318.9 159.1h0M365 156.3h0M366.7 156.3h0M375.2 157.6h0M376.5 158.7h0M312.5 186.8h0M375.4 157.7h0M376.9 155.9h0M335.7 161.7h0M348.3 156.3h0M322.7 158.6h0M362.7 159.7h0M320.1 157.7h0M330.7 159h0M358.3 158.8h0M326.4 156.6h0M338.8 155.8h0M334.6 158.3h0M358 156.4h0M321.9 155.4h0M336.1 159.1h0M361.1 156.7h0M315 157.9h0M322.3 156.7h0M363.7 157h0M337 160.4h0M359.4 157.4h0M348.7 154.9h0M345.9 155.5h0M344.5 156.1h0M349.9 156.3h0M336.8 158.7h0M336.4 159h0M370.7 156.1h0M373.6 154.4h0M363.1 155.9h0M376 158.5h0M319.2 159.7h0M315.7 157.3h0M358.8 159.5h0M374.3 157.9h0M317.8 160.1h0M319.6 159.8h0M338.7 156.1h0M361.3 160.2h0M326.4 158.7h0M358 156.2h0M325.1 166.8h0M337.1 157.5h0M334.8 156.8h0M338.9 161.6h0M320.1 157.4h0M355 155.3h0M343.3 159.5h0M355.4 156.6h0M355.7 161.5h0M368.7 157.4h0M328.1 160.7h0M318.3 159h0M349.8 165.7h0M334.7 161.2h0M363.6 154.7h0M318.4 156.9h0M329.2 158.9h0M348.3 162.1h0M370.9 157.2h0M366.5 155.4h0M321.6 164.2h0M337.7 158.4h0M330.3 159.7h0M346.3 156.1h0M370.5 159.8h0M338.7 159.4h0M351.8 159.6h0M366.1 156.8h0M349.9 157.3h0M340 157.1h0M358.6 165.6h0"/>
<path class="pg" d="M320 160.3h0M321 159.2h0M333.5 160.1h0M369.7 158.7h0M324.5 159.9h0M356.5 162.6h0M336.8 156.6h0M361.3 155.2h0M368 158.6h0M372.4 156.3h0M354.5 158.6h0M311.8 187h0M335.2 156.7h0M344.3 159.2h0M332.5 158.4h0M354.4 161h0M337.1 155.1h0M336.6 157.8h0M344.8 158.8h0M315.7 157.9h0M330 161.3h0M337.9 157.8h0M338.8 159.3h0M356.1 157.3h0M370.5 158.2h0M364.3 159.9h0M344.5 163.2h0M327.5 155.8h0M364.5 157h0M313.5 170h0M321.4 158.2h0M362.2 156.2h0M357.8 155h0M318.1 157.5h0M320.2 158.9h0M317.6 155.9h0M343.4 156.1h0M338.5 160.2h0M364.9 158.3h0M334.5 158.9h0M350.8 157.2h0M351.4 157h0M324.8 160.5h0M341.6 158.4h0M353.6 155h0M376.4 158.5h0M362.9 156.7h0M355.3 158.2h0M316.1 157.7h0M336.3 159.3h0M363.6 156h0M338.6 159.9h0M373.5 157.8h0M343.4 156h0M358 157.1h0M371.4 154.5h0M340.1 157.8h0M336.6 155.8h0M370.4 157.2h0M349.5 156.4h0M350.9 159.7h0M368.6 165h0M339.8 157.2h0M323.9 159.1h0M338.4 156.4h0M354.6 157.9h0M324.8 157.6h0M363.6 158.4h0M322.2 159.1h0M336.2 160.8h0M334.4 157.3h0M370.6 157.9h0M324.9 159.9h0M323.4 157.2h0M355.7 155.4h0M324.5 159.8h0M317.5 160.3h0M331.1 159.8h0M323.6 160h0M369.2 153.5h0M313.5 176h0M317.4 167.7h0M376.6 156.8h0M329.5 157.8h0M348.2 159h0M350.4 157.1h0M362.4 159.1h0M344.1 160.2h0M339.5 158.4h0M342.8 158h0M361.2 157.9h0M342.1 156.7h0M360.1 156.1h0M355.8 156.3h0M322.9 164.6h0M371.6 157.7h0M371.9 154.6h0M374.6 158.4h0M346.8 161.3h0M347.8 159h0M365.3 157.4h0M339.7 160h0M340.9 157.5h0M324.8 157.1h0M364.7 158.1h0M363.3 161.3h0M368.6 157.8h0M368.2 159h0M347 156.9h0M359.7 156.6h0M315.4 156.6h0M316 155h0M315.9 156.8h0M364.8 160.9h0M372.8 157.1h0M356.7 156.6h0M340.6 156.4h0M348.9 157.4h0M348.5 159.9h0M364.4 155h0M358.9 160.5h0M316.6 160.4h0M348.9 156.5h0M354.4 156.3h0M325.7 158.6h0M349.8 158.4h0M349.4 160.5h0M325.5 160.1h0M313.5 181h0M322.8 159.4h0M317.5 161h0M353.4 158.2h0M374 155.7h0M353 159.4h0M358.6 155.1h0M352.3 160.4h0M321.6 159h0"/>
<path class="pg" d="M327 156.4h0M338.2 158.6h0M336.2 161.6h0M326.3 157.4h0M376.2 159.1h0M312.8 186.5h0M331.5 160.3h0M363.1 155.3h0M351 158.3h0M322.2 158.8h0M338.3 155.2h0M315 162h0M319.9 160.2h0M337.9 162.4h0M362.8 155.7h0M330.3 159.7h0M312 188h0M347.5 157.3h0M360.9 157.8h0M311.8 187h0M342.1 157.1h0M356.8 156.8h0M374.8 155.4h0M370.3 156.1h0M354.2 158.2h0M351.5 154.2h0M356.6 158.7h0M359.4 156.8h0M367.2 156.1h0M334.8 159.7h0M325.3 157.3h0M332.6 157.4h0M317 155.4h0M358.7 157.7h0M326.4 155.9h0M334.9 159.1h0M342.6 158.2h0M331.6 157.7h0M370.6 155h0M367.6 155.7h0M319 159h0M372.9 157.7h0M326.8 159.8h0M370.7 159.6h0M374 156.1h0M357.4 157.5h0M344.4 155h0M338.3 158.4h0M342.9 158.1h0M375.1 158.7h0M346.5 165.2h0M358.5 154.7h0M359.9 158h0M371.8 159.1h0M325 156.9h0M327.3 156.2h0M334.7 158.8h0M371.8 161.1h0M349.6 157.4h0M315.6 157.7h0M339 159.5h0M373.1 155.4h0M352.3 157.6h0M365 156.2h0M368.8 156.6h0M342.1 162.1h0M354.5 154.1h0M352.5 156.3h0M332 158.2h0M351.2 157.2h0M335.3 160.6h0M355.5 156h0M372.3 156h0M345.1 157.8h0M340.9 159.7h0M374.1 157.9h0M325.5 160.6h0M375.9 155.4h0M318.6 160.5h0M331 160.2h0M372.1 158.1h0M330.5 156.3h0M312.3 187.5h0M329.4 160.3h0M362.5 158h0M353.3 158.1h0M347.1 155.5h0M351.9 156.8h0M347.6 157h0M320.6 158.3h0M321.3 161.8h0M345.9 159.6h0M312 188h0M340.2 159.2h0M354 160h0M346.4 161.1h0M320.7 156.2h0M346.7 160.4h0M351.6 158.6h0M331.3 157h0M316.3 158.7h0M348.3 159.3h0M339.4 159.1h0M353.6 157h0M364.6 159.9h0M374.4 156.7h0M364.3 155.9h0M361.3 158.4h0M360 155.4h0M375.6 160.1h0M320.4 161h0M331.1 159.8h0M361.3 155.6h0M342.2 154.6h0M362.3 155.2h0M325.1 157.8h0M331.3 157.8h0M375.1 155.2h0M367.6 156h0M352.8 158.2h0M316.4 158.6h0M333.4 164.9h0M335.8 157.2h0M364.5 156.9h0M340 156h0M365.2 159.3h0M316.7 158.5h0M351.3 157.9h0M370.3 159.4h0M370 156.4h0M364.5 158h0M367 156.7h0M377 158.3h0M377 159.4h0M340.9 158.3h0M324 158.1h0M355.8 156h0"/>
<path class="pg" d="M343.1 159.8h0M324 159.7h0M342.7 158.1h0M333.7 158.7h0M325.2 157h0M319.4 156.7h0M347 157.5h0M374.7 155.4h0M319 160.8h0M354.2 155.3h0M330 161.1h0M373.7 159.9h0M356.8 154.4h0M374.7 156.7h0M344.3 159.4h0M338.1 158h0M336.1 160.1h0M359.8 156.9h0M312.3 187.5h0M366.7 156.2h0M341.6 157.6h0M349.8 157.7h0M313 178h0M355.9 157.7h0M346.8 158.6h0M338.7 158.6h0M326.7 157h0M356.9 155.4h0M325.2 157.1h0M320.3 159.8h0M346.6 155.7h0M335.6 155.4h0M371.6 159.7h0M321.4 156.9h0M338.6 159.3h0M316.7 161.6h0M321.1 158.9h0M330.9 168.5h0M361.3 157.3h0M319.8 156.1h0M314.5 172h0M354.2 159.6h0M354.7 155.6h0M321.7 158.1h0M371.8 159.2h0M315.1 158.9h0M370.1 156.2h0M348.9 157.8h0M356 156.6h0M373.8 158.5h0M325.1 158.3h0M350.4 158.9h0M356.9 156.7h0M340.8 160h0M347.6 156.2h0M340.7 156.9h0M341.6 156.4h0M367.1 155.5h0M374.3 154.9h0M358.1 160.1h0M315.7 159.4h0M339 158.9h0M325.3 158.8h0M351.8 154.8h0M350.4 160.1h0M364.2 154.1h0M336.2 154.8h0M333 157.4h0M346.9 160.4h0M364.8 157.8h0M327.7 159.3h0M347.6 160.6h0M369.3 158.6h0M366.3 159.2h0M333.4 154.3h0M351.5 158.5h0M334.2 155.7h0M340.1 156.5h0M368 157.5h0M323.5 157.1h0M328.3 156.9h0M324.5 157.2h0M351.1 156.3h0M317.8 159.8h0M322.9 165.9h0M334.2 168.5h0M354.9 154.2h0M325.5 156.1h0M357.1 157.9h0M346.6 158.8h0M362.1 155.5h0M334.5 157.7h0M352 155.3h0M356.1 156.3h0M366.4 156.1h0M366.1 158.5h0M347.3 157.8h0M367.5 156h0M333.1 159.8h0M343 159.1h0M363.3 159.9h0M372.8 158.2h0M337.9 158.7h0M330.6 157.1h0M348.6 160.3h0M374.3 157.3h0M358.6 157.2h0M331.2 155.5h0M376.8 158.6h0M328.6 157.6h0M319.4 157.7h0M332.2 157.7h0M321.7 156.7h0M322.6 158.2h0M353.1 157.9h0M367.9 157.1h0M370.5 158.5h0M354.2 157.4h0M335.6 156.7h0M369.5 154.7h0M362.3 165.6h0M350.6 155.7h0M366.3 155h0M334.2 156.8h0M315.4 159h0M343 157.6h0M336.8 157.2h0M331.8 164.9h0M323.5 156.4h0M349.3 160.1h0M371.6 157.2h0M376.5 155.6h0M326.6 156h0M324.2 155.4h0M326.4 160.1h0M354.1 156.7h0M375.8 156.5h0"/>
<circle class="mk" cx="329.5" cy="158.6" r="1.5"/>
<path class="ax" d="M118.6 148.86V196.06M118.1 195.56H189.1"/>
<path class="ax" d="M115.1 153.46H118.6M115.1 172.56H118.6M115.1 191.66H118.6M121.60 195.56v3M153.60 195.56v3M185.60 195.56v3"/>
<text class="ann" x="186.60" y="170.16" text-anchor="end" font-size="6.5">p-val: <tspan dy="0.7" stroke-width="0.12" fill="#222" stroke="#222">***</tspan></text>
<text class="ann" x="186.60" y="177.56" text-anchor="end" font-size="6.8"><tspan font-style="italic">R</tspan><tspan dx="0.5" dy="-2.6" font-size="5.2">2</tspan><tspan dy="2.6">: 0.82</tspan></text>
<rect class="lg" x="134.20" y="181.36" width="51.40" height="11.00"/>
<circle class="ldp" cx="143.00" cy="186.86" r="1.5"/>
<text class="ann" x="183.40" y="189.16" text-anchor="end" font-size="6.5">ResNet18</text>
<path class="cp" d="M121.5 158.2L123 155.5L140 154.9L187 154.5L187 157.4L140 158.2L123 159.5L121.5 163.8Z"/>
<path class="pp" d="M134.2 157.6h0M155.5 157h0M177.4 155.6h0M159.5 157.7h0M123 157.5h0M177.9 156h0M131.5 155.1h0M162.2 156.9h0M139.8 155.5h0M156.6 156.7h0M149.8 156h0M137.8 156.7h0M121.5 157.7h0M180 156.6h0M121.6 160.4h0M126.6 155.5h0M179.1 156.5h0M155.3 157h0M121.6 159h0M147 156.7h0M185.9 156.3h0M158.5 154.7h0M133.4 156.7h0M159.8 156h0M130.2 159h0M172.2 157.1h0M170.6 157.3h0M126.7 158.9h0M138.1 156.9h0M136.4 156.3h0M168.2 157.7h0M157 155.5h0M159.6 156.8h0M137.7 157.7h0M157.1 156.1h0M136.3 157.4h0M156.3 157.1h0M184.2 155.5h0M135.6 157.2h0M183.6 155.7h0M126.4 154.9h0M161.1 157.5h0M155 154.6h0M159 155.9h0M140.5 158.5h0M184.8 157h0M166.9 155.9h0M156.4 155.1h0M176.2 155.9h0M134.1 155.2h0M186.5 154.3h0M135.3 158.9h0M173.7 157.9h0M138.1 158.1h0M141.5 155.9h0M173 156.5h0M164.7 157.2h0M123.7 154.9h0M129 155.2h0M130.5 156.1h0M173.1 154.6h0M153.1 156.6h0M127.7 159.4h0M186.1 155.4h0M152.1 156.7h0M126.9 156.1h0M154.9 157.8h0M143.3 157.4h0M126.3 159h0M125.4 157.9h0M164.6 155.7h0M131.8 156.4h0M126.9 157.2h0M139.8 156.3h0M142.4 156h0M156.1 157.1h0M185.1 155h0M137.2 158.5h0M175.9 154.7h0M158.2 155.2h0M127.6 156.2h0M122.3 161.8h0M150.1 156.4h0M138.5 156.1h0M128.9 159h0M126.7 159.8h0M126.2 155.9h0M159.5 157.2h0M124.5 158.4h0M152.4 155h0M173.6 156.6h0M182.6 155h0M144.7 157h0M160.8 156.6h0M152.5 154.9h0M181.9 155.3h0M180.8 156.8h0M152.9 156.1h0M143 155.7h0M166.9 155.4h0M169 155.4h0M178.7 155.7h0M135.7 158.7h0M139.3 155.8h0M139.4 157.3h0M148.3 154.6h0M180.2 156.3h0M171.5 156.5h0M153.6 154.4h0M132.5 158.8h0M170.4 156.1h0M121.5 156.9h0M145.6 157.9h0M129.7 157.8h0M136.2 158h0M160.2 157h0M165 157.4h0M170.2 156.9h0M183 155.2h0M139.9 158.1h0"/>
<path class="pp" d="M135.1 158.5h0M159.9 155.5h0M184.9 155h0M123.2 158.7h0M175.7 155h0M154.7 154.9h0M121.9 162.9h0M186.4 155.8h0M128.7 156h0M137 158.5h0M123.9 157.6h0M139 158.5h0M176.8 156.9h0M135 158.2h0M167.5 156.7h0M153.8 156.5h0M126 159.3h0M182.6 154.7h0M146.6 154.8h0M138.3 157.1h0M126.5 157.8h0M155.9 155h0M131.8 155.6h0M122.2 161.3h0M159.7 157.8h0M155.4 157.1h0M166.2 155.4h0M182.2 154.3h0M168.4 156h0M147.6 156.4h0M171.2 155.4h0M165.6 156.5h0M154.5 157.2h0M124.4 158.5h0M132.7 154.9h0M124.4 158.5h0M144.6 154.5h0M157.8 157.3h0M157.5 157.1h0M179.7 154.4h0M162.4 155.7h0M148.2 156.9h0M146.6 156.9h0M126.6 155.3h0M146.6 156.6h0M180 157.6h0M171.6 156.4h0M128 159.4h0M137.2 156.3h0M125.1 159.3h0M161.1 154.8h0M145 156.4h0M157.2 154.4h0M158.3 158.3h0M180 154.6h0M126.2 159.1h0M165.9 157.6h0M149.4 155.1h0M121.9 159.7h0M156.5 157.4h0M134 155.7h0M123 156.7h0M174 157.6h0M137.8 158.6h0M170.8 155.6h0M142.5 157.4h0M153.2 154.5h0M151.7 158h0M132.2 156.9h0M173.3 155.8h0M135.1 158.2h0M157.2 155.7h0M184.7 154.3h0M167 157h0M148.4 157.5h0M176.2 157.1h0M125.5 158.5h0M153.3 157.2h0M144.4 155.4h0M141.2 154.9h0M165.1 155.3h0M150.5 154.4h0M176 157.3h0M164.4 158h0M124.1 157.8h0M121.5 159.2h0M182.5 157.7h0M149.7 157.4h0M138 158h0M144.4 158.4h0M182.6 156.2h0M145.4 156.2h0M167.3 155h0M136.9 155.1h0M146.3 154.5h0M123.6 157.7h0M123.2 157.5h0M124.8 159.7h0M166.4 154.9h0M150.2 155.4h0M170.7 155.1h0M180.4 155.1h0M163.7 154.5h0M139.3 155.3h0M170.8 154.4h0M169.7 156.1h0M184.5 157h0M136.2 155.5h0M151 154.6h0M155 156h0M127.9 159.6h0M138.9 157.5h0M167.9 155.3h0M136.7 158.7h0M172.7 157.4h0M157.7 154.4h0M159.1 157.7h0M176.2 157.4h0M156.6 156.4h0M166.9 154.4h0"/>
<path class="pp" d="M143.4 157h0M182.7 156.6h0M161.2 157.2h0M163.2 154.8h0M132.1 154.8h0M144.1 155.2h0M130.1 155.2h0M125.2 157.3h0M151.8 155.7h0M173.8 154.9h0M146 157.3h0M150.8 155.4h0M146.8 158.3h0M182.7 156.9h0M122.8 160h0M152.1 156.3h0M176.2 155.1h0M158.8 155h0M163.4 157.5h0M146.3 157.5h0M173.1 156.8h0M153.3 155.4h0M181.8 155.9h0M145.8 155.6h0M171.5 155.6h0M185.5 155.9h0M169.6 155.8h0M158.4 155.2h0M163.1 154.8h0M166.9 156.2h0M173.3 155.3h0M144.2 156.5h0M179.1 157.1h0M129.2 159.3h0M123.2 158.1h0M163 154.6h0M174.8 156.9h0M130 158.3h0M125.6 157h0M132.9 157.1h0M129.7 157.5h0M173.3 154.7h0M131.7 158.5h0M130 157.2h0M135.1 157.4h0M122.1 156.4h0M156.8 155.7h0M126.5 158h0M149.7 154.5h0M159.1 156.8h0M125.9 157.3h0M168.2 154.8h0M169.6 156h0M137.4 154.9h0M158.7 155.9h0M175.5 157.7h0M148.8 155.1h0M164.6 156.6h0M176.1 155.1h0M141.8 155.2h0M173 155.7h0M181.4 156.4h0M143.7 155.5h0M181.2 157.5h0M137.6 156.9h0M138.8 155.5h0M177.7 155.3h0M127.7 156.6h0M171.9 156h0M175.9 155.1h0M123.1 156.7h0M145.5 158.4h0M155.6 155.6h0M135 159.1h0M158.4 157.5h0M157.9 156.2h0M161.2 155.8h0M180.1 155h0M152.9 157.7h0M127.9 155h0M173.1 154.8h0M136 155.6h0M178.3 154.4h0M178 157.3h0M167.1 157.8h0M169.2 155.3h0M168.8 155.9h0M151.8 155.1h0M160 154.9h0M168.1 154.9h0M163.5 155.6h0M177.7 154.5h0M184.2 157.4h0M157.2 156.1h0M181.8 156.8h0M170 157.2h0M173.9 155.9h0M143 157.8h0M159.6 155.9h0M156.6 156.2h0M164.2 157.9h0M184.1 156.8h0M145.8 154.5h0M151.4 155.3h0M139.5 154.5h0M182.5 157.5h0M148.2 154.4h0M179.3 155.3h0M185.2 154.7h0M183.6 157.7h0M159.1 155.2h0M127.6 154.7h0M128.8 155.4h0M126.1 155.8h0M181 155.6h0M138.6 156.2h0M155.2 155.8h0M155.9 157.8h0M173 155.6h0M166.2 154.8h0"/>
<path class="pp" d="M162.1 156.6h0M126.3 159.7h0M135.4 157.3h0M161.2 156.8h0M130.7 157.8h0M134.8 156.1h0M139.1 156.2h0M155.8 154.6h0M136.7 156.7h0M139.8 157.8h0M185.2 156.7h0M146.9 157.3h0M170 155.6h0M145.9 157.4h0M160 154.3h0M162.2 154.7h0M150.5 155.2h0M164.3 156.4h0M150.3 156.3h0M169.1 155.1h0M180.6 156.5h0M122.4 156.6h0M178 156.7h0M182.1 155.5h0M127.4 155.6h0M149.2 157.8h0M149 155h0M174 156.5h0M171.7 154.4h0M150.3 157.9h0M181.2 154.8h0M157 155.8h0M153.8 156.3h0M182.9 154.8h0M152 154.9h0M181.4 156.1h0M168.6 155.8h0M124.6 159.5h0M138.1 157.7h0M138.5 155.2h0M173.5 156.2h0M144.5 155.3h0M146.8 155.7h0M172.3 156.1h0M175.5 154.5h0M169.2 156.1h0M147.8 157.6h0M174 155.9h0M126 156.5h0M154.7 156.1h0M137.5 158.3h0M145 155.6h0M143.7 155.9h0M157.2 158.1h0M139.7 158.7h0M129.6 157.9h0M171.7 156.1h0M181.6 157.5h0M124.8 156.4h0M153 158h0M140.5 156.8h0M165.5 157h0M128.2 157.2h0M178.6 154.7h0M164.3 155.3h0M153.3 158.4h0M144.7 154.8h0M176.7 156.3h0M173.8 156.2h0M170.2 155.4h0M121.9 157.1h0M135.3 157.7h0M130.4 156.1h0M171 156.8h0M163.7 154.4h0M180.7 155.3h0M170.1 155.4h0M174.3 157.1h0M179.7 156.6h0M176.7 157.7h0M184.7 156h0M160.6 157.6h0M129.6 159h0M125.3 158h0M148.5 154.9h0M123.5 158h0M185 155.1h0M143.3 155.1h0M145.3 156.8h0M159.4 154.4h0M135.4 157h0M162.5 156.3h0M173.5 155.5h0M130.1 156.9h0M169 154.6h0M181.7 154.2h0M123.5 156h0M162 156.4h0M177.5 155.6h0M156.5 157.7h0M180.1 155.6h0M168.1 156.4h0M176.7 154.4h0M176.8 155.9h0M123.7 160h0M155.3 155.4h0M166.7 155.6h0M124.8 155.5h0M156.9 155.7h0M183.1 156.8h0M158.4 156.5h0M145.7 156.6h0M158.7 155.7h0M173.2 156.3h0M171.5 155.7h0M183.5 156.3h0M129.8 157h0M134.4 156.6h0M178.6 154.8h0M164.6 158.1h0"/>
<line class="rga" x1="121.5" y1="158.4" x2="185.5" y2="155.20000000000002"/>
<circle class="mk" cx="132.0" cy="155.0" r="1.5"/>
<path class="ax" d="M390.0 148.86V196.06M389.5 195.56H460.5"/>
<path class="ax" d="M386.5 154.46H390.0M386.5 170.76H390.0M386.5 187.06H390.0M393.00 195.56v3M425.00 195.56v3M457.00 195.56v3"/>
<text class="ann" x="458.00" y="170.16" text-anchor="end" font-size="6.5">p-val: <tspan dy="0.7" stroke-width="0.12" fill="#222" stroke="#222">***</tspan></text>
<text class="ann" x="458.00" y="177.56" text-anchor="end" font-size="6.8"><tspan font-style="italic">R</tspan><tspan dx="0.5" dy="-2.6" font-size="5.2">2</tspan><tspan dy="2.6">: 0.82</tspan></text>
<rect class="lg" x="405.60" y="181.36" width="51.40" height="11.00"/>
<circle class="ldg" cx="414.40" cy="186.86" r="1.5"/>
<text class="ann" x="454.80" y="189.16" text-anchor="end" font-size="6.5">ResNet18</text>
<line class="rgb" x1="392.5" y1="158.0" x2="456.5" y2="154.5"/>
<path class="cg" d="M395 155L458 154.5L458 156.9L395 157.3Z"/>
<path class="pg" d="M442.1 155h0M446.4 155.4h0M401 155.9h0M397.7 156.6h0M452 155.8h0M432.5 156.2h0M435.4 156h0M454.9 155.6h0M452.2 155.3h0M409.1 155.8h0M398.9 157.1h0M444.2 155.9h0M449.9 155.6h0M418.4 155.9h0M415.6 155.5h0M440.5 155.8h0M451 156.3h0M407.5 155.7h0M394 158.9h0M413.3 156.4h0M438.1 155.1h0M428.4 156.6h0M442.8 156.3h0M449.1 156.3h0M407.8 155.9h0M426 155.4h0M439.3 155.1h0M428.7 155.2h0M450.3 155.3h0M419.5 156.2h0M397.7 156.4h0M418.1 155.6h0M402.3 156.6h0M455 155.3h0M414 155.3h0M421.9 156.8h0M393.9 173.8h0M451 155.2h0M446.9 155.1h0M454.2 154.9h0M416.3 155.8h0M443.5 155.6h0M403.2 156.8h0M438.9 155.1h0M400.7 155.6h0M438.1 156h0M394.5 164.8h0M440.4 155.9h0M409.8 156.6h0M437.8 156.6h0M457.5 156.4h0M454.5 156h0M404.9 156.8h0M425.1 155.3h0M430 156.4h0M451.1 156h0M431.4 156.3h0M415.9 155.4h0M426.8 155.1h0M413.2 155.7h0M396 155.5h0M394.4 162.1h0M431.4 155.2h0M426.3 156.7h0M436.7 156.4h0M397.1 156.6h0M425.4 156.1h0M446.8 156.2h0M446.2 155.7h0M417.5 156h0M409.7 155.3h0M395.8 155.7h0M418.4 156.8h0M437.9 156h0M431.8 155h0M448.3 156.2h0M445.5 156h0M407.7 155.9h0M438.5 156.2h0M403.5 156.4h0M422.2 156.8h0M397.5 155.4h0M450.1 156.4h0M454.1 155.3h0M457.1 156.4h0M445.9 156.4h0M452.6 155.1h0M454.1 155.6h0M403.2 156.7h0M413.2 156.7h0M410 155.4h0M426.4 155.6h0M413.6 155.8h0M413.8 156.2h0M416.4 155.5h0M437.7 155.2h0M411.3 156.2h0M407.7 156.1h0M446 156h0M403.3 156.7h0M423.3 156.1h0M445.6 155.2h0M447.1 155.2h0M434.9 156.2h0M453.7 155.1h0M453.7 154.9h0M447.7 155.5h0M395.4 156.8h0M415.5 156.8h0M433.6 155.5h0M408.9 156.8h0M402.4 155.3h0M450.9 156h0M401.2 155.3h0M411.1 156.3h0M396.5 156.9h0M456.3 155.9h0M396.9 156.2h0M409 156h0M397.5 156.8h0M395.2 155.4h0M439 156h0M447.4 155.5h0M410.4 155.8h0M424.1 155.8h0M443.5 156.5h0M429.5 155h0M422.3 156.4h0M426.4 155.5h0M444 155h0M454.3 155h0M418 156.3h0M434.9 156.2h0M412.9 155.9h0M429.5 155.5h0M402.4 156.3h0M393.1 169.1h0M404.9 155.3h0M401.6 156.4h0M412.9 155.2h0M431.8 155.5h0M424.5 155.6h0M416.7 156.1h0M401 156.2h0M416.9 156h0M449.5 156.4h0M444.7 155.3h0M441.1 155h0M450.6 155.7h0M406.5 156.7h0M448.7 155.5h0M419.4 155.4h0M432 156.5h0M429.1 155.7h0M436.5 155.1h0M424.3 156h0M408.9 156.7h0M405.4 156.8h0M410.2 155.5h0M443.4 156.1h0M428.4 156.2h0M428.8 155.6h0M400 155.5h0"/>
<path class="pg" d="M457.9 155.8h0M455.8 155.9h0M399.7 156.7h0M397.4 155.8h0M400.1 156.9h0M452.7 155.6h0M402.1 155.3h0M423.4 156.2h0M435.2 156h0M438.1 156.2h0M431.7 155.5h0M397.4 157h0M428.8 156h0M410.5 156.5h0M455.5 155h0M440.2 155.4h0M426.5 156.5h0M432.8 155.1h0M393 167.5h0M397.6 156.7h0M408.7 156.9h0M435.2 156.1h0M453.8 156.2h0M402 156.5h0M397.9 156.4h0M433.7 155.1h0M447.8 156.3h0M449.6 155.2h0M426.6 156.6h0M442.2 156.4h0M457.6 155.6h0M423.2 155.7h0M407.2 156.4h0M400.4 155.6h0M430 155.8h0M425.9 156.7h0M404.4 156.9h0M427.5 155.8h0M455.4 154.9h0M453.4 155.2h0M439.1 156.1h0M425 155.9h0M431.7 156.4h0M404.1 156.6h0M448.9 154.9h0M399.7 156.3h0M408.2 155.4h0M399.6 156.5h0M441.8 156.5h0M417.3 156.2h0M447.5 156.3h0M410.6 156.9h0M447.7 155.3h0M427 156h0M420.2 156.9h0M413.6 155.3h0M455.6 156.1h0M443.3 155.7h0M397 155.5h0M402.6 156h0M428.8 156h0M409.8 156.7h0M438.9 155.6h0M405.4 156.3h0M453.2 155h0M423.4 155.5h0M432 155.1h0M451.7 155.2h0M450 156.2h0M455.5 155.9h0M420.1 155.4h0M425.9 156.1h0M426.6 156.2h0M414.3 155.2h0M417.6 156.7h0M447.5 155.1h0M405.3 156.9h0M394.2 169.9h0M415.5 155.9h0M454.6 155.6h0M438.4 155.1h0M448.7 156h0M394.2 164.5h0M415.8 156.4h0M410.8 156.8h0M421.2 155.3h0M420.7 156.3h0M427.4 155.4h0M432 156.7h0M395 155.9h0M401.4 155.3h0M452.9 155.7h0M438.3 156.5h0M432.9 155.1h0M402.7 155.5h0M457.2 155.9h0M411.3 155.5h0M408.2 156.8h0M421.4 155.9h0M425.1 156h0M424.5 156.1h0M428.1 155.1h0M427.9 155.5h0M447.2 155.4h0M392.5 164.4h0M419.9 155.7h0M426.8 155.9h0M441.9 156.2h0M413 156.6h0M426.9 155.9h0M445.9 156.4h0M423.1 156h0M401.7 156.9h0M454.4 155.3h0M393.6 160.9h0M417.2 156.9h0M406.3 155.9h0M457.5 156h0M400.9 156.1h0M450.4 155.1h0M402.1 156.5h0M430.9 156.2h0M430.2 156.1h0M407.6 156.6h0M438.2 155.6h0M394 169.6h0M448.7 155.3h0M456.9 155.4h0M404.1 157h0M396.1 156.2h0M400.1 156h0M451.2 155.4h0M398.3 156.4h0M408.3 156.4h0M412.5 155.5h0M444.5 155.7h0M425.6 156.4h0M422.1 156.7h0M428.8 156.4h0M414.5 156.9h0M452.1 155.8h0M428 155.2h0M457.5 155.2h0M406 157h0M446 156h0M408.6 156.4h0M434.1 156.5h0M413.3 156.1h0M418.5 156h0M450 154.9h0M407.1 156.7h0M395.6 156h0M425.5 156.3h0M434 156.5h0M436.4 156.4h0M438.6 155.4h0M408.8 156.8h0M427.5 156.5h0M453.7 156.4h0M420.6 155.9h0M418.2 155.4h0M432.8 155.1h0M434.7 155.9h0"/>
<path class="pg" d="M442.4 155.2h0M395 156.2h0M435.2 155.9h0M428.8 155.3h0M437.5 155.5h0M426.1 156.3h0M401.3 156.1h0M425.2 156.7h0M404.7 156.3h0M412.4 155.5h0M422.1 156.2h0M427.5 155.2h0M413.5 156.9h0M410.6 156.5h0M442 155.8h0M453.9 155h0M447.6 155.7h0M422.8 155.8h0M431.2 155.6h0M422.7 155.8h0M430.7 156.2h0M426.8 156.7h0M420.2 156h0M429.3 156h0M447.5 155.9h0M414.1 156.2h0M402.8 156.9h0M451.3 154.9h0M405.8 156.1h0M434.5 156.3h0M432.8 156h0M446.6 155.5h0M399.8 156.9h0M400.5 156.1h0M403.8 156.6h0M437.1 156.6h0M405.2 155.3h0M447.2 155.7h0M447.9 155.5h0M402.4 156.8h0M422.5 156.4h0M416.6 155.3h0M408.2 156.3h0M419 155.6h0M430.5 155.3h0M449.4 156.4h0M395.8 156.6h0M448 155.8h0M421.4 156.6h0M403.8 156.1h0M426.2 156.2h0M440.3 155.6h0M438.4 155.2h0M455 156h0M422.1 155.6h0M394.2 164.8h0M403.2 157.1h0M424.7 156.3h0M433 156.6h0M416.1 155.3h0M396.7 155.7h0M428.3 155.7h0M440.4 155.1h0M420.5 156.7h0M442.7 155.6h0M410.2 155.8h0M409.9 156.3h0M425.5 155.8h0M438.9 155.2h0M440.5 155.2h0M421.8 156h0M425.1 155.9h0M396.3 155.6h0M443.1 155.2h0M402.1 156.4h0M431.3 156.5h0M431.4 156.3h0M444.5 155.3h0M456.2 156h0M416.4 155.8h0M430.2 156.6h0M414.6 156.4h0M425.6 156h0M400 156.5h0M393.3 171.5h0M403.9 156.2h0M443.2 155.8h0M413.8 155.9h0M403.4 156.8h0M417.3 156.7h0M444.5 155.6h0M441.5 156.3h0M456.8 156.3h0M418.5 155.7h0M446.9 155h0M413.9 155.9h0M445.7 155.1h0M425.9 155.8h0M411.9 156.4h0M415.8 155.6h0M435.6 156h0M425.7 155.2h0M430.9 156.7h0M438.3 155.2h0M392.5 177.4h0M446.6 156.1h0M450.3 155.9h0M426.8 156.7h0M411.8 156.4h0M409.8 156.5h0M405 155.9h0M456.9 155.8h0M426.1 155.9h0M409.3 156h0M411.3 156h0M444.7 155.3h0M433.8 155.7h0M401.2 156.9h0M416.8 156.4h0M404.7 156.2h0M436.7 156.4h0M422.3 155.1h0M450.1 156h0M429.5 155.9h0M421 155.3h0M402.1 156.4h0M412.2 155.5h0M447.1 155.4h0M454.9 156h0M406.2 155.4h0M450.1 156.2h0M443.3 156h0M427.6 156h0M404.9 155.8h0M433.3 156.3h0M428.4 155.7h0M433.1 155.4h0M447.3 156.5h0M419.9 156.3h0M441.9 155.6h0M444.6 155.7h0M443.6 155.3h0M439.9 155.6h0M456.5 156.1h0M436.1 156.2h0M404.1 156.3h0M436.1 155.2h0M453.8 156.1h0M394.1 164.2h0M414.7 156.5h0M395.1 156.4h0M457.3 155.5h0M399.5 155.4h0M449.2 155.1h0M413.2 156.1h0M445.5 155.9h0M441.3 156.1h0M394.7 156.8h0M408.1 156.8h0M409.4 156.9h0M435 156.2h0M453.8 155.1h0"/>
<path class="pg" d="M421.7 155.8h0M412.4 156.2h0M413.5 155.3h0M453.7 155.7h0M457.8 155.7h0M404.4 156.6h0M436.2 156.1h0M429.9 155.3h0M403.9 156.8h0M417.3 156.3h0M442.3 155.2h0M407.5 155.3h0M432.5 155.5h0M423.6 156.3h0M425 155.7h0M399.6 156.7h0M419.3 156.7h0M404 156h0M427.1 156.4h0M395.9 157.1h0M441.3 156.5h0M438.1 155.9h0M438.9 155.1h0M430.5 155.4h0M410.4 156.2h0M423.4 155.8h0M409.2 156.4h0M422 155.2h0M429.2 155.5h0M418.1 155.7h0M447.2 155.5h0M439.1 156.2h0M439.3 156.4h0M424 156.2h0M433.3 155.8h0M445.9 155.3h0M437.7 155.2h0M396.6 156.2h0M412.9 156.2h0M456.9 155.2h0M423.2 155.8h0M394.9 158.1h0M409.5 156.2h0M448.5 156.1h0M404.1 155.5h0M396.5 156.8h0M410.2 155.6h0M433.9 156.3h0M401.8 156.7h0M427.2 156.4h0M418.3 155.7h0M440.7 156h0M450.8 156.2h0M436.3 156.1h0M433.8 156.6h0M453.5 156.3h0M455.9 154.9h0M435.1 156.1h0M399.7 156.5h0M455.9 154.9h0M394.6 162.1h0M426.5 156h0M427.6 156.6h0M399.6 156.9h0M416.1 156.8h0M414 155.9h0M418.2 156.6h0M424.3 155.4h0M428.2 156.4h0M441.9 155.2h0M426 155.8h0M434.7 156.1h0M413.9 155.4h0M410.9 156.9h0M426.3 156.1h0M417.9 155.8h0M438.4 156.1h0M448.8 155.2h0M438.5 155.2h0M452.6 156.4h0M441 156h0M417.8 155.4h0M424.7 155.4h0M443.6 155.5h0M399.4 155.8h0M423.1 155.8h0M433.9 155.1h0M453.5 155.6h0M449.6 154.9h0M403.6 155.7h0M416.3 155.3h0M434.7 155h0M441.8 156.1h0M451.8 155.5h0M407.1 155.4h0M426.1 155.1h0M444 154.9h0M436.6 155.6h0M456.6 154.9h0M396 155.8h0M425.6 155.6h0M439.6 156h0M436.7 156h0M447.7 156h0M406 155.4h0M414 155.2h0M451.9 155h0M438.4 155.6h0M394.6 161.9h0M411.2 155.3h0M428 156.3h0M426.1 155.6h0M427.7 156.2h0M457.8 155.4h0M405.6 156.9h0M402 157.1h0M426.2 155.9h0M426.1 155.5h0M430 156.1h0M452.6 156.4h0M440.8 156.3h0M456.8 155.1h0M424.8 156.3h0M396.6 155.4h0M405.7 155.3h0M427.1 155.5h0M443.2 155.7h0M438.3 156.3h0M429.5 156.5h0M432.6 156.2h0M440 155.7h0M406.6 156h0M438.9 155.8h0M444.2 155.4h0M451.6 156.3h0M449.6 156.1h0M413.5 156.3h0M408.3 155.5h0M447.3 155.3h0M419.9 155.5h0M440.6 156h0M437.5 156.4h0M453.8 155.6h0M406.6 156.8h0M438.2 155.6h0M399.6 157h0M450.9 155.8h0M451.3 156.1h0M423.4 156.2h0M426.1 156.5h0M445.8 155.7h0M414 156.3h0M456.6 155.2h0M449.1 155.3h0M401.7 156.7h0M442.9 155.1h0M421.3 155.2h0M412.8 156.7h0M411.5 156.2h0M407.7 155.6h0M412.7 156.2h0M395.2 155.8h0"/>
<circle class="mk" cx="403.1" cy="155.2" r="1.5"/>
<path class="ax" d="M199.9 148.86V196.06M199.4 195.56H270.4"/>
<path class="ax" d="M196.4 153.46H199.9M196.4 172.56H199.9M196.4 191.66H199.9M202.90 195.56v3M234.90 195.56v3M266.90 195.56v3"/>
<text class="ann" x="267.90" y="170.16" text-anchor="end" font-size="6.5">p-val: <tspan dy="0.7" stroke-width="0.12" fill="#222" stroke="#222">***</tspan></text>
<text class="ann" x="267.90" y="177.56" text-anchor="end" font-size="6.8"><tspan font-style="italic">R</tspan><tspan dx="0.5" dy="-2.6" font-size="5.2">2</tspan><tspan dy="2.6">: 0.82</tspan></text>
<rect class="lg" x="215.50" y="181.36" width="51.40" height="11.00"/>
<circle class="ldp" cx="224.30" cy="186.86" r="1.5"/>
<text class="ann" x="264.70" y="189.16" text-anchor="end" font-size="6.5">ResNet50</text>
<path class="cp" d="M202.5 164.5L205.5 164.1L206.5 155.1L230 154.7L268 154.3L268 156.6L230 157.4L206.5 157.9L205.5 166.9L202.5 167Z"/>
<path class="pp" d="M202.8 165.4h0M241.3 157.1h0M204.9 166h0M248.3 156.5h0M257.4 154.3h0M262.3 155.4h0M205.9 159.8h0M259 154.6h0M256.5 155h0M212.1 157.6h0M265.3 155.3h0M264.9 154.5h0M218.1 157.4h0M248 156.8h0M238.7 155.9h0M233.6 157h0M233 155.1h0M254.5 154.4h0M256.2 155.3h0M262 154.7h0M242 156.4h0M252.9 156.3h0M263.2 156.1h0M263.7 154.4h0M257.8 154.8h0M265.3 154.4h0M231.6 155h0M203.2 165.7h0M236 155.2h0M242.1 156.5h0M217.6 155.8h0M206.5 156.1h0M261.4 154.9h0M238.7 154.4h0M250.8 156.7h0M226.4 155.5h0M252.8 154.4h0M208.1 156.4h0M253.3 155.9h0M265.1 156.2h0M244.3 154.7h0M254.4 154.6h0M251.2 156.5h0M220.6 155.3h0M262.6 155.5h0M241.8 154.8h0M250 154.6h0M261 156.4h0M253.8 157h0M215.6 155.3h0M240.4 155.1h0M264.7 156.1h0M241.4 155.1h0M241.7 155.8h0M239.3 155h0M207.5 156.1h0M224.9 155.4h0M207.2 157.4h0M213.1 155h0M265.6 155.9h0M241.6 157.3h0M254.6 155.8h0M237.1 155.5h0M209.7 155.8h0M225.9 155.5h0M231.1 157h0M208 156.4h0M248.2 154.5h0M216.5 156.9h0M247.3 154.5h0M208 157h0M264.5 154.2h0M239.6 155.2h0M222.5 156h0M236 154.8h0M223.5 155.5h0M246.3 155.3h0M226.9 156.1h0M219 157.1h0M238.8 154.9h0M203.4 166.8h0M265.8 155.3h0M253.8 155.1h0M218.4 157.4h0M248.1 154.3h0M259.4 154.4h0M259.6 155.3h0M256.7 156.1h0M229.6 157.3h0M226.5 154.6h0M267 154.8h0M232.8 157.1h0M224.1 155.6h0M242.9 156.1h0M233.4 154.8h0M220.9 156.1h0M205.1 165.9h0M261.9 155h0M250.4 154.5h0M231.4 155.5h0M230.3 155.1h0M256.1 156.8h0M232.3 157.5h0M212.2 156.9h0M241.6 156.6h0M209.2 155.9h0M217.5 154.6h0M212.6 156h0M245.2 157.1h0M216.2 156.7h0M245.8 154.6h0M204.9 166.9h0M256.6 154.8h0M243.7 156.3h0M248.2 154.4h0M214.3 155.3h0M216 157.2h0M255.5 156.3h0M238 155.6h0M211.3 158h0"/>
<path class="pp" d="M257.2 155.4h0M208.4 155h0M230 154.9h0M235.1 156.2h0M207.6 157h0M239.9 156.2h0M225.9 155h0M260.5 156.1h0M212.5 156.2h0M223.4 157.1h0M256.4 155h0M233.7 156.7h0M210.6 156.4h0M243.7 156.9h0M240.9 157.1h0M249 154.4h0M260.5 154.4h0M216.2 155.2h0M222.6 154.6h0M239.2 156h0M264.3 156.3h0M253 157h0M225.4 157h0M230.4 156h0M261.6 155.7h0M241.6 155.4h0M249.8 155.3h0M223.3 156.5h0M255 156.8h0M242.7 154.9h0M255 156.5h0M243 155h0M217.3 155.6h0M242.5 155.8h0M221.7 157.3h0M227.9 155.6h0M214.7 156.9h0M237.2 156.9h0M226.8 156.4h0M262.8 156.6h0M255.9 156.4h0M215.7 157.4h0M228.2 155.2h0M211.5 157.8h0M209.8 155.4h0M219.4 157.7h0M253.8 155.6h0M249.5 156.3h0M253.5 156.7h0M259.3 155.4h0M255 154.3h0M234.9 154.6h0M225.8 157.2h0M204.1 164.8h0M246.9 155h0M262.4 154.9h0M257.1 155.1h0M262.6 156h0M236.1 155.1h0M213.8 158h0M206.7 157.5h0M266.2 155.7h0M208.7 156.1h0M243.5 154.9h0M246.6 156.9h0M260.7 155.6h0M251.4 156.6h0M229.1 156.8h0M258.6 156.5h0M222.6 157h0M205.3 164.2h0M205.3 164.3h0M249.7 155.4h0M214.1 155.6h0M203.2 166.4h0M246 156.1h0M260.9 156.2h0M217.3 154.6h0M247.2 156.9h0M232.6 155.9h0M254.1 156.8h0M254.1 155.2h0M230.4 155.6h0M255.1 155.4h0M265.2 156.5h0M243.4 154.6h0M246.1 155.9h0M205.8 163.7h0M236.8 157.3h0M248.5 156.4h0M259.2 155.6h0M235.2 155h0M252.4 155.9h0M209.5 156.2h0M248.4 154.9h0M253.4 155.5h0M261.5 154.9h0M238.3 156.9h0M245.7 155.7h0M214.3 156h0M243.6 154.6h0M245.1 156.2h0M219 157.7h0M236.3 155.9h0M205.8 162.4h0M258.2 154.4h0M253.9 155.8h0M252.7 155.2h0M224.2 155.8h0M233.3 156.8h0M215.4 156.7h0M265.1 156.3h0M260.6 155.9h0M247.1 154.8h0M256.3 156.2h0M255.8 155.1h0M240 154.9h0M232.1 155.2h0M230.4 154.8h0M262 155.1h0"/>
<path class="pp" d="M265.2 155.8h0M237.5 155.4h0M241.7 156.9h0M204.1 165.3h0M202.6 164.3h0M202.8 165.9h0M217.1 157.4h0M203.1 165.7h0M251.8 155.6h0M202.6 166.9h0M240 155.5h0M249.5 154.5h0M211.2 157h0M218 155.8h0M256.3 155.1h0M214.1 156.7h0M267.8 155.2h0M245.9 155h0M256.4 155.2h0M265.7 156.2h0M213.6 156.3h0M259.9 154.8h0M264.8 154.7h0M266.1 154.8h0M223.8 154.8h0M227.2 155h0M255.3 155h0M231 155.5h0M241.1 157.3h0M235.1 155.9h0M266.3 155.1h0M250.9 156.1h0M224.9 155.8h0M261.1 156.7h0M215.9 156.7h0M243.2 154.6h0M214.2 156.1h0M252.5 156.4h0M248.4 154.6h0M222.3 156h0M259.2 155.8h0M244.2 155.2h0M215.3 156.5h0M234.7 155h0M230.2 156.3h0M216.5 155.4h0M217.4 156.4h0M225.6 157h0M253.8 156.4h0M265 155h0M204.1 164.4h0M252.8 156.3h0M213.6 156.4h0M204.3 164.6h0M234.1 154.7h0M241.7 156h0M210.1 156.8h0M211.3 156.9h0M207.5 157.2h0M257.6 156.9h0M258 155.6h0M219.8 155.1h0M239.7 155.9h0M255.1 154.3h0M260.6 155.3h0M259.8 155.3h0M216.3 154.9h0M234.5 157.2h0M222.6 156.3h0M220.5 155h0M209.5 154.9h0M247.1 156.1h0M248 155.9h0M206.2 159.8h0M253.7 154.3h0M242.8 156.4h0M222.9 157.5h0M244.5 155.9h0M243 155.6h0M254.6 156.8h0M262.8 154.8h0M218.4 155.6h0M250.6 157.1h0M206.7 156.1h0M267 155.6h0M228.7 157.4h0M224.5 157.1h0M263.1 156.7h0M219.2 155.8h0M265.9 156h0M238.1 156.5h0M262.8 155.7h0M233.5 154.5h0M236.5 156.8h0M257.5 155.7h0M209.3 157.5h0M232.2 155.9h0M229.7 156.2h0M244.1 156.1h0M205.8 163.1h0M210 156.4h0M232.8 156.3h0M221.3 157.5h0M223.6 156.3h0M216.9 154.7h0M250.1 155.2h0M248.1 154.3h0M220.9 156.9h0M233 154.4h0M243 156.7h0M216.9 156.6h0M205.1 164.4h0M262 156.5h0M227.4 154.6h0M235.5 154.5h0M233 154.7h0M247 155.4h0M215.7 154.6h0M213.2 156.5h0M216.1 155.1h0"/>
<path class="pp" d="M221.9 157.1h0M267 156.1h0M215.3 156.5h0M229.6 154.8h0M249.4 156h0M249.4 156.8h0M266 154.3h0M267.8 154.8h0M252.6 156.6h0M243.9 155.8h0M243.9 156.6h0M210.9 156.7h0M240.6 156.9h0M208.2 156.2h0M222.3 155.1h0M229.9 155h0M223.1 155.5h0M218.1 156.4h0M237.8 156.5h0M220.8 154.8h0M254.2 154.9h0M234.7 157.5h0M224.3 156.6h0M228.7 155.8h0M228.8 155.2h0M240.9 157.4h0M245.4 156.2h0M228.3 155.7h0M218.1 157h0M243.9 154.4h0M211.6 157.2h0M216.7 154.8h0M243.3 156.8h0M248.1 155.5h0M219.3 157.5h0M204.3 166.1h0M208.3 155.6h0M245.4 155.6h0M227.2 156h0M242.3 157.3h0M253.2 154.9h0M210.2 155.2h0M213.9 155.9h0M209.7 156h0M238.7 155.1h0M205.1 165.8h0M215.2 157.6h0M213.5 156.7h0M258.3 155.7h0M204.5 165.6h0M266.4 155.5h0M234.2 157.3h0M205.3 164.3h0M255.7 156.2h0M209.7 157.2h0M263.9 155.1h0M249.1 155.3h0M261 156.1h0M224.3 156.5h0M206.9 158h0M219.5 156.8h0M265.3 155.1h0M260.4 156h0M223.7 154.5h0M202.8 165.9h0M220.3 157.3h0M208.5 155.1h0M236.9 155.5h0M243.3 155h0M234.2 156.7h0M224.8 156.8h0M266.4 154.2h0M253.2 154.5h0M261.3 154.3h0M207.8 157.6h0M226.5 155.8h0M202.5 165.5h0M203.3 164.9h0M259.8 156.4h0M240 156.8h0M217.4 157.6h0M261.8 156h0M222.6 156.2h0M213.4 155.7h0M222.2 156h0M251.4 156.4h0M226.1 155.3h0M235 156.5h0M210.7 156.6h0M236.2 157.5h0M217.1 155.9h0M207.7 156.8h0M239.2 155.4h0M251.9 156.4h0M209.8 156.3h0M226.4 154.8h0M243.5 155.7h0M258.6 155.1h0M207.2 155h0M242.6 154.4h0M266.7 154.7h0M237.6 155.1h0M210.7 155.7h0M215.3 156h0M255.3 156.4h0M254.1 155.5h0M231.3 155.2h0M245.8 156.5h0M247.6 156.2h0M223.9 155.1h0M224.8 156.3h0M256.9 156.9h0M254.8 156.6h0M203.3 167h0M248.5 154.5h0M218.4 156.3h0M231.5 156.4h0M248.8 155.1h0M212.8 157.8h0M239.3 157.4h0"/>
<line class="rga" x1="202.5" y1="157.0" x2="266.5" y2="154.9"/>
<circle class="mk" cx="213.6" cy="152.9" r="1.5"/>
<path class="ax" d="M471.5 148.86V196.06M471.0 195.56H542.0"/>
<path class="ax" d="M468.0 154.46H471.5M468.0 170.76H471.5M468.0 187.06H471.5M474.50 195.56v3M506.50 195.56v3M538.50 195.56v3"/>
<text class="ann" x="539.50" y="170.16" text-anchor="end" font-size="6.5">p-val: <tspan dy="0.7" stroke-width="0.12" fill="#222" stroke="#222">***</tspan></text>
<text class="ann" x="539.50" y="177.56" text-anchor="end" font-size="6.8"><tspan font-style="italic">R</tspan><tspan dx="0.5" dy="-2.6" font-size="5.2">2</tspan><tspan dy="2.6">: 0.82</tspan></text>
<rect class="lg" x="487.10" y="181.36" width="51.40" height="11.00"/>
<circle class="ldg" cx="495.90" cy="186.86" r="1.5"/>
<text class="ann" x="536.30" y="189.16" text-anchor="end" font-size="6.5">ResNet50</text>
<line class="rgb" x1="473.5" y1="161.1" x2="537.5" y2="151.8"/>
<path class="cg" d="M477.5 164L479 159.5L481 156.9L484 155.3L538 155L538 157.2L484 157.5L481 159.2L479 162.6L477.5 168.5Z"/>
<path class="pg" d="M526.5 156.1h0M527.3 156.6h0M503.8 155.5h0M496 155.7h0M492.2 157h0M526 155.6h0M501 156.3h0M536 156.8h0M517.2 156.9h0M530.1 156.6h0M529.2 156.6h0M524.3 155.4h0M506.7 155.8h0M493.1 155.8h0M519.8 155.7h0M485.9 157.1h0M479.3 161.5h0M510.8 156.6h0M523.1 156.5h0M477.2 165.4h0M481.9 157.6h0M484.9 156.6h0M497.4 156.3h0M504.9 155.5h0M493.9 156h0M537.2 156.2h0M492.6 155.9h0M486.2 157.1h0M509.1 156.8h0M489.1 156.6h0M476.6 168.5h0M496.3 156.7h0M495.9 156.8h0M510.5 155.7h0M516.3 156.5h0M485.1 157h0M501.7 156.1h0M522.8 155.7h0M523.8 156.5h0M495.2 156.9h0M509.3 156.6h0M514.3 156.5h0M521.4 156.6h0M530.4 155.6h0M487.8 157.1h0M492.3 156.1h0M487.4 156.3h0M486.3 156.6h0M477.1 170.7h0M520.2 156.8h0M514.4 156.3h0M500.9 156.2h0M506.1 156.5h0M513.7 156.4h0M502.7 156.6h0M535.6 155.7h0M525.4 156.5h0M533.5 156.2h0M516.6 156.4h0M523 156.9h0M497.7 155.9h0M522.7 155.8h0M491.2 156h0M512.4 156.6h0M492.8 156.1h0M503.4 156.4h0M491.6 156.4h0M506.9 155.9h0M529 155.6h0M538 156.5h0M483.8 156.2h0M486.7 156.4h0M526.3 155.9h0M488.8 155.8h0M479.8 160.9h0M507.7 155.8h0M520.2 155.7h0M490.4 156.1h0M493.4 156.2h0M494 156.1h0M531.8 155.8h0M507.5 155.8h0M508 155.7h0M525.4 156.7h0M474.8 181.9h0M516.3 156.7h0M488.6 156.7h0M497.5 155.8h0M520.5 155.5h0M483.3 157.2h0M527.8 155.8h0M520.1 155.9h0M476.2 171.4h0M530.9 155.5h0M476 171.3h0M512.7 156.5h0M534.5 155.2h0M508.6 155.8h0M535.2 156.4h0M519.5 156.7h0M510.3 156.3h0M522.8 156.5h0M535.8 155.7h0M512.1 156.8h0M492.6 156.8h0M483 157.7h0M531 156.7h0M512.3 156.9h0M526.9 155.4h0M530.6 156.5h0M511.9 156h0M491.2 155.6h0M534.3 155.4h0M497.3 155.5h0M481.5 157.5h0M481.1 158.2h0M525.2 155.9h0M485.5 156.4h0M518 155.6h0M500.1 155.7h0M527.1 155.5h0M508 156.1h0M535.4 156.2h0M519.8 155.5h0M508.1 156.4h0M529.1 156.7h0M532.6 155.5h0M525.9 155.9h0M520.4 156.6h0M512.1 156.1h0M522.8 156.1h0M535.2 156.3h0M512.5 155.7h0M511 155.7h0M480.6 159h0M483.3 156h0M487.8 156.6h0M531.5 156.1h0M519.8 156.8h0M521.3 156.2h0M496.9 155.7h0M502.4 156.5h0M476 174.4h0M531.4 156.4h0M501.6 157h0M507.4 156.7h0M530.3 155.3h0M500.1 155.8h0M480.6 158.3h0M487.9 155.7h0M513.6 155.4h0M481.8 157.5h0M534.1 156.4h0M498.6 155.7h0M485.7 157.1h0M499.3 156.3h0M510.9 156.9h0M496.8 157h0M475.8 177h0M497 157h0M481.9 157.6h0M488.9 156.6h0M480 159.3h0M492.9 156.6h0"/>
<path class="pg" d="M498.1 156.2h0M526.9 155.6h0M487.5 155.8h0M490.9 156.3h0M515.9 156.6h0M522.3 155.5h0M516.5 155.7h0M486.3 156.8h0M485.2 156.4h0M481.9 157.9h0M491.3 156.4h0M477.8 164.3h0M531.1 156.4h0M533.8 156.3h0M528.1 156.6h0M510.6 156.3h0M490.9 156.1h0M492.1 156.3h0M502.1 156.5h0M490.8 156.2h0M525.9 156h0M475.8 172.9h0M481.6 157.7h0M476 176.6h0M478.9 160.3h0M508.5 156.5h0M490.9 155.7h0M520.6 156.8h0M520 155.9h0M510.4 156.4h0M532.3 156.8h0M487.1 156.2h0M528.9 156.5h0M504.3 156.5h0M498.2 155.9h0M479.9 158.6h0M525.4 155.5h0M498.1 157h0M487 156.9h0M528.3 155.8h0M536 156.5h0M479.1 161.3h0M502.7 157h0M491.5 156.7h0M503.9 155.9h0M492.9 156.4h0M533.3 155.6h0M495.4 156.2h0M474.7 182.5h0M484.4 155.7h0M518 155.5h0M529 156.8h0M474.4 184h0M527 156h0M525.1 155.6h0M522.3 156.3h0M493.2 156.8h0M495.9 156.4h0M508.7 156h0M486.5 156.1h0M505.1 156.1h0M498 156.5h0M505.3 155.6h0M503.6 155.9h0M529.1 155.7h0M518.9 156h0M537.8 155.4h0M480.6 158.1h0M478.4 163.2h0M476.9 168.7h0M507.6 156.4h0M517 156.7h0M515.9 156.4h0M530 156.3h0M512.9 155.5h0M531.3 155.8h0M518 156h0M480.5 159.5h0M487.9 156.5h0M506.8 156.4h0M510.8 156.9h0M496 156h0M517.7 156.5h0M498.5 156.3h0M518.4 155.9h0M507.4 156.9h0M535.3 155.5h0M527.9 155.3h0M530 156.2h0M515.3 156.1h0M528.5 156.6h0M520.8 156.3h0M506.1 156.1h0M518.7 156.8h0M531.6 156.4h0M528.1 155.4h0M528 156.2h0M509.2 156.7h0M477.2 166.8h0M499.2 156.4h0M519.3 156.7h0M486.8 155.8h0M529.1 155.8h0M510.4 156.1h0M499.2 157.1h0M518.5 155.4h0M511.9 156.7h0M516.8 156.6h0M503.7 156.5h0M492.2 156.5h0M511.4 155.7h0M481.4 158.4h0M481.7 156.8h0M489 155.9h0M509.6 156.5h0M500.4 156.2h0M516.1 155.8h0M530 156.7h0M508.7 156.3h0M486.6 156.3h0M519.2 155.7h0M507.6 155.9h0M480.7 158.9h0M501.5 156.2h0M522.4 155.9h0M498.8 156h0M514.5 156.9h0M527.9 156.8h0M495.3 156.7h0M492.9 156.8h0M480.3 159h0M537.1 156.2h0M526 156.5h0M525.9 156.5h0M532.1 156.2h0M513 156.9h0M501.5 155.6h0M520.1 155.7h0M515.3 156.8h0M514.2 155.8h0M523.2 156h0M528.1 156h0M526.3 156.7h0M513.2 156.4h0M508.7 155.8h0M482.4 156.6h0M479 161.6h0M520 156.6h0M519.2 156.8h0M535.4 155.3h0M476.7 169.3h0M477.4 168.4h0M488 157h0M475.7 173.1h0M534.4 156.6h0M515.9 155.8h0M530.2 155.8h0M506.1 157h0M513.9 155.7h0M519.8 155.9h0M510.2 156.6h0M516.5 156.9h0M527 156.8h0M500.1 156.4h0"/>
<path class="pg" d="M497.8 155.9h0M482.2 156.5h0M489.7 155.7h0M482.1 157.4h0M493.3 155.8h0M499 155.7h0M534.7 156.2h0M484.5 156.2h0M502.9 157h0M529.5 155.3h0M484.7 157.1h0M477.1 167h0M481.7 156.7h0M526.4 156.4h0M479.7 160.9h0M480.1 160.4h0M485.3 156.3h0M495 155.5h0M513.5 156h0M529.1 155.7h0M488.4 156.3h0M536.4 156.3h0M535.2 156.6h0M513.6 156.3h0M491.7 156.6h0M528.4 156.2h0M476.6 169h0M530.1 156.5h0M518.3 156h0M492.9 157h0M517.1 156.9h0M490.7 156.9h0M526.2 156.9h0M490.3 156.3h0M508.8 155.5h0M478.7 162.2h0M519.1 155.7h0M477.8 166.4h0M475.3 179.1h0M500.9 156.3h0M503.7 156.7h0M526.9 156.4h0M532.8 155.4h0M488.5 155.9h0M520.2 155.7h0M522.2 155.9h0M480.9 158.2h0M477.9 167.2h0M503.6 156.6h0M479.9 160.8h0M491.8 156.9h0M482.7 157.4h0M509.5 156h0M514.1 155.9h0M517.5 155.5h0M506.6 155.6h0M489.2 155.6h0M474.5 183h0M524.5 155.7h0M538 156.5h0M504.8 155.5h0M501.2 156.6h0M488 156.5h0M476.9 168.6h0M528.8 155.9h0M480.4 157.8h0M486.4 155.7h0M495.2 156.4h0M524.1 155.5h0M501.3 156.3h0M526.2 155.5h0M533.5 156.6h0M504.2 156.6h0M515.1 156.9h0M501.1 156.4h0M489.9 156.6h0M489.3 156.8h0M483.7 156.4h0M488 155.8h0M477.2 169.6h0M485.1 156.6h0M488.8 155.6h0M505.1 156.4h0M487.1 156.1h0M508.1 156.3h0M522.2 155.5h0M501.4 155.7h0M494.2 155.7h0M477.3 168.8h0M499.6 156.7h0M501.1 156.4h0M528.4 155.9h0M517.2 155.9h0M483.8 156.1h0M477 169.1h0M489.6 157h0M494.6 156.8h0M506.4 156.2h0M532 156.3h0M523.4 156h0M509.8 156.7h0M525.4 155.5h0M478.7 163.2h0M530.7 156.3h0M476 172.8h0M509.3 157h0M508.1 156.1h0M491.8 155.6h0M503.8 155.9h0M526.2 156.7h0M509.3 157h0M484 157h0M500.1 156.1h0M493.7 156.2h0M475.1 179.6h0M503.2 156.3h0M533.7 156.3h0M490.1 155.8h0M500.2 156.9h0M496.9 156.9h0M502 157h0M514.7 155.6h0M525.7 155.7h0M492.8 156.9h0M483.9 155.6h0M481.6 157h0M512.7 155.9h0M482.8 157.8h0M522.5 156.4h0M482.6 157.7h0M514.8 156h0M503.3 156.8h0M535.4 156.6h0M523.1 156.1h0M518.7 155.7h0M492.5 156.3h0M529.4 156.7h0M506.5 155.9h0M478.3 162.3h0M477.5 165.9h0M529.1 156.3h0M504.3 156.2h0M520.2 155.4h0M528.1 156.9h0M527.6 156h0M505.5 156.7h0M496.7 156.8h0M531.1 155.9h0M486.3 156.9h0M523.4 156.1h0M485.1 156.8h0M477.5 168.8h0M506 155.5h0M508.9 156.4h0M527.9 156h0M531.3 155.8h0M533 155.3h0M508.7 156h0M536.8 155.4h0M511.4 155.5h0M523.4 156.1h0M491.6 155.7h0M481.4 158.5h0"/>
<path class="pg" d="M518.1 155.7h0M494.4 155.7h0M491.9 156.8h0M505.2 156.7h0M515.2 155.8h0M518.9 156.3h0M520.5 155.9h0M529.4 155.5h0M530.2 156.4h0M486.3 156.6h0M537.9 156.6h0M502 157h0M497 157.1h0M520.8 155.4h0M500.2 156.1h0M509.4 156.9h0M514.5 156.9h0M507.9 155.5h0M526 155.5h0M512.9 155.4h0M494.4 156.1h0M525 155.8h0M533.6 156.1h0M523.2 155.6h0M475.9 174.3h0M508.4 156h0M507.4 156.1h0M513.2 156.8h0M522.5 155.4h0M526.7 155.8h0M513.4 156.9h0M497.8 155.7h0M507.2 156.4h0M512.4 156.6h0M490.6 156.1h0M481.1 157.4h0M509.7 156.5h0M492.2 156.1h0M495.9 155.9h0M515.1 156h0M480.8 159h0M492 155.9h0M531.7 156.7h0M490.1 156.2h0M516.5 155.4h0M509.1 155.8h0M520.7 156.8h0M505.1 156h0M488 156h0M517.7 155.6h0M507.8 156.7h0M481.6 158.3h0M518.8 156.2h0M535.3 155.4h0M491.6 156.7h0M481.6 157.5h0M497.7 155.9h0M527.3 155.5h0M533 155.7h0M486.2 157.1h0M516.5 156.2h0M503 156.3h0M522.8 156.2h0M507.3 156.5h0M488.1 155.7h0M532.8 156.8h0M486 157.1h0M488.5 157h0M511.5 156h0M494.5 157.1h0M529.8 156.3h0M529.7 156.9h0M480.8 158.1h0M536.7 156.2h0M478.6 164h0M480.8 157.5h0M518.9 156.6h0M474.7 181.7h0M489.4 156.2h0M483.1 157.6h0M497.3 156.9h0M492.2 155.9h0M525.6 156.7h0M492.5 156.3h0M478.6 163.1h0M507.7 155.5h0M513.9 155.5h0M500.5 156.7h0M525.8 155.9h0M493.3 155.6h0M482.6 156.5h0M524.2 156.6h0M477.1 165.8h0M513.5 155.8h0M484.9 156.8h0M492.5 156.5h0M484.6 155.9h0M528.6 155.9h0M531.9 155.8h0M537.5 155.8h0M489 155.8h0M477.6 164.3h0M515.4 156h0M532.5 156.6h0M482.1 157.5h0M533.9 155.3h0M480.6 158.3h0M516 156.5h0M526.2 156.1h0M529.1 156.5h0M530.2 156.6h0M506.2 156.5h0M478.6 161.9h0M484.1 156.1h0M474.6 183.5h0M534.3 155.4h0M510.6 156.4h0M538 156h0M512.7 156.2h0M480.3 158h0M534.7 156.6h0M496.3 155.6h0M508.6 155.7h0M495.8 156.9h0M490.2 155.6h0M487.3 156.1h0M476.3 170.4h0M503.7 155.8h0M503.4 156.3h0M497.6 156.8h0M479.4 161.6h0M476.9 171h0M487.7 156.8h0M515.6 155.8h0M518.6 156.4h0M521.3 155.6h0M486.3 155.6h0M523.7 155.5h0M514.8 156.3h0M505.4 155.5h0M529.3 156h0M503 156.6h0M493.5 156.6h0M492.6 156.4h0M485.4 156.4h0M477.3 166.5h0M507.4 155.5h0M502.6 157h0M499.4 156.4h0M478.2 166.1h0M478.5 164.1h0M484.4 157.1h0M486.8 156.6h0M518 155.9h0M518.1 156.3h0M504.4 156h0M525.4 155.9h0M498.4 155.8h0M531.6 156.5h0M493.4 155.6h0M489 157.1h0M532.8 156.6h0M502.9 156h0"/>
<circle class="mk" cx="485.0" cy="155.2" r="1.5"/>
<path class="ax" d="M37.5 213.89V261.09M37.0 260.59H108.0"/>
<text class="tk" x="32.2" y="221.19" text-anchor="end">0.8</text>
<text class="tk" x="32.2" y="240.29" text-anchor="end">0.6</text>
<text class="tk" x="32.2" y="259.39" text-anchor="end">0.4</text>
<text class="tk" x="40.50" y="271.09" text-anchor="middle">0</text>
<text class="tk" x="72.50" y="271.09" text-anchor="middle">200</text>
<text class="tk" x="104.50" y="271.09" text-anchor="middle">400</text>
<path class="ax" d="M34.0 218.49H37.5M34.0 237.59H37.5M34.0 256.69H37.5M40.50 260.59000000000003v3M72.50 260.59000000000003v3M104.50 260.59000000000003v3"/>
<text class="ttl" x="72.50" y="282.19" text-anchor="middle">Epoch</text>
<text class="ttl" transform="translate(18.60,237.24) rotate(-90)" text-anchor="middle">AUC</text>
<text class="ann" x="105.50" y="235.19" text-anchor="end" font-size="6.5">p-val: <tspan dy="0.7" stroke-width="0.12" fill="#222" stroke="#222">***</tspan></text>
<text class="ann" x="105.50" y="242.59" text-anchor="end" font-size="6.8"><tspan font-style="italic">R</tspan><tspan dx="0.5" dy="-2.6" font-size="5.2">2</tspan><tspan dy="2.6">: 0.82</tspan></text>
<rect class="lg" x="67.92" y="246.39" width="36.58" height="11.00"/>
<circle class="ldp" cx="76.72" cy="251.89" r="1.5"/>
<text class="ann" x="102.30" y="254.19" text-anchor="end" font-size="6.5">RNN</text>
<path class="cp" d="M40.5 225.5L42 223.3L44 221L47 219.3L105 219.1L105 221.1L47 221.3L44 223.5L42 226.7L40.5 229.5Z"/>
<path class="pp" d="M63.9 220.2h0M65.6 219.4h0M66.7 220.8h0M65.7 219.4h0M40.7 227h0M97.9 219.3h0M88.9 220.9h0M97.8 221h0M49.4 220.9h0M44.6 221.8h0M84.8 221.1h0M60.7 221h0M63.6 220.6h0M49.5 219.4h0M85.2 219.3h0M99.7 220.1h0M47.8 220.3h0M68.5 221h0M84.2 220.1h0M72.6 221h0M104 220.2h0M96.4 219.9h0M85.3 219.3h0M102.4 219.4h0M43.3 224.1h0M54.1 219.8h0M67.2 220.6h0M47.2 220.1h0M100.9 220.1h0M53.6 219.6h0M46.8 220.1h0M71.3 220.7h0M60.4 220.9h0M92.3 220h0M105 220.8h0M68.8 220.5h0M97.8 220.4h0M62.6 221.1h0M66 219.3h0M72.5 219.6h0M41.1 228.1h0M98.9 219.5h0M76.3 219.4h0M48.3 219.7h0M86.6 219.6h0M43.6 222.9h0M49.2 220.3h0M58.1 220.3h0M70.6 219.6h0M48.5 219.6h0M88 219.3h0M80 220h0M103 219.5h0M99.3 219.5h0M76.6 220h0M66.1 220h0M76.7 220.6h0M78.8 220.9h0M47.8 220.7h0M90.1 219.7h0M66.9 220.5h0M43.6 223.1h0M42.1 225.6h0M51.3 221.1h0M93.9 220.6h0M64.1 219.9h0M73.4 220h0M99.4 221h0M81.8 220.9h0M47.8 220.3h0M51 220.6h0M48.2 219.7h0M89.6 219.7h0M70.3 220.2h0M47.3 220.1h0M104 219.5h0M51.7 220.9h0M81.9 219.8h0M73.9 220.3h0M55.7 220.5h0M84.3 220.8h0M54.2 221h0M60.5 220.5h0M53.3 219.6h0M77.4 220.2h0M75.9 220.2h0M80.1 220.4h0M82.8 220.8h0M51.7 220.6h0M46.8 220.3h0M80.6 220.8h0M79.1 221h0M71.2 220.8h0M90.3 219.5h0M45.1 221h0M72.3 219.8h0M65.1 219.5h0M40.6 227.6h0M103.7 219.3h0M92.9 219.4h0M95.4 219.7h0M86 219.6h0M102.4 220.4h0M82 220.3h0M71.4 220.4h0M62.5 220h0M56.8 219.6h0M93 224h0M41.6 225.8h0M82.1 219.7h0M67.3 220.9h0M75.7 221.1h0M92.5 219.7h0M96.4 219.3h0M90.4 219.6h0M44.6 220.6h0"/>
<path class="pp" d="M52.5 220.4h0M76.5 221h0M73.8 219.5h0M50.6 219.5h0M99 220.4h0M82.4 220.1h0M104.2 219.5h0M75.6 220.2h0M104.1 219.9h0M104.9 220.5h0M94.5 220.9h0M64.4 220.9h0M57.8 219.9h0M95.9 219.5h0M87.8 219.3h0M94.7 219.5h0M75.9 220.4h0M87 220.9h0M103.3 220.6h0M70 219.5h0M81.9 221.1h0M76 220.7h0M65.6 220.7h0M94.7 220.4h0M70.3 220.1h0M59.9 219.4h0M98.8 219.9h0M44.3 221.8h0M42.6 224.3h0M77.8 220.1h0M102.9 219.3h0M70.9 219.4h0M91.6 219.3h0M55.2 219.7h0M86.3 219.3h0M70.1 219.5h0M79.9 220h0M78 219.3h0M83.3 219.4h0M40.9 225.2h0M89.8 220.4h0M86.8 219.5h0M69.6 220.2h0M46.7 220.2h0M57 220.2h0M66.2 219.6h0M61.1 220.4h0M66.2 219.6h0M86.6 219.6h0M62.3 220.3h0M75.7 220h0M57.1 221h0M41.9 225.8h0M43.7 221.2h0M73.8 220.1h0M53.6 220.5h0M101.2 220.4h0M78.5 220.7h0M104.9 220.3h0M53.5 220.4h0M67.5 219.3h0M44.8 221.6h0M79.4 219.5h0M94.2 219.4h0M56.1 220.1h0M102.8 220h0M70.5 220.8h0M93.7 220.6h0M48.6 221h0M100.5 219.9h0M66.2 220.7h0M89.7 219.5h0M53.3 219.8h0M49.3 220.1h0M95.7 220.2h0M47.7 220.4h0M95.5 221h0M51.5 219.9h0M47.4 220.5h0M76.8 220.5h0M52.5 220.2h0M82.3 219.3h0M92.2 219.5h0M104.6 220.2h0M75.9 220.4h0M96.6 220h0M63.9 221.1h0M104.4 220.6h0M82.7 219.9h0M104.8 219.3h0M76.3 220.7h0M74.4 220.8h0M40.7 227.4h0M54.9 220.4h0M83.7 220.6h0M100.6 220.7h0M101.5 219.9h0M77.4 220.7h0M75.5 220.4h0M48.4 220.7h0M59.2 219.6h0M76.2 220.5h0M48.1 220.6h0M47.8 219.6h0M83.3 220.1h0M97.4 219.5h0M82.6 220.4h0M80.2 219.5h0M47 219.6h0M42.9 222h0M91.6 220.8h0M59.1 220.4h0M88.2 221h0M52.1 221h0M51.2 221.1h0M64.2 220.2h0"/>
<path class="pp" d="M61 219.4h0M72.8 220.8h0M78 220.3h0M71.2 220.5h0M89.8 219.6h0M99.2 219.6h0M81.2 219.7h0M61.5 219.9h0M81.3 219.6h0M45.3 220.9h0M100.7 220.1h0M55.1 220.3h0M52.9 220.7h0M49.5 219.8h0M94.2 220.9h0M85 220.9h0M70.9 220.5h0M72.7 220.5h0M86.9 220.2h0M85.7 219.4h0M104.3 220.5h0M51.6 220.8h0M69.9 220.6h0M88.1 220.4h0M93.6 219.5h0M98.3 220.4h0M69.4 220.9h0M67.7 219.6h0M94.5 219.8h0M101.2 220.4h0M89.6 220.5h0M44.9 222h0M44.4 222.3h0M76.3 220.6h0M55.5 219.5h0M63.7 220.5h0M96.7 220.4h0M65.4 220.1h0M51.3 219.7h0M58.7 220.5h0M63 220.6h0M93.7 220.4h0M54.8 220.8h0M93 221h0M77 219.3h0M55.9 221.1h0M93.6 220.6h0M82.5 219.6h0M58.8 220.8h0M91.1 219.8h0M54.6 219.7h0M55.1 220h0M68.7 219.4h0M72.2 220.8h0M94 220.5h0M57.5 220.2h0M86.3 219.7h0M76.5 220.4h0M62.5 219.4h0M96.6 220.7h0M92.8 220.2h0M69.9 220.2h0M99.7 221h0M53.1 219.5h0M102.8 219.2h0M87.5 219.9h0M71.2 219.7h0M103.2 220.5h0M54.9 219.7h0M82.9 219.4h0M81 219.8h0M84.9 219.6h0M46.4 219.9h0M90.5 221h0M65.7 220.9h0M46.5 220.4h0M56.5 220.7h0M68.7 220.7h0M57.1 219.5h0M103.8 219.2h0M101.9 220.5h0M48.4 220.1h0M94.3 219.9h0M47.4 220h0M88.6 220.4h0M41.9 223h0M103.1 220h0M77.5 219.7h0M90.5 220.4h0M90 220.6h0M85.4 220.5h0M44.3 222.3h0M51.7 219.9h0M58.8 219.9h0M67.4 220.1h0M93.8 219.7h0M91.5 220.3h0M41.7 224.3h0M74.5 220.8h0M89 221h0M41.8 224.6h0M69.7 220.1h0M92.9 220.2h0M52.4 220.6h0M79.9 220.1h0M47.7 220.6h0M51.7 221.1h0M89.2 221h0M103 220.3h0M50.6 219.7h0M80.1 219.3h0M63.9 220.6h0M48.6 219.8h0M54.4 219.6h0M51.9 220.3h0"/>
<path class="pp" d="M67 219.6h0M100.2 219.4h0M71.7 219.8h0M94.1 220.5h0M57.7 220.8h0M88.3 220.8h0M62.7 219.8h0M104.3 220.4h0M75.9 220.5h0M61 219.6h0M103.6 220.2h0M97.1 219.4h0M104.2 220.7h0M43.5 221.7h0M98.7 219.9h0M77.7 220.2h0M91.2 219.9h0M76.4 219.7h0M95.3 219.6h0M43.6 223.3h0M87.5 220.7h0M57.8 220.3h0M76.7 220.1h0M79.1 219.7h0M50.8 219.7h0M98.4 220.6h0M95.8 219.7h0M97.7 220.1h0M94 224.5h0M58.9 220.8h0M91.4 219.9h0M101.4 220.5h0M93.2 220h0M76.9 220.3h0M55.5 220.6h0M97.5 219.7h0M84.5 219.6h0M78.4 220.3h0M94.1 220.2h0M91.7 220.2h0M47.4 220.5h0M84 220.2h0M68.5 220.1h0M84.8 219.6h0M58.7 220.3h0M49.7 220.3h0M98.3 219.4h0M99.5 220.3h0M54.7 220h0M91.8 219.4h0M75.8 219.3h0M42 223.1h0M100.1 220.8h0M103.7 219.4h0M59.5 220.6h0M85.8 221.1h0M72.8 220.8h0M42.1 226.8h0M47.2 220.9h0M42.6 224h0M90.9 219.8h0M76.5 219.5h0M99.2 220.8h0M41.9 227.5h0M70 221.1h0M76.8 220.4h0M74.3 220.5h0M81.2 219.4h0M84.5 220.6h0M50.5 219.9h0M63.7 220.2h0M101.6 220.5h0M94.7 220.4h0M79.8 220.7h0M73.5 220.4h0M61.8 219.6h0M57.6 220.8h0M67.4 220h0M49.1 220h0M49.8 220.2h0M53.5 220.6h0M61.1 219.5h0M61.5 220.4h0M43 224.6h0M83.4 219.5h0M76.3 219.4h0M68.5 219.5h0M68.5 220.9h0M41.2 227.6h0M87.6 220.6h0M101.2 220.7h0M79.3 221.1h0M45.4 220.2h0M81.1 221h0M46.2 221.1h0M75.9 219.3h0M79.7 220.5h0M60.4 220.5h0M81.8 220.9h0M47.6 219.4h0M82.3 221h0M88.5 220.8h0M99.1 219.4h0M64.2 220.6h0M65.3 220.2h0M74.6 219.4h0M65.4 220.9h0M57.2 219.9h0M94.9 219.3h0M67.8 220.9h0M55.2 221.1h0M63.6 220h0M92.1 220.9h0M47 220h0M69.9 220.8h0"/>
<line class="rga" x1="40.5" y1="220.6" x2="104.5" y2="220.6"/>
<circle class="mk" cx="48.6" cy="219.5" r="1.5"/>
<path class="ax" d="M308.4 213.89V261.09M307.9 260.59H378.9"/>
<text class="tk" x="303.59999999999997" y="222.59" text-anchor="end">1.00</text>
<text class="tk" x="303.59999999999997" y="238.89" text-anchor="end">0.75</text>
<text class="tk" x="303.59999999999997" y="255.19" text-anchor="end">0.50</text>
<text class="tk" x="311.40" y="271.09" text-anchor="middle">0</text>
<text class="tk" x="343.40" y="271.09" text-anchor="middle">200</text>
<text class="tk" x="375.40" y="271.09" text-anchor="middle">400</text>
<path class="ax" d="M304.9 219.49H308.4M304.9 235.79H308.4M304.9 252.09H308.4M311.40 260.59000000000003v3M343.40 260.59000000000003v3M375.40 260.59000000000003v3"/>
<text class="ttl" x="343.40" y="282.19" text-anchor="middle">Epoch</text>
<text class="ttl" transform="translate(285.10,237.24) rotate(-90)" text-anchor="middle">AUC</text>
<text class="ann" x="376.40" y="235.19" text-anchor="end" font-size="6.5">p-val: <tspan dy="0.7" stroke-width="0.12" fill="#222" stroke="#222">***</tspan></text>
<text class="ann" x="376.40" y="242.59" text-anchor="end" font-size="6.8"><tspan font-style="italic">R</tspan><tspan dx="0.5" dy="-2.6" font-size="5.2">2</tspan><tspan dy="2.6">: 0.84</tspan></text>
<rect class="lg" x="338.82" y="246.39" width="36.58" height="11.00"/>
<circle class="ldg" cx="347.62" cy="251.89" r="1.5"/>
<text class="ann" x="373.20" y="254.19" text-anchor="end" font-size="6.5">RNN</text>
<line class="rgb" x1="311.5" y1="233.2" x2="375.5" y2="224.3"/>
<path class="cg" d="M315 232L320 229.5L330 227.6L345 226L360 224.6L377 223.2L377 225.9L360 227.1L345 228.6L330 230.1L320 232.5L315 236Z"/>
<path class="pg" d="M372 227.8h0M361.8 225.4h0M345 226.6h0M327.1 229.5h0M326.3 230h0M365.6 225.2h0M319.7 230.2h0M322.7 230.1h0M360.1 226.8h0M323.4 229.5h0M335.1 227.6h0M361.1 226.7h0M350.5 227.4h0M341.8 228.4h0M364.1 224.7h0M321.4 231.7h0M331.5 229.2h0M368.1 226h0M372.7 225.6h0M329.1 228.2h0M332 227.8h0M345.6 227.1h0M317.3 233.1h0M372.8 224.2h0M352.1 226.2h0M316.8 233.6h0M343.5 226.4h0M324.6 229h0M319.8 231.8h0M321.1 230.7h0M355 225.5h0M357.5 227h0M375.5 225.3h0M346.4 226.8h0M365.7 224.8h0M324.8 229.3h0M349.5 227.3h0M317.9 232.4h0M330.5 229.2h0M371.6 225.2h0M375.4 224.5h0M357.8 226h0M324.1 230.8h0M320 232h0M332.4 228.3h0M350.6 226.8h0M336.3 227.3h0M368.5 224.6h0M374.4 225.9h0M335.4 228.6h0M359.9 226.9h0M344.9 228.1h0M374.4 223.8h0M361 224.9h0M358.9 226.7h0M373.7 225.7h0M375.5 223.6h0M365 225.9h0M312.9 239.2h0M333.3 229.1h0M359.4 225.3h0M343.9 227.6h0M367.1 224.3h0M321.2 230.7h0M343.7 227.5h0M361.8 224.8h0M352.1 227.1h0M324.5 228.9h0M356.8 226.2h0M317.2 231.5h0M335.6 228.9h0M336.2 228.4h0M314.8 234h0M318.1 231.6h0M324.1 229.5h0M364.9 225.8h0M342.9 227.5h0M356.3 225.8h0M362.6 225.9h0M344.2 227.2h0M347.2 228h0M355.4 225.7h0M338.1 228.7h0M315 233.7h0M347 226.8h0M356.8 226.9h0M337.2 227.4h0M338.9 227.1h0M322.3 230.9h0M374.5 223.7h0M324.2 230.1h0M367.1 224.5h0M329.7 228.9h0M330.9 228.5h0M325.3 230.3h0M372.8 224.3h0M346.6 227.8h0M336.4 227.2h0M337.2 227.1h0M343.2 228.6h0M341.5 228.4h0M352.6 227.5h0M350.5 225.9h0M327.6 228.6h0M333.6 229.2h0M312.7 242.6h0M345.5 226.3h0M359.1 225.3h0M358.5 225.5h0M344 227.1h0M368.8 224.3h0M374.2 225.5h0M326.3 230.6h0M372.4 224h0M357.4 225.8h0M356 226.8h0M369.3 226.2h0M335 228.4h0M321.9 230.7h0M329.9 228.1h0M337.5 228.1h0M368.8 225.9h0M340.9 227.6h0M375.1 225.3h0M354.1 227.4h0M375.5 224.4h0M372.2 225.5h0M321.8 230.7h0M342.9 226.7h0M365.7 225.4h0M326.2 229.1h0M356.9 225.7h0M323.7 231.1h0M365.4 225h0M366 224.6h0M327.6 230h0M359.7 226.7h0M357 226.7h0M370.9 225.7h0M358.3 226.4h0M345.3 226.7h0M339.3 228.6h0M356.7 227.2h0M343.2 226.5h0M376.9 225.1h0M332.3 227.6h0M365.7 225.8h0M364.5 226h0M340.5 228.6h0M330.3 228.8h0M312.7 239.9h0M369.4 226.3h0M354.4 226.5h0M347.5 227.1h0M322.2 230h0M333.9 229.4h0M366.7 225.9h0M330 229.5h0M316.6 232.8h0M325.5 229.6h0M317.3 232.7h0M334.9 229.3h0M376.7 225.1h0M349.7 226.2h0M327.1 230h0M354.1 227.4h0M337.6 227.2h0M350.1 226h0M358.4 226.8h0M316.2 232h0M347.5 227.9h0M376.2 224.1h0M319.5 231.7h0M374.1 225.8h0M329.4 229.6h0M368.6 225.4h0M338.1 228.9h0"/>
<path class="pg" d="M312.8 243.3h0M322.6 230.5h0M327.5 229.9h0M313.4 239.3h0M327.6 230.1h0M343 228.2h0M324.2 230.6h0M376.6 223.7h0M335.6 227.9h0M356.8 226.4h0M333.9 228.5h0M370.9 224h0M311.7 245.6h0M326.3 230.4h0M343.6 226.5h0M326.3 228.8h0M335.8 227.8h0M348.8 227.3h0M342.9 227h0M339.8 228.2h0M345 228.4h0M358.8 225h0M325.4 229h0M342.9 228.3h0M376.1 225.7h0M359.8 226.8h0M370.2 225.8h0M325.9 229.8h0M320.4 230.7h0M340 228.9h0M340.4 227.2h0M312.3 242.1h0M320.6 230.6h0M362.2 225.2h0M374.4 226h0M329.5 228.3h0M373 225.1h0M311.7 247h0M355.5 226h0M313.8 236.8h0M349.6 226.2h0M348.3 227.5h0M332.9 227.7h0M356.2 226.2h0M364.5 226.3h0M331.9 229.4h0M366 226.2h0M324.4 230.7h0M370.2 225.6h0M345.2 228.3h0M316.6 233.7h0M363.7 226.6h0M350 227.7h0M318.1 232.5h0M352.2 227.5h0M370.8 224.2h0M370.4 224.7h0M349.7 227.5h0M312.5 243.5h0M356.3 226.9h0M335.9 227.9h0M347.3 227.9h0M335.4 229.1h0M368.8 225.8h0M360.4 226.5h0M316.6 232.5h0M326.3 229.2h0M369.2 224.4h0M330 229h0M363 225.9h0M320.1 232h0M366.4 224.7h0M358.2 225.8h0M355.1 226.6h0M332.1 228.9h0M360.7 225.5h0M371.5 224.8h0M376.4 224.9h0M363.3 224.9h0M322.1 229.4h0M369.2 225.8h0M325 229.2h0M352.4 226h0M369.9 224.9h0M330.7 229.4h0M365.8 225.2h0M349.9 227.5h0M318.3 233.1h0M372.4 223.9h0M366.4 225.3h0M339.3 227.5h0M349.3 225.9h0M374.1 224.1h0M363.7 225h0M322.8 231.2h0M326.3 228.7h0M358.6 226.1h0M370 224.2h0M375.1 224.1h0M324.9 230.5h0M315.8 234h0M366.5 224.6h0M356 225.3h0M376.1 224.2h0M333.9 229.3h0M357.9 226.7h0M325.2 230h0M350.8 226h0M364.3 225h0M322.6 229.4h0M328.5 228.6h0M328.5 230.2h0M325.3 230.4h0M369.1 225.3h0M344.3 227.3h0M358 226.3h0M357.6 226.6h0M320.8 231.3h0M368.4 226h0M314.7 233.7h0M312.3 245.4h0M373.4 224.8h0M340.3 227.3h0M357.6 225.7h0M375.5 224.8h0M374.5 224.5h0M350.5 226.1h0M330.2 228.8h0M346.6 227.8h0M332.6 228.4h0M317.5 231.3h0M328.6 229.6h0M372.6 224.4h0M374.3 223.7h0M345.9 228h0M316.9 232.5h0M336.1 228.9h0M333.2 228.1h0M324.4 230.2h0M315.1 233.6h0M371.2 225.1h0M351 227.3h0M334 228.2h0M353.5 225.5h0M372.5 225.9h0M358.8 225.3h0M327 230.2h0M364.5 224.9h0M326.1 229h0M326.4 228.6h0M319.5 231.8h0M354 227.5h0M322.3 230.3h0M373.8 223.9h0M314.3 237.7h0M364.8 225.4h0M344 227.5h0M349 226h0M345.6 228.2h0M316.2 232.8h0M329.8 228.2h0M323.1 230.7h0M372.2 223.9h0M331 228.9h0M371 225.2h0M356 226.7h0M356.1 226.9h0M334.5 228.4h0M357.2 226.2h0M346.9 226.7h0M319.5 232.4h0M352.4 226.3h0M313.8 239.4h0M367.1 224.6h0M324.7 230.9h0M314.4 235h0"/>
<path class="pg" d="M356.8 226.6h0M368.4 224.6h0M338.9 227.5h0M372.7 224.4h0M323.3 230.8h0M346.2 227.4h0M342.4 227.9h0M370.6 225.6h0M366.2 225.9h0M328.5 230.1h0M345.4 228.3h0M337.1 228.9h0M363.7 226.5h0M374.2 224h0M349.1 227.8h0M355.2 226.9h0M327.2 229.4h0M356.6 226.5h0M313.9 238.8h0M317 231.5h0M371.9 225.1h0M344.9 227h0M331.9 228.4h0M328.6 230.1h0M326.1 229.8h0M312.6 241.9h0M348.8 226.5h0M354.8 225.7h0M367.9 225.6h0M329.3 229.3h0M315.2 232.2h0M370 224.4h0M375.6 225.5h0M371.1 225.3h0M349.7 227.1h0M341 228.5h0M312.4 245.7h0M334.1 228.4h0M339.3 227.2h0M374.5 224.7h0M369.5 224.6h0M354.7 226.2h0M361.1 226.3h0M364.4 226.4h0M324.9 229.9h0M349.3 226.2h0M317.4 232.8h0M367.5 225.9h0M358.2 225h0M327.8 229.5h0M362.3 226.3h0M362.7 225h0M343.9 226.4h0M325.7 229.8h0M355.9 226.6h0M313.6 237.4h0M333.3 228h0M337.1 229.1h0M370.9 225.6h0M311.7 243.8h0M347.4 226.7h0M322.7 230.3h0M370.8 224.9h0M340 228.9h0M372.9 224h0M376.6 224.7h0M367.3 225.9h0M376.9 225.6h0M326.9 229.5h0M362.8 224.7h0M350.8 227.6h0M351.4 226.5h0M348.9 226.6h0M330.7 228.2h0M371.4 226.1h0M341.8 227.6h0M330.4 229.5h0M376.8 225.5h0M371.4 226h0M354.2 226h0M363.2 226.4h0M343.8 228.2h0M329.3 229h0M366 232h0M348.8 226.9h0M349.8 226.5h0M323.2 230.3h0M372.9 224.7h0M339.6 228.5h0M346.1 228.3h0M346.7 226.2h0M312.9 239.6h0M361 226.4h0M315.5 233.2h0M335.4 228.1h0M366 230.5h0M358.1 225.4h0M370.7 224.3h0M325.8 229h0M339.2 227.3h0M341.6 227.3h0M325.3 230.9h0M350.5 226.3h0M369.9 224h0M317.9 233h0M362.7 225.3h0M337 227.3h0M321.5 231.2h0M376.1 223.6h0M342.4 227.3h0M329.5 229.9h0M355.3 226.6h0M366.9 224.3h0M334.7 227.5h0M336.8 228.3h0M328.5 229.6h0M330.4 228.3h0M327.4 230.2h0M334.2 228.2h0M352.1 227.1h0M358.1 225.5h0M317.4 233.1h0M329 228.9h0M323 231h0M361.9 226.5h0M319.6 231.1h0M365.9 226h0M336.8 228.3h0M337.3 227.9h0M325.4 230.4h0M325.3 229.2h0M371.5 226h0M376.3 225.1h0M327.8 230h0M354.3 226.4h0M355.3 226.7h0M337.9 227.4h0M355 227.4h0M344.8 227.3h0M331.3 227.9h0M350.9 227.6h0M313.2 238h0M320.5 230.9h0M358.4 225.4h0M370 228.2h0M320.4 231.9h0M317.8 230.9h0M351.9 225.6h0M340.1 228.1h0M338.2 229h0M366.1 226.2h0M343.1 227.5h0M358 226.3h0M344.1 227.4h0M324.3 230h0M344.6 227.5h0M360.3 224.8h0M319.6 232.3h0M327.6 230.1h0M358.3 226.9h0M365.8 225.1h0M358.7 226.9h0M328.1 229.3h0M342.6 227.1h0M356.7 225.3h0M371.6 224.4h0M367.4 225.5h0M324.8 229h0M334.7 229h0M376.1 225.2h0M363.4 225.1h0M362.4 225.1h0M363.2 226.3h0M367 225h0M316.4 231.8h0M328.6 229h0"/>
<path class="pg" d="M364.4 225.6h0M328.6 229.9h0M366.7 225h0M317.6 233.9h0M353.6 226.2h0M323.8 230.7h0M364.7 225.2h0M362.9 226.5h0M319.7 230.2h0M349 227.3h0M323.7 229.8h0M349.1 226.8h0M337.7 228.1h0M358.3 225.8h0M312.5 241.2h0M354.9 226.3h0M336.5 228.1h0M334.8 228h0M320.8 231.9h0M317.6 233h0M339.1 227.6h0M349.3 227.9h0M362.4 225.7h0M368.2 225.9h0M319.5 231.7h0M362.3 225.2h0M351.1 225.8h0M325 229.2h0M351.7 227.3h0M371.9 224.8h0M374.6 223.8h0M317.6 232.9h0M376.8 225h0M330.9 228h0M350.2 226h0M334.5 228.1h0M342.3 226.8h0M351.4 226h0M333.4 228.2h0M340.1 227.1h0M368.5 225.6h0M317.2 232.6h0M345.3 228h0M348.8 227.5h0M355.5 225.9h0M365.2 226.2h0M357.9 227h0M362.2 225.7h0M373.5 225.1h0M354.3 227.2h0M355.2 226.9h0M332.3 228.8h0M342.1 227.6h0M371.4 223.9h0M340.8 228h0M331.7 228.5h0M371 224.9h0M350.6 226.8h0M369.1 225.4h0M318.9 230.7h0M340.8 228.7h0M373.3 225h0M376 223.7h0M330.4 229.8h0M372.8 223.8h0M341.9 226.8h0M371.7 224.9h0M371 225.7h0M340.2 228.8h0M346.1 226.5h0M346.9 228.1h0M313.4 237.8h0M342.9 226.8h0M362 225h0M312.9 239.2h0M337.2 228.1h0M357.6 226.2h0M349.9 227.9h0M330.1 227.8h0M375.6 225.7h0M317.5 232.4h0M349.1 226.5h0M352.5 226.3h0M360.4 225.1h0M358.3 225.6h0M322.1 230.5h0M363.5 224.9h0M315.4 233.1h0M316.7 233.3h0M346.7 227.9h0M334 229h0M321.3 231.5h0M364.1 226h0M326 229.2h0M327.5 228.7h0M361.8 225h0M358.4 226.5h0M375.1 225.6h0M374.5 224.2h0M335.4 227.3h0M327.9 228.9h0M314.3 236.6h0M329.7 229.5h0M315.9 233.9h0M364.7 225h0M325.4 230.2h0M341.6 228.1h0M371.2 224.9h0M353.4 226.4h0M349.8 227h0M371.7 226.1h0M334.4 228.3h0M348.4 227.7h0M323.4 230.6h0M351.9 227h0M342.3 227.8h0M346.5 227.7h0M345.9 226.6h0M370.8 224.2h0M338.8 227.1h0M315.4 232.1h0M332.3 227.9h0M357.2 226.5h0M342.1 227.8h0M372.9 225.5h0M344.6 228.3h0M329.3 228h0M321.6 231.5h0M327 229.8h0M373.9 224.8h0M355.6 226.6h0M374.2 225.7h0M353.9 227.3h0M361 224.8h0M331 228.1h0M357.9 225.4h0M331.9 229h0M320.5 231.4h0M360.9 226.1h0M360 225.6h0M374 223.8h0M339.8 227.2h0M376.4 225.3h0M360.8 225.7h0M342.1 226.6h0M354.9 225.7h0M347.7 226.3h0M326.4 229h0M358.2 226.4h0M360.3 225.1h0M352.4 226h0M330.9 228.4h0M355.9 226.7h0M350.2 226.2h0M340 227.6h0M330.2 229.1h0M344.4 226.9h0M347.1 226.5h0M313.4 241h0M324.5 230.2h0M333.9 228.1h0M324.1 229.6h0M371.1 225.4h0M350.4 227.7h0M324.1 229h0M332.1 228.2h0M314.9 233.2h0M367.7 225h0M352.8 225.5h0M332.4 227.9h0M332.9 227.6h0M317.9 232.9h0M374.2 224.1h0M366 229h0M340.2 227.6h0M368.8 225.7h0"/>
<circle class="mk" cx="320.0" cy="231.4" r="1.5"/>
<path class="ax" d="M118.6 213.89V261.09M118.1 260.59H189.1"/>
<text class="tk" x="121.60" y="271.09" text-anchor="middle">0</text>
<text class="tk" x="153.60" y="271.09" text-anchor="middle">200</text>
<text class="tk" x="185.60" y="271.09" text-anchor="middle">400</text>
<path class="ax" d="M115.1 218.49H118.6M115.1 237.59H118.6M115.1 256.69H118.6M121.60 260.59000000000003v3M153.60 260.59000000000003v3M185.60 260.59000000000003v3"/>
<text class="ttl" x="153.60" y="282.19" text-anchor="middle">Epoch</text>
<text class="ann" x="186.60" y="235.19" text-anchor="end" font-size="6.5">p-val: <tspan dy="0.7" stroke-width="0.12" fill="#222" stroke="#222">***</tspan></text>
<text class="ann" x="186.60" y="242.59" text-anchor="end" font-size="6.8"><tspan font-style="italic">R</tspan><tspan dx="0.5" dy="-2.6" font-size="5.2">2</tspan><tspan dy="2.6">: 0.82</tspan></text>
<rect class="lg" x="136.35" y="246.39" width="49.25" height="11.00"/>
<circle class="ldp" cx="145.15" cy="251.89" r="1.5"/>
<text class="ann" x="183.40" y="254.19" text-anchor="end" font-size="6.5">Seq2Seq</text>
<path class="cp" d="M121.5 224L122.5 221.7L124 220.1L187 219.1L187 221.1L124 222.1L122.5 224.8L121.5 229Z"/>
<path class="pp" d="M137 220h0M155.8 220.5h0M171.8 220.9h0M181.4 219.3h0M162.1 220.9h0M174.2 220.6h0M176.4 219.6h0M185.7 219.6h0M179.8 220.5h0M164.1 221.2h0M148 224h0M126.5 221h0M136.4 221.2h0M142.3 221.1h0M153.7 220.5h0M174.1 220.3h0M124.6 220.9h0M144.8 220.8h0M158.8 221h0M157.2 220.9h0M156.3 220.1h0M161.4 220.2h0M138.1 220.7h0M157.2 220.6h0M144.9 220.2h0M126.2 221.5h0M159.9 221.4h0M142.6 221.1h0M134.3 220.1h0M131.8 220.1h0M164.6 219.8h0M159.7 220.5h0M126 221.2h0M171.4 220.9h0M147.1 220.1h0M123.7 222.1h0M140.4 220.6h0M141.8 221.2h0M166.1 220.4h0M158.6 220.1h0M135 221.4h0M167.3 219.7h0M165.2 220.2h0M179.1 220.8h0M138.7 220.9h0M154.3 220.9h0M153.7 219.9h0M177.7 220.5h0M185.9 219.9h0M148.2 221.3h0M160.3 220.1h0M170.7 220.5h0M173 219.7h0M124.7 221.1h0M178.5 220h0M131.2 221.2h0M166.1 219.7h0M160.5 220h0M128.4 221.3h0M174.3 220.1h0M147.6 220.2h0M159.4 221.4h0M172.4 220.6h0M140.2 220.1h0M174.5 219.7h0M177.5 220.7h0M123.6 221.2h0M151.1 220.3h0M182.6 219.9h0M144.1 221.5h0M151.4 220.4h0M175.7 220.4h0M154.9 220.8h0M180.2 221h0M150.7 220.7h0M150.4 221.3h0M179.1 220.3h0M144.4 220.8h0M150.6 221.5h0M177.5 220.8h0M146 220.1h0M130.4 221.2h0M133.6 221.2h0M159 220.5h0M176.3 221.1h0M121.9 222.5h0M173.2 219.7h0M145.9 220.5h0M165.6 219.9h0M173.3 219.8h0M162.1 220.3h0M123 222.6h0M132.1 220.2h0M157.9 221.2h0M156.9 221.1h0M183.1 221h0M125.1 221.3h0M134.4 220.9h0M133.9 221.2h0M170.8 220.8h0M158.9 220.1h0M150.5 220.3h0M170 220h0M159.1 221.1h0M144.1 220.4h0M161.2 220.7h0M122.1 226.7h0M185.2 220.6h0M162.2 220.9h0M129.2 220.9h0M148.7 220.3h0M157.6 219.7h0M144.1 220.1h0M126.4 221.4h0M160.9 219.9h0M147.9 220.9h0"/>
<path class="pp" d="M158.5 220.4h0M181.5 220.2h0M136.1 221h0M131.7 220.3h0M124.5 221.6h0M136.3 220.1h0M127.9 221h0M161.4 219.9h0M147.5 221.1h0M126.1 220.5h0M162.5 219.8h0M122 224.9h0M177.7 219.5h0M132.5 220.1h0M167.1 220.2h0M153.4 221.5h0M158 220h0M148.1 220.4h0M124.7 221.5h0M154.1 220.9h0M177.9 220.6h0M124.8 221.4h0M171 220h0M185.8 219.7h0M136.3 221.7h0M150.9 221.5h0M168.7 219.6h0M139.3 220h0M182.7 221h0M144.3 220.9h0M134.7 220.5h0M145.7 221.3h0M148.5 220.5h0M129.2 221.8h0M172.4 220.2h0M171.1 220.3h0M143.9 221.3h0M182.3 221.1h0M183.8 220h0M144.4 221.4h0M182.3 219.7h0M157.2 220.7h0M130.6 221.2h0M153.2 220.9h0M134.2 221.8h0M181.7 220.7h0M157.5 220.9h0M152.4 220.5h0M161.7 220.9h0M160.8 220h0M123.7 220.8h0M163.7 220.1h0M184.5 219.3h0M170.6 220.2h0M176.8 220.6h0M127.4 220.8h0M162.1 220.6h0M173.2 220.3h0M174.6 220.5h0M155.2 220.1h0M152.5 221.3h0M128.8 220.5h0M136.5 221.3h0M138.2 220.7h0M153.7 220.5h0M125.8 221.2h0M177.6 220.7h0M137.9 220.8h0M131.9 220.7h0M148.2 221.1h0M165.1 221.1h0M153.3 221h0M139.3 220.9h0M129.8 221.1h0M146.6 221.1h0M125.2 221.6h0M140.3 220.4h0M147.7 221.4h0M178 219.8h0M159.7 219.8h0M136.8 220.2h0M169.1 220.2h0M153.5 220.1h0M185.2 219.4h0M174.7 219.7h0M173.9 220.4h0M149.2 220.1h0M181.2 220.1h0M185.7 219.9h0M156.8 220.3h0M122.9 223.5h0M176.9 220.2h0M132.5 220.7h0M176 223h0M123.8 220.4h0M173.5 220.8h0M155.5 220.3h0M148.5 221h0M138.2 220.4h0M144.2 221.1h0M140 221.3h0M170.2 220.3h0M164.3 220h0M129.9 220.9h0M138.1 220.5h0M135 221.3h0M179 220.3h0M155.8 221.5h0M153.4 219.9h0M134.3 221.1h0M182.7 219.9h0M128.9 221.1h0M127.4 220.9h0M142.8 221h0M183.3 219.3h0M145.5 220.4h0"/>
<path class="pp" d="M185.9 220.2h0M169.4 220.4h0M179.4 219.6h0M129.1 221.2h0M161.5 220.2h0M185.7 220.4h0M153.7 219.8h0M177.7 220.1h0M179.7 220.1h0M162.6 221.3h0M149.3 219.9h0M174.2 219.9h0M144.1 221h0M153.1 220.3h0M179.6 220.2h0M147.7 220.2h0M141.4 221.1h0M175.6 219.7h0M123.5 222.5h0M125.1 221.7h0M153.5 220.4h0M137.9 221.7h0M137 220.2h0M163.5 220h0M122.1 226.9h0M153 220h0M185.3 219.8h0M152.2 220.1h0M127.5 220.9h0M154.3 220.3h0M129.7 220.6h0M136.7 221.5h0M144.7 220.4h0M158 220.7h0M173.9 220.4h0M148 220.8h0M162.1 220.2h0M172.3 221h0M163.2 220.4h0M122.4 221.6h0M127.6 221.3h0M126.3 220.3h0M181.5 219.5h0M168.4 220.3h0M144.3 221.4h0M171.9 221.2h0M124.8 220.6h0M184.2 220.8h0M137.9 221.5h0M160 221h0M183.9 219.6h0M186.7 219.2h0M163.7 219.7h0M131.7 221.7h0M138.2 220.6h0M148.1 221.1h0M171.8 220.8h0M156.8 221.1h0M157.1 221.1h0M132.7 220.7h0M148.6 220.6h0M164.1 220.3h0M138.8 220.4h0M146.4 220.6h0M155.5 219.7h0M142 220.1h0M124.8 220.2h0M136.8 220.7h0M145 221h0M184.7 220.3h0M151.9 221.1h0M166.9 220.2h0M149.9 220.9h0M127 220.8h0M143.9 220h0M162.4 220.5h0M141.8 220.9h0M139.6 221.7h0M184.5 221h0M124 221.5h0M180.2 219.9h0M177.1 220.8h0M126.5 220.9h0M169.1 220h0M132.9 221.1h0M145 221h0M175.7 219.5h0M131.5 220.2h0M159.5 220.5h0M172.4 220.9h0M150.9 220.6h0M175.2 220.9h0M186 220.5h0M169.1 219.7h0M179.3 219.6h0M121.5 223h0M137.3 220.2h0M169.5 221.3h0M133.1 221.1h0M150.5 219.9h0M139.3 220.8h0M176.8 220.7h0M132.7 220.8h0M155.2 220h0M174.7 219.5h0M146.1 221.4h0M131 220.2h0M147.6 220.4h0M161.9 220.3h0M177.7 219.8h0M155.5 219.7h0M129.4 220.2h0M153 220.2h0M140.1 220.2h0M175.1 219.5h0"/>
<path class="pp" d="M161 220.9h0M157.9 220.9h0M127.4 221.6h0M127.3 221.8h0M144.1 220h0M165.5 221.2h0M158.5 220.9h0M182 219.9h0M143.3 221h0M153.6 220.5h0M128.4 221.1h0M148.8 221.1h0M172.9 221h0M185.4 220h0M139 221.6h0M181.7 219.3h0M155.9 220.7h0M139.2 220.8h0M132.3 220.2h0M154.5 220.4h0M158.3 221.2h0M139.9 220.1h0M168.3 221h0M155.4 219.9h0M172.8 220.9h0M162.4 220h0M168.6 220.9h0M156.1 220.7h0M151.6 221.6h0M164.6 219.9h0M173.9 221h0M159.6 219.8h0M160.9 220.7h0M125.3 221h0M171.1 220.2h0M179.9 220.8h0M127.6 221.7h0M170.1 220.7h0M170.1 219.7h0M156 221.2h0M186.8 219.8h0M147.1 220.4h0M137.2 220.6h0M162.7 221.1h0M181.8 219.7h0M129.7 220.6h0M166 220.9h0M122.3 224.1h0M136.1 221.4h0M154.7 221h0M170.1 220h0M157.6 220.7h0M148.3 221.4h0M123.5 222.9h0M169 221.1h0M181.4 219.6h0M179 221.1h0M141.9 221.1h0M175.5 220.4h0M185.2 219.4h0M153.1 220h0M121.6 226h0M123 224.1h0M145.1 220.4h0M154 220.7h0M156.2 220.7h0M134.9 220.8h0M157.1 220.4h0M178.9 220.9h0M181.9 219.5h0M140.6 220.1h0M173.7 220.7h0M169.9 220.2h0M172.4 220.1h0M152.9 221h0M144.5 220.1h0M139.8 220.3h0M173.9 220.2h0M121.8 225.8h0M178.6 220.5h0M186.8 219.7h0M170.4 219.7h0M169.8 221.1h0M182.8 220.1h0M183.2 220.1h0M162.4 220.5h0M131.9 221.2h0M180 219.6h0M137 220.1h0M160.3 221.3h0M171.9 220.5h0M147.7 221h0M179.8 219.5h0M182.7 219.3h0M168.6 220.4h0M143.6 220.3h0M129.1 220.1h0M147.5 220.5h0M176.5 219.4h0M180.7 219.8h0M158.7 220.2h0M142.6 221.5h0M172.4 220.1h0M136.9 220.9h0M147.3 220.8h0M182 219.4h0M131.3 221.7h0M152.7 221h0M142.4 221.5h0M177.2 220.6h0M136.7 221h0M145.7 220.7h0M134.7 220.1h0M138.7 221.2h0M179.6 220.4h0"/>
<line class="rga" x1="121.5" y1="221.0" x2="185.5" y2="219.70000000000002"/>
<circle class="mk" cx="158.0" cy="218.9" r="1.5"/>
<path class="ax" d="M390.0 213.89V261.09M389.5 260.59H460.5"/>
<text class="tk" x="393.00" y="271.09" text-anchor="middle">0</text>
<text class="tk" x="425.00" y="271.09" text-anchor="middle">200</text>
<text class="tk" x="457.00" y="271.09" text-anchor="middle">400</text>
<path class="ax" d="M386.5 219.49H390.0M386.5 235.79H390.0M386.5 252.09H390.0M393.00 260.59000000000003v3M425.00 260.59000000000003v3M457.00 260.59000000000003v3"/>
<text class="ttl" x="425.00" y="282.19" text-anchor="middle">Epoch</text>
<text class="ann" x="458.00" y="235.19" text-anchor="end" font-size="6.5">p-val: <tspan dy="0.7" stroke-width="0.12" fill="#222" stroke="#222">***</tspan></text>
<text class="ann" x="458.00" y="242.59" text-anchor="end" font-size="6.8"><tspan font-style="italic">R</tspan><tspan dx="0.5" dy="-2.6" font-size="5.2">2</tspan><tspan dy="2.6">: 0.83</tspan></text>
<rect class="lg" x="407.75" y="246.39" width="49.25" height="11.00"/>
<circle class="ldg" cx="416.55" cy="251.89" r="1.5"/>
<text class="ann" x="454.80" y="254.19" text-anchor="end" font-size="6.5">Seq2Seq</text>
<line class="rgb" x1="392.5" y1="232.5" x2="456.5" y2="225.0"/>
<path class="cg" d="M398 231.2L400 229.2L402 227.9L403.5 228.9L406 227.9L410 226.6L411.6 225.6L414 226.6L416.3 227.2L420 227.9L421.2 229.6L423.2 226.8L428 225.9L435 225.7L445 224.9L458 223.6L458 226.1L445 227.4L435 228.2L428 228.4L423.2 229.2L421.2 232.1L420 230.4L416.3 229.7L414 229.1L411.6 228.1L410 229.1L406 230.4L403.5 231.4L402 230.4L400 231.8L398 233.8Z"/>
<path class="pg" d="M393.8 240.6h0M396.3 234.4h0M453.7 224.5h0M427.9 226.5h0M404.9 229.9h0M414 227.1h0M422.2 230.1h0M440.3 226h0M413.6 227h0M412.1 227.7h0M402.7 229.7h0M439.5 226.5h0M396.5 234.2h0M444.3 225.4h0M407.2 229.5h0M393.6 241.9h0M431.4 226.3h0M405.7 229.1h0M402.5 230.4h0M442.1 226.1h0M451.7 225.3h0M449.8 226.1h0M439 225.8h0M420.5 229.5h0M397 233.4h0M435.1 227.6h0M446.8 225.5h0M424.2 227.1h0M399.3 230.9h0M411.8 227.3h0M423 228.3h0M448.1 226.6h0M455.5 224.4h0M441.6 225.8h0M411.2 226.4h0M440.5 225.7h0M411.4 226.4h0M418.3 228.3h0M438.9 226.1h0M400.1 230.8h0M428.7 227.1h0M411.4 227.8h0M434.9 227.2h0M428.5 228h0M393.5 243.3h0M420.5 233h0M399 231.1h0M416.9 229.3h0M419.8 229.1h0M426.3 227.8h0M448.1 225h0M426.3 228.3h0M432.7 226.7h0M422.6 229h0M395.2 237.5h0M432.5 227.2h0M418.7 229.4h0M394.4 238.7h0M442.8 225.7h0M405.7 228.5h0M401.8 228.4h0M424.7 227.5h0M422 229.2h0M428.3 227.3h0M449.5 224.9h0M416.2 228.7h0M414.8 228.4h0M407.2 229.1h0M427.6 226.8h0M454.3 226.1h0M419.1 228.6h0M407.5 228.9h0M449.7 225.6h0M433.3 227.7h0M454 225.2h0M417.8 227.8h0M427.1 228h0M450.9 225.3h0M419.7 229h0M414.5 227.4h0M420.2 229.7h0M452.4 224.9h0M396.5 235.1h0M401 230.6h0M439.3 226.6h0M408.2 228.7h0M442.4 225.6h0M400.4 229.9h0M428.5 226.6h0M420 229.8h0M436.2 227.2h0M418.6 228.6h0M457.3 225.1h0M401.9 229.4h0M420.5 229.8h0M454.3 224.4h0M405.2 228.6h0M424.1 227.6h0M413 226.9h0M403.8 229.8h0M421.1 231.1h0M450.9 225.4h0M437.9 227.5h0M439 226.8h0M419.1 228.8h0M454.4 226h0M417.6 228.5h0M454 225.5h0M402.2 229.1h0M448.8 226.2h0M431.4 226.6h0M422.4 228.3h0M403.1 229h0M416.7 228h0M423.5 228.4h0M394.4 238.4h0M402.8 229.6h0M408.8 227.5h0M448.7 225.2h0M412 227.5h0M446.9 226.6h0M431.2 227.1h0M406.6 228.4h0M406.2 229.4h0M411.7 226.9h0M449.2 225.8h0M406.1 229.4h0M421.9 229.2h0M454.5 224.7h0M410.5 227.3h0M444 225.7h0M428.1 226.5h0M429.6 227.2h0M430.6 227.1h0M450.3 226.5h0M407.4 229h0M440.8 226.4h0M438.9 226.5h0M408.4 229.2h0M446.5 226.5h0M401 229.1h0M431.1 226.6h0M436.4 226.4h0M437.5 226.2h0M417.5 229.2h0M438.8 226.6h0M408 229.2h0M434.7 226.6h0M446.3 226.4h0M453.6 224.4h0M457.6 224.6h0M434.9 226.6h0M403 229.7h0M416.5 228.7h0M423.6 227.7h0M405.2 229.4h0M429.2 226.4h0M444.4 226.4h0M411.2 226.9h0M404.9 229.2h0M400.1 231.2h0M436.8 227.1h0M408.2 229h0M457.7 224.7h0M442.3 226.4h0M440 226.1h0M409.2 228.1h0M400.3 229.8h0M446.2 226.2h0M404.7 228.9h0M404 229.3h0M395.4 236.1h0M454.6 226h0M407.8 228.4h0M411 227.8h0M443.6 226h0M420.2 230h0"/>
<path class="pg" d="M397.1 233.7h0M431.6 227h0M425.1 228h0M454.1 224.3h0M436.6 227.6h0M430.6 227.2h0M448.4 226.6h0M450.8 226.4h0M404.8 229.5h0M421.9 229h0M427.6 226.9h0M450 225.9h0M449 226.5h0M442.4 226.2h0M443.7 226.8h0M456.5 224.4h0M418.2 228.2h0M415 227.8h0M432.8 227.7h0M401.2 228.9h0M439.5 225.9h0M427 227h0M419.5 228.8h0M408.7 229h0M437.1 226.5h0M418.5 229.7h0M406 229.7h0M412.3 226.4h0M435.1 226.2h0M438.7 227.4h0M435.6 227.3h0M396.4 235.3h0M405.4 229.1h0M394 241.2h0M407.9 228.3h0M394 240.3h0M436.3 226.5h0M407.8 228.9h0M412.3 226.5h0M440.9 225.8h0M409.8 227.3h0M442.9 226.1h0M428.6 226.5h0M436.2 226.2h0M408.3 229.3h0M414.6 227.6h0M401.4 229.2h0M412.3 227.9h0M417.5 228.4h0M456.4 225.5h0M409.3 227.3h0M393.1 243h0M409.6 227.5h0M408 228.9h0M419.4 228.7h0M414.2 228.3h0M444.3 225.5h0M403.4 229.2h0M446.8 225.7h0M416.8 229h0M428.2 226.7h0M401.8 230.2h0M449.5 225.1h0M434 227.3h0M406.8 229.5h0M453.9 225h0M441.2 226.1h0M402.1 228.6h0M444.7 225.7h0M431.5 226.3h0M428.3 227.8h0M411.7 226.9h0M393.3 242.1h0M432.3 227h0M398.1 233.2h0M408.7 228.1h0M400.8 230.1h0M395.3 236.1h0M447.1 225.8h0M439.6 226.3h0M435.8 226.7h0M400.6 230h0M450.4 224.9h0M400.1 229.9h0M435.2 227.5h0M437.7 227h0M446.3 225.9h0M400.1 230.6h0M433.2 227.8h0M400.4 231.1h0M428.1 227.7h0M442.5 226.8h0M420.9 230.5h0M431.5 227.9h0M406.2 229.1h0M426.4 227h0M452.3 226.1h0M402 230.1h0M410.6 226.7h0M441.4 226h0M447.1 225.7h0M414.2 228h0M452.3 224.9h0M411.8 227.7h0M404.9 230.2h0M422.1 229.9h0M433.1 226.9h0M411.2 226.4h0M425.3 227.1h0M401.6 229.5h0M406.4 228.7h0M450.1 225.1h0M437.5 227.4h0M423.8 228.7h0M419.3 228.5h0M438.2 225.8h0M400.4 230.2h0M442.1 227h0M455.2 225.4h0M414 227.4h0M393.8 240.9h0M422.9 228.5h0M438.3 227.2h0M441.5 227h0M408.9 227.9h0M447.5 226h0M408.6 228.3h0M403.6 230.6h0M426.8 226.7h0M419.1 229.9h0M402.4 228.8h0M411.2 227h0M394.1 241.1h0M420.2 228.8h0M448.3 225.1h0M414.9 228.6h0M414 228h0M448 229h0M422.9 228.6h0M440.4 227.3h0M444 225.6h0M457.8 225.6h0M421.7 229.7h0M454.7 224.4h0M440.4 226.8h0M448.3 225.3h0M394.2 240.6h0M443.9 227.1h0M430.6 226.8h0M438 226.1h0M402.9 229.7h0M448.5 226.2h0M431.5 227.7h0M419.4 229.5h0M422.6 229.3h0M449.4 225.2h0M429.6 228h0M429.1 226.8h0M414 228.5h0M424.3 228.5h0M425.1 226.8h0M449.4 225.9h0M411.7 227h0M412.7 226.8h0M446.9 225.2h0M436.4 226h0M399 231.8h0M454.5 225.9h0M429.4 226.5h0M407.8 228.6h0M397 233.3h0M402.8 229.8h0M397.3 233.4h0M426 227.1h0M454.6 224.5h0M393.6 241.8h0"/>
<path class="pg" d="M452 225.4h0M400.2 231.3h0M408.8 228.6h0M440.3 226.5h0M418.2 228.1h0M443.3 227h0M456.4 224.8h0M432.3 226.7h0M453.9 225.6h0M434.3 226.3h0M451.2 225h0M402.9 229.3h0M409.6 228.3h0M447.2 226.5h0M451.3 224.7h0M422.5 229.2h0M452.2 226.2h0M436 226.1h0M394.1 240.1h0M402.9 230.7h0M399.3 230.4h0M419.5 228.6h0M411.1 228h0M427.7 226.7h0M420.2 229.2h0M411.8 227.3h0M434.6 227.7h0M415.2 228h0M423.9 228.6h0M395.8 236.3h0M447.8 225.6h0M446.9 225.8h0M415.5 228.3h0M409.3 228.4h0M396.8 234.2h0M446.5 226.8h0M420.2 229.9h0M436.3 227.4h0M447.3 226.2h0M393.5 241.4h0M410.3 228.3h0M431.2 226.5h0M446.6 225.2h0M448.3 226.4h0M443.8 226.7h0M447 225.7h0M405.9 229.8h0M403.5 230.2h0M447.9 225.1h0M441.4 226.6h0M447.9 225.1h0M435.8 226.5h0M406.5 229.6h0M454.5 225.7h0M440.2 226.4h0M444.8 227.1h0M453 226h0M404.2 230.5h0M401.3 229.8h0M429.2 226.5h0M415.2 227.6h0M413.5 227.6h0M405.1 229.4h0M424.3 227.1h0M457.5 225h0M451.1 225.4h0M401.5 228.7h0M455.1 224.4h0M439.4 226.6h0M403.2 229.7h0M405.7 229.9h0M445.2 226.8h0M454.2 225.7h0M405.2 230.1h0M441.9 226.7h0M424.2 228.5h0M443.9 226.3h0M418 229.1h0M456.3 224.2h0M420 228.5h0M408.9 227.3h0M439.5 226.4h0M437.1 227.1h0M415.2 227.8h0M419.6 229.6h0M448 226.8h0M441.2 226.4h0M402.3 229.3h0M395 237.6h0M453.9 224.9h0M436.7 226.9h0M447.9 226.1h0M424.6 227.9h0M411.9 226.6h0M449.9 224.9h0M420.1 228.7h0M440.2 227.3h0M444.4 226.1h0M426.3 227.4h0M410 227.6h0M439.8 226.6h0M412.3 227.2h0M404.9 229.4h0M426.7 226.5h0M421.9 229.9h0M425.3 228.3h0M423.8 228.6h0M425.8 227.6h0M457.7 225.2h0M432.5 226.5h0M455.3 224.9h0M393.2 244h0M405.7 230h0M429.9 227.8h0M421.4 230h0M404.6 230.2h0M424.3 228.6h0M402.4 229.4h0M443.7 226.7h0M401.2 229.8h0M439.3 226.8h0M401.6 229.8h0M429 226.9h0M408.7 227.4h0M454.3 225.1h0M429.9 227.8h0M405.7 229.4h0M427.8 227.3h0M434.7 227.5h0M438.2 226.9h0M412.7 226.9h0M443 226.4h0M423 229.1h0M457.1 224.5h0M393.2 242.5h0M447.9 226h0M453.8 225.8h0M413.5 227.8h0M403.8 230.6h0M431.1 226.6h0M418.1 228.5h0M450.3 225.7h0M415.3 228.6h0M442.4 226.8h0M395.3 236h0M443.3 225.5h0M438.8 227.5h0M410.8 227h0M412.8 227.1h0M430.2 227.2h0M417 228.1h0M456.2 225h0M410.6 226.5h0M414.6 228h0M450.1 224.8h0M451.7 226.2h0M400.6 230.3h0M407.7 229.2h0M439.2 226.2h0M431.1 227.1h0M457.9 225.1h0M427.3 228.1h0M419.8 230h0M415.3 228h0M437.9 225.9h0M425.6 226.8h0M430 226.7h0M441.6 226h0M413 226.9h0M395.2 237.5h0M429.9 226.6h0M401.2 230.3h0M444.6 225.7h0M399.2 230.6h0M401.1 230.2h0M419.2 228.8h0"/>
<path class="pg" d="M420.7 230.4h0M427.1 227.3h0M428.2 226.4h0M412.3 226.4h0M410.2 227.5h0M441.7 227h0M446.5 226.8h0M403.2 230.4h0M425.8 226.9h0M397.6 233.4h0M448 230.5h0M438.6 226.9h0M396.1 235.4h0M418.7 229.2h0M404.8 230.1h0M407.5 228.1h0M432.7 227.6h0M452 225.2h0M429.9 226.4h0M403.5 229.9h0M409.7 228.6h0M409.4 228.2h0M438.9 226h0M429.6 227h0M438.6 227.3h0M448.4 225.8h0M432.6 226.4h0M445.5 226.4h0M446.7 226.1h0M415.8 228.3h0M407.9 229.2h0M419.2 228.3h0M448.3 225.8h0M446.7 226h0M453.7 225.1h0M455.3 224.8h0M409.6 227.8h0M455.4 226h0M412 227h0M443.1 226.1h0M408.8 228.3h0M429.4 226.3h0M410.5 228.2h0M420.5 235h0M413.2 227.1h0M430 227.9h0M452.7 224.5h0M396 236.2h0M408.2 229.2h0M412.5 227.9h0M436 226.9h0M448 225.9h0M407.2 228.4h0M434.7 226.9h0M456.6 224.8h0M454.1 225.3h0M408.4 227.6h0M420 228.7h0M425.6 228.1h0M413.4 226.7h0M429.2 226.7h0M435.7 227.1h0M393.5 242.4h0M414.3 228.5h0M449.4 225.4h0M420.6 230.2h0M418.2 229.7h0M443.1 226.1h0M410.4 227.6h0M454.7 225.2h0M445.6 226h0M422.2 228.9h0M404.7 229.9h0M435.2 226.9h0M437.2 226.7h0M442 225.6h0M422.1 229.1h0M438.6 226.7h0M413.4 227.3h0M435.7 227.5h0M398 232.1h0M448 225.3h0M431.7 227.1h0M427.8 228.1h0M429.2 227h0M447 226.5h0M415.1 227.6h0M449.7 225.9h0M452.9 226.1h0M396.7 235h0M407.3 228.9h0M431.9 227.6h0M445.1 225.3h0M395.5 236.6h0M429.5 226.8h0M435.4 227.1h0M447.6 225.8h0M398.7 231h0M416.9 229.2h0M418.2 228.8h0M440.9 227h0M434.1 226.9h0M407.4 228.2h0M442.6 225.9h0M414.9 227.3h0M410.5 226.8h0M431.6 226.2h0M439.6 226.2h0M402.8 229h0M406.7 228.2h0M453.6 225.2h0M427 227h0M399.6 230.5h0M439.6 225.9h0M418.7 228.2h0M438.6 226.8h0M432.6 227.5h0M395.2 236.3h0M452.2 225.6h0M406.7 229.3h0M404.8 230.4h0M403.5 230.4h0M454.6 225.7h0M427.9 227.8h0M450.3 225.1h0M421.8 229.1h0M433.2 226.1h0M449.5 226.2h0M437.9 226.9h0M442.3 226.9h0M399.7 230.8h0M449.4 225.6h0M406.4 228.8h0M420.5 237h0M402.9 229.1h0M423.9 228.7h0M408.7 227.4h0M448.9 224.9h0M422.2 228.5h0M449.2 224.8h0M433.3 227.2h0M454.4 225.7h0M401.4 228.8h0M408.5 229.2h0M418.5 228.2h0M436.2 226.5h0M421.5 230.6h0M438.2 227h0M398.5 232.4h0M427.9 227h0M439.7 227.3h0M410 227.8h0M399.7 229.9h0M398.2 232.9h0M447.1 226.3h0M414.9 228.5h0M416.7 228.7h0M434.3 226.4h0M437.4 226.9h0M431.2 227.4h0M449 225.7h0M414.6 228.2h0M452.1 224.8h0M453.6 225.6h0M430.9 226.3h0M423.3 228.6h0M409.2 228.4h0M404.9 230.4h0M441.4 225.7h0M454.4 225.8h0M413.9 227.1h0M424 227.4h0M430.2 227.6h0M417.6 228.2h0M432.9 226.5h0M410 227.8h0"/>
<circle class="mk" cx="429.6" cy="227.7" r="1.5"/>
<path class="ax" d="M199.9 213.89V261.09M199.4 260.59H270.4"/>
<text class="tk" x="202.90" y="271.09" text-anchor="middle">0</text>
<text class="tk" x="234.90" y="271.09" text-anchor="middle">200</text>
<text class="tk" x="266.90" y="271.09" text-anchor="middle">400</text>
<path class="ax" d="M196.4 218.49H199.9M196.4 237.59H199.9M196.4 256.69H199.9M202.90 260.59000000000003v3M234.90 260.59000000000003v3M266.90 260.59000000000003v3"/>
<text class="ttl" x="234.90" y="282.19" text-anchor="middle">Epoch</text>
<text class="ann" x="267.90" y="235.19" text-anchor="end" font-size="6.5">p-val: <tspan dy="0.7" stroke-width="0.12" fill="#222" stroke="#222">***</tspan></text>
<text class="ann" x="267.90" y="242.59" text-anchor="end" font-size="6.8"><tspan font-style="italic">R</tspan><tspan dx="0.5" dy="-2.6" font-size="5.2">2</tspan><tspan dy="2.6">: 0.82</tspan></text>
<rect class="lg" x="202.13" y="246.39" width="64.77" height="11.00"/>
<circle class="ldp" cx="210.93" cy="251.89" r="1.5"/>
<text class="ann" x="264.70" y="254.19" text-anchor="end" font-size="6.5">SCAResNet18</text>
<path class="cp" d="M202.5 219.4L268 220L268 223.4L202.5 223.4Z"/>
<path class="pp" d="M261.5 223h0M207.5 223.8h0M223.8 219.5h0M204.5 219.7h0M236 220.1h0M262.3 222.1h0M258.7 220.2h0M233.3 220.1h0M244.9 221.4h0M243 221h0M248.4 221.9h0M218.2 220.5h0M206.7 220.1h0M237.6 220.4h0M221.7 220.8h0M224 221.4h0M221.8 219.5h0M222.2 223.9h0M246.3 220.2h0M218.8 220.3h0M246.8 221.1h0M210.2 222.9h0M244.6 223.1h0M266.8 223.2h0M247.7 219.4h0M217.2 223.1h0M225 221.1h0M203.8 223.4h0M229.2 221.5h0M206.8 219.1h0M266.2 221.6h0M212.9 221.3h0M209.7 220.6h0M245.2 223.2h0M220 222.5h0M254.7 222.7h0M249.5 221.1h0M247.3 220.3h0M241 221.4h0M264.4 222.7h0M240.3 221.6h0M203.9 220.7h0M236.9 219.6h0M209.1 222.6h0M229.1 222.3h0M205.9 221.8h0M216.8 220h0M244.3 220.9h0M227.6 222.2h0M244.6 219.8h0M252.8 219.4h0M234.4 224.1h0M230.7 224h0M237.2 219.1h0M255.6 219.4h0M239 220.7h0M240.2 223h0M257.3 222.9h0M241.5 220.6h0M261.9 223h0M231.8 222.9h0M227.2 222.4h0M209.5 222h0M248.2 222.3h0M225.5 224h0M246.8 223h0M260.1 220.7h0M218.1 220.6h0M224 222.1h0M243.5 221.7h0M209.7 219.9h0M211.7 222.2h0M260 223.5h0M223.5 220.7h0M248.7 223.4h0M231.1 221.2h0M244.9 221.2h0M218.4 223.4h0M203.3 221.6h0M223.3 223.9h0M234.1 222.4h0M212.8 223.9h0M215.3 223.2h0M261.8 222.4h0M255.1 220h0M231.6 223.7h0M243 222.1h0M221.5 222.5h0M252.7 219.3h0M236.4 221.5h0M257.7 221.9h0M207.9 221.3h0M213 221.9h0M227.9 219.3h0M236.4 220h0M245.8 219.7h0M212.7 223.9h0M209.4 220.5h0M212.8 219.1h0M216.9 220.9h0M235.8 221.4h0M208.3 222.9h0M204.5 218.9h0M239.2 223.8h0M253.1 223.4h0M236.9 223.4h0M222.6 223.9h0M245 221.4h0M232.8 219.1h0M248.7 220h0M233.5 224.1h0M251.8 219.8h0M219.7 223.8h0M220.7 223h0M252.8 221.4h0M210.5 220.6h0M259.1 221h0M242.6 222.3h0M244.4 221.8h0M216.8 219.9h0M235.2 223.8h0M252.1 222.6h0M247.5 221.3h0M261.6 221.1h0M259.3 223.1h0M225.4 221.4h0M223.4 219.2h0M228.9 220h0M219.7 221h0M267.8 221.4h0"/>
<path class="pp" d="M215.3 221.3h0M214.7 221.2h0M237.1 222.1h0M222.3 219.4h0M263.8 221.8h0M223.8 221.7h0M205.4 220.2h0M254.4 223.5h0M263.2 220.3h0M235 221.9h0M248.8 219.9h0M235.3 221.8h0M260.9 221.9h0M257.8 223h0M257.9 220.9h0M262 223.5h0M247 220.7h0M225.9 222.4h0M226.5 223.2h0M213.2 219.8h0M225 221.7h0M209.3 223.8h0M253 220.5h0M215.5 220.2h0M251.2 221.7h0M226.3 219.7h0M265 224h0M260.4 222.7h0M237.8 220.7h0M205.8 223.1h0M205 220.9h0M252 221.7h0M218.2 222.5h0M263.1 222.9h0M238.2 221.8h0M202.8 221.5h0M267.9 222.1h0M266.2 220.5h0M236.9 223.4h0M203.5 223.9h0M220.9 222h0M253.3 223.2h0M235.5 221.5h0M251 221.9h0M218.2 223.2h0M245.7 222.9h0M233.5 220.3h0M238.1 224h0M217.9 219.6h0M254.4 219.9h0M257.5 220.1h0M255.8 223.4h0M235 221.8h0M237.1 219.3h0M254.6 221.6h0M263.7 220.4h0M244.3 220.2h0M244.5 222h0M226.9 219.5h0M258.7 219.8h0M211.5 222.6h0M205.8 223.1h0M263.6 222.4h0M227.7 221.3h0M256.8 221.5h0M224 219.6h0M225.6 223.3h0M254.8 221.2h0M226.7 224h0M205.1 222.9h0M246.9 223.4h0M227.4 222.8h0M250.5 219.9h0M224.5 222.8h0M205.2 219.6h0M217 219.9h0M205.8 221.5h0M254.4 221.9h0M214.3 222.1h0M239.3 221.7h0M224.7 219h0M245.4 221.4h0M204.1 224h0M256.4 223.6h0M212.3 223.8h0M217 221.1h0M211.3 224.1h0M251.6 219.3h0M203.5 220.6h0M202.8 223.7h0M262.2 223.9h0M247 223.7h0M256.2 222.6h0M263.5 219.4h0M254.7 219.7h0M213.7 219.6h0M210.9 222.9h0M249.6 221.7h0M203.5 223.7h0M233.9 220.7h0M226.5 220.6h0M231.2 223.9h0M248 222.9h0M241.9 220.7h0M207.6 223.1h0M236.3 222.5h0M264.4 224h0M243.2 222.2h0M255.3 222.2h0M214.2 222.2h0M205 223.3h0M215.1 221.6h0M242.9 219.1h0M257.1 219.4h0M242.7 223.3h0M250.9 219.4h0M204 222.2h0M251.7 221.1h0M249.8 222.1h0M231 221h0M260.5 222.7h0M266.2 222.8h0M232 219.4h0M233.4 222.9h0M236.1 219.1h0M260.5 220.5h0M255 221.1h0M221.8 223.8h0M244.5 221.1h0M228.1 220.4h0"/>
<path class="pp" d="M220.6 220.8h0M258 222.7h0M234.5 221.2h0M227.3 220.2h0M243.5 220.9h0M238.9 219.5h0M267.1 221.6h0M228.7 222.9h0M256.5 220.4h0M231.6 221h0M231.6 223.5h0M242.1 222.1h0M223.1 223.3h0M247.7 223.2h0M243.6 221.5h0M223.4 219.6h0M213.4 222.6h0M259.2 221.3h0M226.7 219.3h0M255.2 222h0M248.8 223.3h0M213.5 220.7h0M256 222.2h0M224.2 222.3h0M207.9 223.1h0M216.7 222.9h0M208.6 222.7h0M242.4 223.3h0M250.2 221.4h0M209.3 223.6h0M205 223.4h0M265.7 222.4h0M259.1 219.4h0M221.7 220h0M224.4 220.4h0M228.5 222h0M246.5 223.3h0M242.1 222.7h0M218.9 221.6h0M256.1 223h0M204.9 224.2h0M267.4 222.3h0M255.4 222h0M260.1 219.7h0M231.5 219h0M213.2 223.2h0M231.4 221h0M265.1 222h0M223.3 220.8h0M265.9 222.2h0M248.7 220.3h0M216.2 219.4h0M214.4 221h0M258.6 220.2h0M265 221.8h0M212.2 223.8h0M227.1 222.8h0M240.4 223.8h0M250.9 219.6h0M203.5 223.4h0M267.7 222.4h0M255.5 222.3h0M219.9 222.9h0M226.6 223.4h0M233.7 219.1h0M250 220.1h0M237.6 220.1h0M223.3 223.6h0M207.5 223.1h0M223.8 221.6h0M209.5 220.6h0M254.9 221.9h0M259.2 221h0M203.9 218.6h0M243.8 220h0M221.1 222.7h0M229.1 222h0M257.5 222.3h0M212.6 220.4h0M243.9 222.1h0M239.8 219.2h0M208 218.8h0M253.2 220.6h0M254.4 221.3h0M222.5 220.1h0M238.7 219.6h0M260.8 221.1h0M204.1 222.5h0M245.3 222.5h0M233.1 223.7h0M254 221.4h0M204.8 220.6h0M263.6 220.9h0M258 219.3h0M230.6 220.7h0M218.8 221.6h0M204.3 222.4h0M254.1 222.5h0M236.9 220.5h0M259.7 220h0M214.8 220.9h0M266 223.4h0M264.4 223.5h0M215.9 223.3h0M204.5 222h0M248.9 220.8h0M218 224h0M251.2 221.7h0M235.7 223.3h0M249.2 219.4h0M238 223.7h0M218.2 221.7h0M248.5 219.8h0M214.8 219.2h0M229.3 221.2h0M250.2 223.4h0M258.1 219.7h0M259.8 219.7h0M266.6 221.9h0M220.9 219.6h0M202.9 223.6h0M241 223.3h0M211.3 218.8h0M203.2 221.8h0M254.6 223.6h0M219.9 221.1h0M256.4 221h0M216.4 220.5h0M266.4 219.7h0M267.7 221.2h0"/>
<path class="pp" d="M246.2 219.6h0M221.9 220.7h0M236.8 224h0M213.2 221.3h0M208.7 222.2h0M221.3 219.7h0M233.3 219.7h0M247.5 223.5h0M205.3 219.5h0M221.5 220.6h0M222.3 220.4h0M237.7 221.9h0M263 223.5h0M211.3 224.2h0M204.5 222.9h0M248.5 220.5h0M217.4 224h0M217.5 220.4h0M209.5 218.8h0M223.8 219.1h0M203 222.5h0M252.8 220.6h0M225.6 221.2h0M246.2 219.9h0M247.6 219.5h0M209.5 224.2h0M214.4 222.3h0M232.3 219.5h0M206.3 220.4h0M211.7 220.1h0M256.3 221.7h0M267.8 223.9h0M254.5 222.8h0M227 221.1h0M256.4 222.3h0M242.3 220.4h0M233.8 221.4h0M256.2 222.8h0M245.2 219.2h0M253.8 221.6h0M214.1 219.3h0M221.7 221.5h0M229.4 219.5h0M232.3 222.3h0M228.5 219.6h0M219.2 222.7h0M208.3 221.9h0M232.8 221.4h0M265.2 220.4h0M241.9 220.4h0M225 219.4h0M238.6 223.9h0M234.3 222.5h0M255.6 222h0M220.3 221.2h0M217.3 220.1h0M215.9 219.5h0M257.2 221.5h0M224.4 220.3h0M259.2 223.7h0M222.8 219.3h0M207.5 218.7h0M266.6 220.7h0M234.6 221.9h0M214.5 220.7h0M216.3 222.5h0M250.8 222.2h0M255.1 219.4h0M242.1 222.1h0M206.5 221.6h0M202.7 219.5h0M221.2 222.1h0M228.7 219h0M262.7 219.6h0M232 223.9h0M247.4 219.2h0M255.4 221.5h0M264.2 222.5h0M219.3 221.6h0M206.2 218.8h0M216.2 223.8h0M214.6 223.1h0M248.5 221.9h0M261.6 223.5h0M218.1 219.4h0M224.3 220h0M215.2 223.5h0M227.3 223.7h0M207.6 219.7h0M267.2 221.5h0M216.5 221.4h0M234.5 221.8h0M209.2 223.3h0M240.7 222.6h0M241.8 222.4h0M250 221.4h0M210.2 222h0M249.9 223.3h0M221.7 219.5h0M238.3 223.2h0M259.8 220.6h0M265.1 223.3h0M231.4 220.9h0M205.7 220.7h0M248.1 222h0M223.8 223.9h0M237.2 224h0M215.6 223.3h0M246.4 220.1h0M218.1 222.2h0M245.7 222.2h0M257 223.1h0M231.7 223h0M222.2 221.4h0M244.8 219.5h0M236.4 220.9h0M238.2 222.8h0M240.7 223h0M205.8 218.8h0M233.4 220.1h0M256.5 222.1h0M223.2 221.3h0M233.5 222.5h0M262.2 222.1h0M202.6 221.5h0M222.4 219.7h0M239.6 222.1h0M226.5 221.2h0M253.4 223.6h0M234.5 220.5h0"/>
<line class="rga" x1="202.5" y1="220.6" x2="266.5" y2="223.0"/>
<circle class="mk" cx="215.8" cy="219.3" r="1.5"/>
<path class="ax" d="M471.5 213.89V261.09M471.0 260.59H542.0"/>
<text class="tk" x="474.50" y="271.09" text-anchor="middle">0</text>
<text class="tk" x="506.50" y="271.09" text-anchor="middle">200</text>
<text class="tk" x="538.50" y="271.09" text-anchor="middle">400</text>
<path class="ax" d="M468.0 219.49H471.5M468.0 235.79H471.5M468.0 252.09H471.5M474.50 260.59000000000003v3M506.50 260.59000000000003v3M538.50 260.59000000000003v3"/>
<text class="ttl" x="506.50" y="282.19" text-anchor="middle">Epoch</text>
<text class="ann" x="539.50" y="235.19" text-anchor="end" font-size="6.5">p-val: <tspan dy="0.7" stroke-width="0.12" fill="#222" stroke="#222">***</tspan></text>
<text class="ann" x="539.50" y="242.59" text-anchor="end" font-size="6.8"><tspan font-style="italic">R</tspan><tspan dx="0.5" dy="-2.6" font-size="5.2">2</tspan><tspan dy="2.6">: 0.82</tspan></text>
<rect class="lg" x="473.73" y="246.39" width="64.77" height="11.00"/>
<circle class="ldg" cx="482.53" cy="251.89" r="1.5"/>
<text class="ann" x="536.30" y="254.19" text-anchor="end" font-size="6.5">SCAResNet18</text>
<line class="rgb" x1="473.5" y1="221.6" x2="537.5" y2="219.8"/>
<path class="cg" d="M477 219.6L485 219.8L490 220.4L495 219.6L500 219.4L504 219.2L508 220.8L515 220.6L520 220.2L530 219.6L538 219.2L538 221.6L530 222L520 222.6L515 223L508 223.2L504 221.8L500 222L495 222.2L490 223L485 222.4L477 222.2Z"/>
<path class="pg" d="M527.6 220.7h0M530.5 219.9h0M482.8 222h0M506.7 222.1h0M513.4 222.3h0M486.5 221.9h0M476.1 221.3h0M526.5 220.2h0M479 221.2h0M477.6 220h0M532.3 219.8h0M479.8 221.9h0M511.1 220.9h0M474 227h0M536.7 219.5h0M534 220.7h0M480 224h0M532.6 219.9h0M534.9 219.8h0M485.4 220.6h0M534.6 219.9h0M496.1 221.9h0M536.1 221.5h0M505.5 221.1h0M480 220h0M501.9 221.3h0M477 220.3h0M480.7 221.4h0M515.9 222.4h0M495.4 220.2h0M511.8 222.4h0M475.3 222h0M517.9 221.2h0M479.6 220.4h0M516.1 220.8h0M482 221.6h0M485.5 220.1h0M475.5 224.3h0M512.5 221h0M478.4 220.5h0M535.5 221.4h0M501.2 221.5h0M492.2 221.4h0M484.2 220.1h0M488.3 221.4h0M499.1 221.7h0M518.7 220.7h0M526.6 220.5h0M495.4 221.6h0M492.3 220.6h0M530.5 220.6h0M486.7 220.3h0M491.1 221h0M476.2 221.4h0M475 227.2h0M517.3 221.4h0M485.8 220.1h0M513.5 221.9h0M534.6 219.9h0M505.5 222h0M503.1 220.8h0M533.2 220.2h0M523.5 221.7h0M486.1 220.2h0M504 220.1h0M511.5 220.8h0M534.4 219.9h0M498.5 221.2h0M497.7 221.2h0M537.7 220.3h0M475.7 224.2h0M523.1 220.9h0M494.2 220.4h0M532.2 219.9h0M497.5 219.9h0M510 222h0M496.1 220.3h0M514.6 221.6h0M525.4 221.5h0M503.1 220.3h0M490.8 221.9h0M505.1 219.9h0M499.9 220.4h0M536.7 220.5h0M513 221.5h0M520.3 220.5h0M484.4 220.2h0M497.3 220.5h0M483.4 221h0M532.3 220.4h0M516.7 221h0M526.6 220h0M491.2 222.3h0M487.9 221.2h0M529 221.7h0M522.4 222.1h0M510.9 222.7h0M507.8 221.5h0M496.9 221.3h0M496.7 221.8h0M528.5 220.8h0M503.8 220.3h0M497.8 220.1h0M518.7 221.2h0M490.2 220.8h0M503.1 220.9h0M489.9 220.8h0M476.9 220.8h0M493.4 220.4h0M482.9 221.8h0M483.2 221.8h0M525.1 221.8h0M536.4 220.8h0M500.3 221.4h0M474.8 227h0M527 220.5h0M503.1 219.5h0M486.3 221.6h0M501 220.9h0M487.9 222.2h0M530.1 220.2h0M506.5 221.3h0M524.4 221.9h0M516.2 222.2h0M515.5 222.3h0M518 225h0M508.6 222.3h0M510 222.1h0M516.4 221.3h0M486.7 221.9h0M506.1 221.8h0M506.2 222.3h0M499.4 220.1h0M501.5 221.7h0M482.7 222.1h0M490.5 221.9h0M512.2 221.6h0M515.7 220.8h0M508.1 222.1h0M488.6 221.1h0M484.4 221.8h0M531.4 220.7h0M484.5 220.8h0M535.1 221.3h0M537.9 219.5h0M480.1 221.2h0M503 219.7h0M487.2 221.1h0M532.7 220.7h0M520.3 221.8h0M529.3 220.5h0M506.3 221.3h0M529.4 220.8h0M517.7 222.1h0M496.5 220.8h0M508.6 222.5h0M532.2 220.8h0M509.4 221.3h0M500.1 219.7h0M532.9 221.3h0M497.5 221.2h0M486.4 221h0M528.5 220.2h0M503.9 220.3h0M488 224.5h0M525 220.2h0"/>
<path class="pg" d="M533.2 219.9h0M492.1 221.1h0M514.7 221.2h0M493.8 221h0M527 221.8h0M528.8 220.5h0M477.3 221.1h0M509.7 222h0M486 223.5h0M513.6 222.2h0M510 221.9h0M488.4 220.9h0M479.5 221.5h0M517.3 221.9h0M481 220.6h0M493.6 221.2h0M505.7 221.2h0M500.9 219.6h0M494 220h0M530.6 220.7h0M533.9 220.9h0M516.3 221.1h0M515.7 222.1h0M507.5 221h0M506.1 221.6h0M529.1 221.4h0M519.7 220.8h0M518.1 222.5h0M533.7 219.7h0M513 221.7h0M523.2 221.3h0M535.5 220.6h0M516.7 221.2h0M500.6 221.5h0M502.6 220.5h0M485.3 220.2h0M533.1 220.1h0M537.3 220.4h0M519.3 221.4h0M494.5 220.3h0M531.2 220.3h0M498.8 221.8h0M526.8 220.5h0M505.3 219.9h0M524.2 221.3h0M474.3 225.5h0M490.3 221.2h0M515.5 221.5h0M509.7 220.9h0M498.5 221.7h0M513 221.9h0M509.7 221.4h0M484.6 220.3h0M475.3 226.2h0M517.8 221.5h0M518.8 221.5h0M492 220.5h0M531 221.2h0M499.5 220.2h0M519.2 222h0M516.6 222.2h0M516.1 220.9h0M486.4 221.7h0M497.6 219.8h0M511.7 221.2h0M533.1 221h0M499.3 220.3h0M514.2 221h0M510.9 222.3h0M496.7 220.4h0M502.3 221.2h0M489.3 222.6h0M519.5 222.1h0M490.9 221.9h0M508.9 222.9h0M508.3 221.3h0M481.6 220.8h0M477.4 220.9h0M516.8 221.8h0M521.1 220.6h0M497 221.3h0M507.5 221.6h0M525.9 220.7h0M503.9 221h0M511.7 221.2h0M532.2 221.7h0M482.1 220.5h0M516.7 221.1h0M495.7 221.8h0M478.5 220.5h0M535.8 220.5h0M527.6 221.6h0M504.6 221.2h0M521.8 222.1h0M521.3 220.4h0M527.7 220.8h0M525.4 220.6h0M476.2 223h0M537.7 220.5h0M475.6 225.1h0M504.9 221.1h0M533.9 220.9h0M508.2 222.8h0M481.6 221.6h0M521.1 221.6h0M524 220.3h0M515 220.7h0M477.3 220h0M493.5 220.9h0M488.2 221h0M529.1 221.2h0M488 221.1h0M485.6 220.7h0M526.6 220h0M474.9 223.9h0M525.1 220.6h0M477.1 220.8h0M528.2 220.9h0M481.7 220h0M492.4 220.3h0M515 221h0M491 221h0M512 228.5h0M496.5 221.5h0M515.9 220.9h0M491.7 220.5h0M505.4 221.8h0M491.7 222.2h0M503.4 220.2h0M501.4 221.4h0M483.1 221.4h0M497.6 221.7h0M506.8 221.1h0M486 221h0M520.6 221.4h0M511.1 222.8h0M533.4 220.1h0M521.3 222.3h0M498.8 219.7h0M475.3 226.3h0M515.1 222.3h0M532.5 220.8h0M488.8 221.5h0M495.1 222h0M529.5 220.7h0M501 221.2h0M481.8 221.7h0M485 222.1h0M509.7 221h0M473.9 229.3h0M487.5 222.2h0M505 226h0M480.4 220.8h0M532.3 220.8h0M496.2 221.3h0M537.7 220h0M490.2 221.7h0M515 222.6h0M508.3 221.5h0M522 222h0M474.1 226h0M488.8 222.1h0M526.9 221h0M529.2 221.6h0M520 221.1h0M488.5 222.2h0"/>
<path class="pg" d="M534.4 221.4h0M499.3 221.7h0M487.1 220.4h0M507.2 222.2h0M482.8 221.8h0M494.3 220.6h0M512.7 221h0M486.2 220.7h0M511.8 222.4h0M475.3 225.5h0M491.1 220.8h0M510.6 222.5h0M500 221.2h0M498.5 221.5h0M518 222.3h0M514.7 221.1h0M486.4 220.4h0M504 220.5h0M503.9 220.7h0M477.1 221.5h0M500.4 220h0M535.6 219.5h0M525.3 220.3h0M535.3 220.4h0M502.7 220.4h0M522.4 221.5h0M531.5 220.9h0M518.4 222.2h0M473.9 230.3h0M532.3 220.6h0M531.9 220.1h0M509.1 222.7h0M488.4 221.8h0M498.1 220.5h0M508.2 221.6h0M488.8 222.3h0M473.6 229h0M524 221.9h0M496.1 220.9h0M511.2 221.7h0M483 221.7h0M497.6 220.8h0M508.9 221.9h0M482.7 222h0M492.4 222.1h0M537.5 220.1h0M503.1 220.6h0M512.7 221.9h0M525.1 221.4h0M511.2 221.6h0M510.9 221.6h0M522 220.4h0M477.1 221.8h0M474 230.3h0M488.7 220.9h0M532 219.8h0M498 220h0M509.7 222.5h0M515.5 222.1h0M486.6 222.1h0M507.8 221.3h0M476.9 220.1h0M537.1 221.1h0M521.3 220.8h0M510 220.9h0M494.8 220.4h0M473.7 231.3h0M493.4 220.5h0M494 220.6h0M528.6 220.8h0M536.6 220.4h0M523.8 221.6h0M515.2 222.2h0M476.1 223.3h0M491.6 222.3h0M517.6 221.5h0M536.4 219.5h0M512.5 222.4h0M534.6 220.8h0M493.8 221h0M529 220.3h0M488.6 220.7h0M492.7 220.3h0M498.3 220.5h0M518.9 221.8h0M504.9 220.6h0M532.5 219.9h0M493.2 222.3h0M491.9 222.1h0M505 227.5h0M500.5 220h0M503.3 221.1h0M513.2 222.5h0M524.1 221.4h0M522.3 222.2h0M514.9 220.7h0M487.5 222.4h0M505.9 221.1h0M489 221.4h0M485.9 222h0M533.1 221.4h0M511.3 221.5h0M496 220h0M477.2 220.4h0M535.4 219.8h0M524.8 220.4h0M492.2 221.8h0M494 225h0M499 224.5h0M496.5 221.5h0M527.2 220.4h0M521.5 221.4h0M512 227h0M484.8 220.2h0M528.5 220h0M489.5 221.5h0M521.2 221.4h0M501.4 221.4h0M510.5 220.9h0M482.7 221.6h0M517.4 222.5h0M487.6 221.7h0M522.8 220.4h0M525.9 220.8h0M513.7 222.3h0M477.9 220h0M502.8 221.2h0M516.3 222.4h0M512 221.2h0M508.1 221.2h0M516.8 221.5h0M525.6 221.6h0M537.7 220.1h0M482.5 221.9h0M508.1 222.4h0M491.9 220.8h0M492.4 221.3h0M513.5 221.2h0M537.6 220.4h0M491 221.9h0M500.2 221.6h0M511 221.2h0M531.3 221.8h0M495.1 221.7h0M530.2 219.9h0M525.3 220.1h0M488.8 221.5h0M527.6 220.8h0M527.6 221.4h0M494 226h0M529.7 221.6h0M515.3 221.8h0M489.7 221.8h0M531.3 221.4h0M480.2 220.8h0M483.5 221.2h0M500.2 220h0M499.2 220.8h0M492.2 220.9h0M528.9 220.9h0M503.2 220.5h0M495.5 221.5h0M512.3 222.6h0M532 220.3h0M536.6 221.3h0M531 220.7h0"/>
<path class="pg" d="M512.6 221.5h0M533.5 220.1h0M513.4 222h0M501.9 219.8h0M499.7 221.6h0M487.1 221h0M513.3 221.1h0M523.1 220.7h0M507.9 221.9h0M478.1 221.1h0M504.8 221.1h0M486.6 220.5h0M530.2 221h0M492 220.9h0M506.7 220.7h0M510.3 222.2h0M519.5 220.6h0M493.7 220.4h0M519.8 220.6h0M526.5 220.5h0M476.5 220.9h0M519.6 222.1h0M530.3 220.1h0M529.7 221.4h0M508.3 221.9h0M495.9 220.7h0M499.7 220.8h0M531.9 220.4h0M495.2 222h0M502.3 220.2h0M530.5 221.8h0M492 221.8h0M475.5 223.6h0M510.2 220.9h0M501.2 221.1h0M526.5 221.5h0M528.2 221.1h0M516.3 221h0M488.3 221.2h0M503 219.9h0M498.1 220.1h0M490.3 222.4h0M482.2 221.5h0M508.3 222h0M480.5 221.6h0M495.9 221.2h0M507.6 222.3h0M484 220.4h0M492.8 220.6h0M477.7 220.7h0M493.7 221.6h0M517.6 220.6h0M509 221h0M483.2 220.9h0M525.9 221.4h0M536.9 220h0M506.6 221h0M477.9 221h0M481 221.9h0M528.4 221h0M528.7 220.4h0M525 220.3h0M503.8 221.3h0M528.7 220.4h0M504.5 221.1h0M513.7 221h0M487 220.9h0M521.6 221.9h0M503.5 221h0M487.7 220.8h0M478.8 221.5h0M505.4 220.6h0M498.7 220.7h0M528.7 221.6h0M482.9 220.3h0M509.8 221.2h0M518 221.9h0M531.1 220.2h0M488.6 221.1h0M513.4 222.7h0M508.6 221.6h0M500.2 220.5h0M495.8 221.5h0M515.1 222h0M524.6 220.7h0M490.9 221.2h0M535.2 221.5h0M504.3 219.8h0M535.8 220.1h0M492.9 221.3h0M485.9 220.9h0M520.8 221h0M535 220.4h0M480.8 220.9h0M535.9 220.9h0M497 221.8h0M486.6 222.3h0M520.7 220.5h0M492.8 221.1h0M494.1 220.6h0M498 220.9h0M518.1 220.7h0M523.6 221.3h0M524.9 221.6h0M481.4 220.6h0M510.8 221.8h0M529.9 220.5h0M500.5 220.2h0M527.2 222h0M488.3 222h0M482.6 221.2h0M488.5 221h0M506.1 220.2h0M511 221.7h0M473.8 229.4h0M496 220.7h0M492.5 220.7h0M500.5 221.5h0M514.6 221h0M507.8 222.1h0M534.1 221h0M530 224h0M477.3 221.8h0M492.1 220.9h0M517.2 221.6h0M520.6 221.5h0M482.2 221h0M519.3 220.6h0M480.2 221.5h0M477.5 220.1h0M486.8 222h0M521.7 221.8h0M527 220.7h0M487.5 220.4h0M531.7 220.6h0M522.5 221.8h0M537.4 221.4h0M537.4 220.2h0M505.5 220.2h0M481.2 221.2h0M510.1 221.5h0M512.6 221.6h0M480 225h0M485.4 220.6h0M531.1 220.9h0M487.4 222.2h0M502.9 219.8h0M536.5 219.6h0M498.6 219.8h0M480.2 221.7h0M530.4 220.1h0M510.7 222h0M507.2 221.9h0M513.3 220.8h0M524.6 220.3h0M523.7 220.7h0M491.3 220.8h0M481.6 220.8h0M478.6 221h0M497.3 220.6h0M492 220.8h0M487.4 220.6h0M475.7 221.9h0M502.1 221.3h0M486.1 222.3h0"/>
<circle class="mk" cx="487.5" cy="219.8" r="1.5"/>
<text class="tk tkc" x="31.20" y="308.60" text-anchor="end">0.80</text>
<text class="tk tkc" x="31.20" y="328.20" text-anchor="end">0.75</text>
<text class="tk tkc" x="31.20" y="347.80" text-anchor="end">0.70</text>
<text class="tk tkc" x="31.20" y="367.40" text-anchor="end">0.65</text>
<text class="ttl ttc" transform="translate(15.6,332.8) rotate(-90)" text-anchor="middle">AUC</text>
<text class="tk xl" transform="translate(43.30,380.80) rotate(-15)" text-anchor="end">AlexNet</text>
<text class="tk xl" transform="translate(63.01,380.80) rotate(-15)" text-anchor="end">BiRNN</text>
<text class="tk xl" transform="translate(82.72,380.80) rotate(-15)" text-anchor="end">CNN</text>
<text class="tk xl" transform="translate(102.43,380.80) rotate(-15)" text-anchor="end">ConvMixer64</text>
<text class="tk xl" transform="translate(122.14,380.80) rotate(-15)" text-anchor="end">DSConv</text>
<text class="tk xl" transform="translate(141.85,380.80) rotate(-15)" text-anchor="end">LSTMCNN</text>
<text class="tk xl" transform="translate(161.56,380.80) rotate(-15)" text-anchor="end">MobileNetV2</text>
<text class="tk xl" transform="translate(181.27,380.80) rotate(-15)" text-anchor="end">ResNet18</text>
<text class="tk xl" transform="translate(200.98,380.80) rotate(-15)" text-anchor="end">ResNet50</text>
<text class="tk xl" transform="translate(220.69,380.80) rotate(-15)" text-anchor="end">RNN</text>
<text class="tk xl" transform="translate(240.40,380.80) rotate(-15)" text-anchor="end">Seq2Seq</text>
<text class="tk xl" transform="translate(260.11,380.80) rotate(-15)" text-anchor="end">SCAResNet18</text>
<path class="ax" d="M34.5 293.5V372.0M34.0 371.5H270.5M31.5 306.00H34.5M31.5 325.60H34.5M31.5 345.20H34.5M31.5 364.80H34.5M44.10 371.5v2.5M63.81 371.5v2.5M83.52 371.5v2.5M103.23 371.5v2.5M122.94 371.5v2.5M142.65 371.5v2.5M162.36 371.5v2.5M182.07 371.5v2.5M201.78 371.5v2.5M221.49 371.5v2.5M241.20 371.5v2.5M260.91 371.5v2.5"/>
<path class="ev" d="M44.10 315.5V328.9M63.81 308.4V326.8M83.52 312.3V331.4M103.23 304.6V348.3M122.94 309.3V321.4M142.65 297.5V322.5M162.36 297.3V368.4M182.07 307.5V335.5M201.78 303.6V321.4M221.49 310.0V319.1M241.20 306.4V317.3M260.91 308.6V331.6"/>
<path d="M44.1 312L47.2 321L44.1 331L41 321ZM63.8 305L66.9 316L63.8 328L60.7 316ZM83.5 305L86.6 320L83.5 334L80.4 320ZM103.2 300L105.9 312L103.2 342L100.5 312ZM122.9 308.5L126 315L122.9 322L119.8 315ZM142.7 298.5L145.8 309L142.7 319L139.6 309ZM162.4 308L164.9 328L162.4 342L159.9 328ZM182.1 307L185.2 318L182.1 329L179 318ZM201.8 302L204.9 311L201.8 322L198.7 311ZM221.5 309L224.6 314.5L221.5 320L218.4 314.5ZM241.2 306L244.3 311.5L241.2 317.5L238.1 311.5ZM260.9 307L264 320L260.9 333L257.8 320Z" fill="#FFB3C0" fill-opacity="0.55"/>
<path class="pc" d="M261.4 323h0M123.8 312.2h0M260.8 312.6h0M144.4 311.4h0M162.9 335.2h0M123.3 313.3h0M240.4 309.6h0M162.4 341.4h0M182.6 326h0M124.2 311.2h0M201.2 305.3h0M220.5 316.5h0M163.7 320.7h0M63.4 311.6h0M45.2 322.3h0M218.8 314.6h0M104.1 314.5h0M260.9 321.3h0M201.7 305.1h0M102.8 309.7h0M260.7 313.5h0M239.4 310.2h0M221 316.8h0M104.9 312.4h0M81.1 319.4h0M162 339.5h0M180.4 318.5h0M164 322.1h0M224.3 314.4h0M183.6 320.7h0M121.7 318.4h0M44 312.4h0M143.2 311.2h0M184.1 315h0M183.8 314.6h0M101.7 310.1h0M64.1 308.5h0M239.8 309.2h0M42.2 321.3h0M102.8 308.1h0M261.6 323.9h0M124.3 312.3h0M241.5 307h0M103.8 314.1h0M221.2 318.7h0M180 321.5h0M162.3 326h0M222.4 312.3h0M240.1 313.2h0M103.1 310.1h0M62.5 320.9h0M85.6 324.4h0M103.9 331.4h0M82.9 311.9h0M125.7 314.5h0M46.6 319.9h0M203.1 312.6h0M201.6 306h0M43.9 325.9h0M41.7 320.2h0M203 313.8h0M183.8 316.4h0M200.8 318.3h0M261.3 316.6h0M183.1 314.5h0M164.3 330.5h0M62.2 317.4h0M183.3 314.3h0M201.9 313.5h0M143.6 303h0M103 307.7h0M258.3 317.8h0M142.1 303.1h0M82.8 319.1h0M144 305.5h0M182.6 316.9h0M182 310.1h0M62.9 322.6h0M62.3 312.9h0M240.5 312.5h0M44.6 313.8h0M262.4 318.6h0M144.6 312.1h0M122.2 318.3h0M65.2 311.6h0M181 314h0M221.4 311.3h0M81.8 321.6h0M181.9 316.1h0M221.6 314.1h0M141.7 314.5h0M181.7 321.6h0M142.7 309.4h0M81.8 313.7h0M144.4 304.7h0M122.7 317.3h0M83.5 307.7h0M121.6 314.9h0M83.7 328.6h0M239.5 313.7h0M260.4 313.2h0M221 318.5h0M123.9 312.7h0M44.5 321.5h0M162.4 310.1h0M240 309.4h0M140.3 308.4h0M182.4 325.3h0M103.6 309.1h0M124.2 318.3h0M124.2 315.5h0M44.6 315.5h0M239.3 310.7h0M201.8 314.2h0M141.9 307.3h0M203.2 310.9h0M82.7 311.4h0M203.8 309.3h0M202 314.3h0M144.2 308.1h0"/>
<path class="pc" d="M43.8 323h0M83.4 332.1h0M103.2 329.3h0M85.4 322.8h0M261.9 311.3h0M122.8 310.9h0M85.7 322.8h0M64.4 325.4h0M143.3 311.6h0M180 318.5h0M103.5 308.6h0M219.5 315.3h0M83.7 308.8h0M45.2 317.3h0M220.4 317.3h0M142.9 301.8h0M45.1 315.3h0M221.8 312.5h0M241.8 311.5h0M124.7 315.2h0M261.2 319.7h0M240 313.7h0M44.1 315h0M102.7 328h0M121.3 314.7h0M83.2 320.9h0M259.7 320.4h0M103.8 325.5h0M64.3 323.9h0M199.9 313.5h0M164.3 326.6h0M263 323.4h0M242.3 311.8h0M164.6 325.9h0M162 317.2h0M240.1 310.8h0M181 320.9h0M102.1 323.3h0M221 314.2h0M121.6 316.5h0M163.1 317h0M124 316h0M259.5 316.4h0M63.1 320.9h0M223 314.2h0M258.6 316.7h0M161.6 335.8h0M45 323.4h0M241.7 311.6h0M240.3 314.9h0M179.8 318.3h0M142.6 303.3h0M102.9 307.3h0M201.5 302.8h0M199.5 311.2h0M63.1 321.6h0M81.6 320.8h0M182.4 327.6h0M163.6 332.7h0M144.5 309h0M240.7 309.6h0M121.6 316.4h0M103.6 334h0M202.5 306h0M163.1 331.6h0M143.9 309.1h0M162.1 321.3h0M182.7 323.8h0M163.9 322.6h0M240.8 312h0M124.2 316.4h0M104.5 322h0M141.6 311.5h0M202.4 315.9h0M200.7 308.2h0M218.8 314.1h0M264 319.9h0M102.9 303.9h0M244.2 311.6h0M104.1 321.4h0M45.7 325h0M221.6 319.7h0M123.3 312.9h0M103.2 318.4h0M241.3 310.8h0M162.9 333.2h0M64.1 309.8h0M85.5 322.2h0M123 321.7h0M221.6 317.1h0M62 319.3h0M180 319.8h0M42.2 322h0M222.8 317.2h0M162.1 318.4h0M142.6 315.5h0M65.9 312.6h0M238.9 310.5h0M200.6 309.7h0M261.1 313.1h0M222.5 315.1h0M261 315h0M64.8 311.4h0M141.9 308.7h0M164 325.8h0M261.8 317.3h0M239.8 310.2h0M64.1 325.6h0M142.7 310.6h0M62.9 321.2h0M200.4 309.3h0M141.8 303.6h0M124.5 316.6h0M163 325.9h0M84.2 309.1h0M182 316.5h0M223.7 313.6h0M162.5 318h0M103.3 337.7h0M102.9 331.3h0"/>
<path class="pc" d="M42.9 326h0M123.3 315.2h0M260.1 315.2h0M162.9 328.1h0M260.6 311.8h0M83.6 325.7h0M45.1 327h0M44.6 320.1h0M222.3 310.7h0M220.2 311.9h0M122.8 313.2h0M259.3 319.7h0M65.2 310.7h0M160.8 332.6h0M262.2 325.3h0M64.5 320.7h0M260.9 316.9h0M222.2 318.3h0M63.4 326.4h0M240.3 308.2h0M182.6 311.8h0M84.2 312.7h0M44.1 325.9h0M221.6 319.3h0M183 311.1h0M261.1 323.7h0M181 322.4h0M45.5 317.1h0M84.5 315.3h0M82.2 318.6h0M204 309.6h0M260.8 318.5h0M44.1 329.6h0M241.4 308h0M201.2 306.3h0M201.3 320.2h0M141.6 303.2h0M241.4 311h0M201 318.5h0M62.2 314.5h0M124.2 317.1h0M161.4 324.2h0M163 327h0M62.3 321h0M240.7 311.1h0M220.8 317.4h0M201.1 310.4h0M43.2 323h0M161.3 317.1h0M183.6 323.2h0M243.7 311.1h0M42.4 322h0M65.3 315.3h0M201.9 303.5h0M181.1 320.4h0M82.9 325.8h0M143 303.7h0M104.7 313.9h0M125.3 314.6h0M162.6 330.4h0M141.3 303.1h0M120.7 314.8h0M62.8 308.6h0M63.6 308.7h0M43.9 320h0M241.6 307.4h0M42.7 319.1h0M83.4 321.6h0M241.5 312.6h0M162 336.9h0M43.6 325.2h0M104.5 319.3h0M221.5 309.7h0M182.5 321.3h0M202.5 310.4h0M220.1 314.9h0M199.4 309.1h0M260.2 319.9h0M142.6 303.1h0M240.3 311.6h0M203.3 310.4h0M241.9 309.1h0M220.4 314.6h0M122.9 316.6h0M259.7 314.3h0M260.7 310h0M203.3 309.5h0M240 309.7h0M203.3 311.6h0M84.7 319h0M241.1 313.7h0M221.4 313.1h0M103.4 320h0M163.3 331.2h0M143.1 310h0M123.8 312.6h0M44.6 327.1h0M162.3 340.6h0M160.6 331h0M260.6 327.7h0M102.5 305.9h0M124.3 312h0M46.2 319h0M84.8 317.9h0M102.9 309.1h0M86.2 319.1h0M259.5 319.4h0M143.2 304.1h0M219.6 315.9h0M220.4 317h0M44.1 314.6h0M64.2 311.6h0M238.4 311.8h0M181.2 322.9h0M223.5 313.9h0M202.8 307h0M262 326.2h0M223.3 312.8h0M162.9 315h0M102 322.4h0"/>
<path class="pc" d="M62.5 320.3h0M219.5 314.4h0M81.1 321.5h0M102.4 303.8h0M83.7 307h0M141.2 313.2h0M143.4 310.1h0M260.8 324.5h0M123.1 321h0M142.6 300.3h0M82.8 319.2h0M121.6 316.5h0M259.8 319.6h0M65 312.9h0M102.5 312.3h0M182 315.8h0M63.1 317h0M240.6 314.5h0M81.9 321.5h0M101.7 314h0M223.2 313.1h0M219.8 313.8h0M162.3 315.7h0M82.5 325.8h0M260 319.1h0M63.9 316.9h0M63.2 314h0M180.5 321.6h0M105.5 317.2h0M142 316h0M104.8 316.8h0M201.5 317.7h0M44.6 318.5h0M240.1 309.9h0M140.4 310h0M83.5 320.7h0M121.1 315.9h0M163.3 331.5h0M184.4 318.7h0M101.6 315.2h0M103.8 330.2h0M181.9 322.4h0M45.5 325h0M83.2 307h0M161.7 320.2h0M259.4 322.5h0M142.3 312.2h0M200.2 315h0M43.9 320.1h0M44.8 316.6h0M85.6 322.3h0M104.9 310h0M240.8 316.3h0M123.6 315.6h0M104.9 310.5h0M124.2 318.4h0M200.4 312.2h0M219.2 315.8h0M122.4 312.9h0M64.7 310.4h0M180.4 320.3h0M241.1 316.7h0M82.1 324h0M242.6 309.6h0M63.3 316.6h0M199.1 311.2h0M122.7 310.2h0M258.3 318.3h0M181.6 322.8h0M63.7 315.3h0M183.8 321h0M163.9 331.6h0M101.3 320.2h0M62.9 322.5h0M181.9 324.7h0M261.7 329.5h0M45.6 321.6h0M81.7 325.9h0M142.4 317.9h0M81.9 314h0M162.2 324.5h0M201.3 309.5h0M219.3 314.2h0M43.1 318.3h0M141.6 304.2h0M222.8 313.3h0M221.3 309.9h0M64.5 317.2h0M181.3 317.3h0M182 311.1h0M142.8 305.5h0M103.7 317.6h0M260.8 329h0M200.5 316.1h0M44.2 327.2h0M64.9 321.5h0M144.1 307.9h0M242.7 312.5h0M242.1 315.7h0M84.4 312h0M44.4 325.4h0M64.6 314.4h0M201 309.9h0M123.2 319h0M65.8 314h0M258.9 322.6h0M199.7 313.7h0M163.4 335.6h0M44.6 325.2h0M120.9 313.9h0M85.4 315.8h0M63.8 314.2h0M143.9 314.2h0M124.5 314.8h0M163.3 319.5h0M42.4 325.1h0M184.2 318.3h0M84.1 322.3h0M142.5 309.4h0M203.6 312.7h0"/>
<path class="eb" d="M41.30 315.5h5.6M41.30 328.9h5.6M61.01 308.4h5.6M61.01 326.8h5.6M80.72 312.3h5.6M80.72 331.4h5.6M100.43 304.6h5.6M100.43 348.3h5.6M120.14 309.3h5.6M120.14 321.4h5.6M139.85 297.5h5.6M139.85 322.5h5.6M159.56 297.3h5.6M159.56 368.4h5.6M179.27 307.5h5.6M179.27 335.5h5.6M198.98 303.6h5.6M198.98 321.4h5.6M218.69 310.0h5.6M218.69 319.1h5.6M238.40 306.4h5.6M238.40 317.3h5.6M258.11 308.6h5.6M258.11 331.6h5.6"/>
<path class="md" d="M38.70 322.5h10.8M58.41 316.8h10.8M78.12 322.3h10.8M97.83 321.0h10.8M117.54 315.5h10.8M137.25 310.5h10.8M156.96 332.0h10.8M176.67 317.5h10.8M196.38 311.6h10.8M216.09 314.3h10.8M235.80 311.6h10.8M255.51 320.7h10.8"/>
<circle class="mn" cx="44.10" cy="323.4" r="1.3"/>
<circle class="mn" cx="63.81" cy="317.3" r="1.3"/>
<circle class="mn" cx="83.52" cy="321.8" r="1.3"/>
<circle class="mn" cx="103.23" cy="326.6" r="1.3"/>
<circle class="mn" cx="122.94" cy="316.1" r="1.3"/>
<circle class="mn" cx="142.65" cy="310.5" r="1.3"/>
<circle class="mn" cx="162.36" cy="337.3" r="1.3"/>
<circle class="mn" cx="182.07" cy="318.0" r="1.3"/>
<circle class="mn" cx="201.78" cy="313.4" r="1.3"/>
<circle class="mn" cx="221.49" cy="315.0" r="1.3"/>
<circle class="mn" cx="241.20" cy="312.0" r="1.3"/>
<circle class="mn" cx="260.91" cy="320.2" r="1.3"/>
<text class="tk tkc" x="302.20" y="299.50" text-anchor="end">1.0</text>
<text class="tk tkc" x="302.20" y="326.70" text-anchor="end">0.9</text>
<text class="tk tkc" x="302.20" y="353.90" text-anchor="end">0.8</text>
<text class="ttl ttc" transform="translate(291.0,332.8) rotate(-90)" text-anchor="middle">AUC</text>
<text class="tk xl" transform="translate(314.80,380.80) rotate(-15)" text-anchor="end">AlexNet</text>
<text class="tk xl" transform="translate(334.51,380.80) rotate(-15)" text-anchor="end">BiRNN</text>
<text class="tk xl" transform="translate(354.22,380.80) rotate(-15)" text-anchor="end">CNN</text>
<text class="tk xl" transform="translate(373.93,380.80) rotate(-15)" text-anchor="end">ConvMixer64</text>
<text class="tk xl" transform="translate(393.64,380.80) rotate(-15)" text-anchor="end">DSConv</text>
<text class="tk xl" transform="translate(413.35,380.80) rotate(-15)" text-anchor="end">LSTMCNN</text>
<text class="tk xl" transform="translate(433.06,380.80) rotate(-15)" text-anchor="end">MobileNetV2</text>
<text class="tk xl" transform="translate(452.77,380.80) rotate(-15)" text-anchor="end">ResNet18</text>
<text class="tk xl" transform="translate(472.48,380.80) rotate(-15)" text-anchor="end">ResNet50</text>
<text class="tk xl" transform="translate(492.19,380.80) rotate(-15)" text-anchor="end">RNN</text>
<text class="tk xl" transform="translate(511.90,380.80) rotate(-15)" text-anchor="end">Seq2Seq</text>
<text class="tk xl" transform="translate(531.61,380.80) rotate(-15)" text-anchor="end">SCAResNet18</text>
<path class="ax" d="M305.5 293.5V372.0M305.0 371.5H542.5M302.5 296.90H305.5M302.5 324.10H305.5M302.5 351.30H305.5M315.60 371.5v2.5M335.31 371.5v2.5M355.02 371.5v2.5M374.73 371.5v2.5M394.44 371.5v2.5M414.15 371.5v2.5M433.86 371.5v2.5M453.57 371.5v2.5M473.28 371.5v2.5M492.99 371.5v2.5M512.70 371.5v2.5M532.41 371.5v2.5"/>
<path class="ev" d="M315.60 322.6V340.6M335.31 313.3V368.5M355.02 298.7V321.0M374.73 302.3V347.9M394.44 312.1V329.9M414.15 298.2V339.0M433.86 298.2V349.8M453.57 297.5V304.2M473.28 297.5V305.4M492.99 319.1V350.3M512.70 317.9V357.0M532.41 297.5V308.3"/>
<path d="M315.6 320.5L318.8 325L315.6 333L312.4 325ZM335.3 311.5L338.3 315L335.3 326L332.3 315ZM355 297.5L358.4 300L355 309L351.6 300ZM374.7 301.5L377.7 305L374.7 320L371.7 305ZM394.4 312.5L397.7 318L394.4 328L391.1 318ZM414.2 296.5L417.8 299L414.2 305L410.6 299ZM433.9 297.5L436.7 302L433.9 322L431.1 302ZM453.6 296L457.2 297.5L453.6 303L450 297.5ZM473.3 296L476.9 297.5L473.3 305.5L469.7 297.5ZM493 317.5L495.7 327L493 343L490.3 327ZM512.7 316.5L515.4 327L512.7 345L510 327ZM532.4 296.5L535.9 298L532.4 304L528.9 298Z" fill="#0F8C4C" fill-opacity="0.7"/>
<path class="pd" d="M377.2 305.6h0M412.8 299.9h0M511.8 335.8h0M415.4 308.1h0M454.8 298.9h0M316 324.6h0M357.2 299.7h0M415.4 322.4h0M394.3 325.6h0M373 304h0M452.3 297.6h0M474.1 301.3h0M432.7 304.4h0M532.1 302h0M531.6 299.9h0M415.6 302.3h0M511.2 329h0M530.2 299.3h0M492 329.6h0M316.3 322.3h0M434.8 310.7h0M514.6 329.7h0M493.3 340.1h0M315.6 332.5h0M333.5 314.4h0M336.1 316.2h0M355.6 309.3h0M493.2 322.2h0M472.5 301.6h0M435 305h0M432.3 300.3h0M532.4 299.9h0M335.6 311.9h0M455.3 299.6h0M493.8 329h0M334.1 331.5h0M514.5 326.9h0M491 330.9h0M474 299h0M434.7 337.6h0M415.1 309.7h0M392 318.4h0M394.4 326h0M434.7 323.8h0M394.3 317.2h0M356.7 302.7h0M530.3 299.4h0M492.6 321.1h0M433.5 311h0M313.8 324h0M335.6 313.4h0M533.5 301.1h0M512.6 343h0M434.9 330.1h0M435.3 305.5h0M432.4 305.1h0M513.7 322.7h0M512 330.6h0M395.4 323.5h0M394.7 320.1h0M415.1 307.5h0M336 353.5h0M335.6 319.7h0M394.3 323.5h0M492.6 338.1h0M413.7 302.5h0M354.8 308.2h0M513.2 336.6h0M336.8 318.4h0M373.6 303.1h0M472 299h0M472.8 301.2h0M335.4 314.4h0M434 332.6h0M335.1 320.1h0M315 324.2h0M531.5 302h0M393.7 314.2h0M472.8 300.2h0M471 298.8h0M476.3 298h0M314 327.7h0M335.6 312.3h0M492.9 335h0M455.2 297.6h0M432.1 303.6h0M356.3 305h0M452.3 299.3h0M334.2 345.9h0M375.9 310.3h0M374.4 341.5h0M335.9 320.4h0M357.1 300.8h0M334.3 329.1h0M376.3 309h0M394.4 313.9h0M315 323.4h0M514.6 325.2h0M454.2 297.4h0M335 319.4h0M451.5 298.8h0M313.9 327.7h0M494.5 332h0M375.7 306.3h0M435.5 307.9h0M354.8 304.5h0M433 299.8h0M335 337.9h0M472.1 298.7h0M374 340.6h0M413.8 304.4h0M471.6 300.7h0M354.5 306.2h0M354.6 307.5h0M493.4 346.7h0M375.8 320.7h0M514.9 329.5h0M531.7 300.1h0M511.7 330.9h0M375.2 307.3h0M396.3 317h0M335.3 317.7h0M316.6 327.6h0M512 321.5h0M414.3 302h0M335.7 321h0M476.1 298h0M491.8 328.6h0M492.7 341.4h0M412.9 302.2h0M393.2 320.2h0M535.2 298h0M512.5 327.9h0M495.3 326.6h0M395.1 323.1h0M355.9 316.8h0M494.2 330.1h0"/>
<path class="pd" d="M394.2 318.2h0M512.3 335.5h0M355.4 298.2h0M314.9 324.7h0M315.3 332h0M532.5 302.8h0M357.2 299.2h0M335 324.2h0M317.6 327.7h0M353.8 305.6h0M337.8 316h0M433.1 304.5h0M492.7 328h0M512.9 347.6h0M513.5 332.4h0M355.7 301.5h0M334.4 318h0M454.4 296.8h0M373.6 338.2h0M512.5 338.2h0M534.9 299h0M511.2 324.9h0M394.2 325h0M314.1 327.1h0M391.8 318h0M334.6 321.1h0M513 329.4h0M533.8 298.1h0M373.9 327.9h0M354.9 303.2h0M532.4 302.3h0M375.5 305h0M532.2 298h0M494.7 332.6h0M414.9 298.5h0M334.7 313.1h0M374.7 318.5h0M314.1 323h0M317 326h0M512.1 318.9h0M514.5 331.5h0M452.1 297.3h0M455.5 299.1h0M492.8 332h0M335.1 312.8h0M375.3 307.3h0M375.8 322.8h0M335.3 354.3h0M393.9 317.8h0M472.2 302.3h0M532.5 298.9h0M493.2 325.1h0M313.5 325.4h0M355.8 298.9h0M435 333.1h0M413.3 298.5h0M513.8 335.7h0M472 298.3h0M414.6 324.8h0M416.1 299.6h0M353.3 303.7h0M492.5 335.7h0M375 312.3h0M512.9 343.2h0M452.3 297.6h0M333.4 314.5h0M354 299.5h0M473.1 300.7h0M434.9 311.5h0M394.3 326.6h0M315.9 323.5h0M336 332.2h0M532.7 296.7h0M336.2 318.4h0M335.3 327.8h0M434.3 314.7h0M530.3 298h0M512.8 327.2h0M395.7 317.4h0M491.2 326.1h0M534 300h0M456 298h0M336.3 317.7h0M413 302.9h0M354.5 302.3h0M433.8 302.9h0M376 304.8h0M394.8 316.9h0M374 306.4h0M473.2 300.4h0M470.6 298.5h0M512.2 321h0M511 326.3h0M394.7 325.5h0M414.6 308.7h0M454.7 298.5h0M432.8 310.3h0M373.8 306.4h0M373.3 337h0M335.6 332.5h0M433.2 309.8h0M376.2 329.4h0M494.5 333.4h0M452.3 297.6h0M474.1 296.5h0M412.6 302h0M532.6 300.2h0M531.9 299.9h0M452.7 300.2h0M334.9 317.3h0M414.8 301.9h0M493.1 325.1h0M454.3 299.4h0M314.2 323.5h0M433.3 325h0M433.3 331.5h0M356.5 303.8h0M374.1 341.1h0M394.5 315.4h0M473.6 300.2h0M412.5 298.8h0M491.7 334.9h0M453.6 301.4h0M353.7 303.5h0M374.3 305.7h0M393.8 324.5h0M373.5 325.6h0M530.4 300.1h0M314.8 323h0M491.4 326.3h0M494.3 330.8h0M451.8 298.8h0M417.4 299h0M472.6 298.2h0M395.5 315.6h0M355.2 300.1h0M476 299.5h0"/>
<path class="pd" d="M392.8 316h0M392.4 317.5h0M313.8 325.8h0M335.6 348h0M415 304.8h0M531.6 300.4h0M374.6 312.6h0M511.8 333h0M493.5 322.7h0M512.4 334.6h0M434.7 301.5h0M451.5 299.7h0M354.7 306.1h0M316.3 327.9h0M435.3 300.3h0M474.6 302.1h0M416 298.4h0M354.3 301.7h0M532.9 296.8h0M413.8 313.2h0M315.2 321.9h0M413.9 304.1h0M314.7 325.9h0M414.9 303.6h0M493.4 329.1h0M451.2 298.3h0M412.8 327.6h0M374.2 314.8h0M374 312.1h0M355.5 308.4h0M335.2 315.6h0M434 320.7h0M314.9 334.5h0M336.2 334.1h0M493.2 320.2h0M531.8 300.3h0M336 344.1h0M414.9 302.8h0M394.7 313.3h0M374.1 305.1h0M512.9 327h0M451.3 297.2h0M511.5 327.5h0M455.6 299.1h0M353.3 298.9h0M376.2 312h0M314 325.5h0M415.8 297.8h0M415.4 302h0M393.9 313.8h0M491.5 328.7h0M435.4 307.8h0M453.1 300.9h0M454.5 297.7h0M434.1 315.4h0M433.6 310.6h0M413 301.7h0M335.1 324.3h0M414.1 320.2h0M352.8 300.9h0M354.4 303.6h0M472.5 303.6h0M530.8 300.4h0M413 301.3h0M474.1 298.8h0M415.1 321h0M337 314.6h0M373 304.4h0M452.4 299h0M433.3 317.1h0M433.5 312.2h0M374.2 311.2h0M375.1 307.9h0M453.1 297.8h0M372.2 305.7h0M492.1 330.4h0M356.6 300h0M415.1 302.8h0M533.4 299.4h0M452.9 302h0M531.8 297.2h0M413.7 303.6h0M393.7 314.2h0M315.1 322.6h0M533.4 298h0M354.2 299.5h0M355.1 300.3h0M354.3 307h0M511.8 336.9h0M355.9 300.1h0M354.4 316.6h0M533 301.6h0M412.9 302h0M334.8 314h0M395.2 318.6h0M433.4 307.6h0M472.9 296.4h0M434.4 310.3h0M414.4 328.3h0M434.7 334.6h0M474 301.1h0M373.7 313.7h0M337.9 316.6h0M511.3 345.6h0M316.1 331h0M514.7 326.8h0M530.7 298.1h0M394.7 313.4h0M434.7 309.7h0M335.3 327.7h0M415.9 300.5h0M529.9 297.6h0M334.9 320.7h0M354.4 306.1h0M376.2 306.1h0M394.1 323.2h0M471.3 300.5h0M335.3 313.2h0M334.2 353h0M453 296.8h0M353.4 303.7h0M475.4 299.2h0M374.6 306.5h0M411.2 299.2h0M394.2 319.3h0M415.6 299.1h0M352.9 302.4h0M432.4 325h0M433.8 307.6h0M432.5 301.2h0M514.3 349.6h0M394.6 326.9h0M333.9 320.1h0M412.9 302.4h0M533.8 300.7h0M316.3 326.6h0M375 302.7h0"/>
<path class="pd" d="M357.4 299.6h0M413.8 296.8h0M354 299.5h0M473.9 303.8h0M532.5 297.4h0M317.6 326h0M313 326.1h0M394.3 325.4h0M336.6 314h0M337.6 317.5h0M455.1 297.4h0M317.3 324.5h0M315.7 324.5h0M513.4 320.1h0M473.4 303.5h0M416.4 299.7h0M512.5 340.4h0M454.3 299.6h0M511.6 336.3h0M435.3 334.2h0M530.7 298.8h0M395.5 319h0M492.8 322.2h0M373.8 314.7h0M396.4 319.9h0M355.3 311.7h0M411.5 298.6h0M373 304h0M433.8 317.5h0M535.5 297.9h0M315.9 327.8h0M414.4 324.8h0M413.6 300.6h0M492 329.9h0M454.2 301.3h0M433 301.3h0M314.8 333.5h0M375.7 306.6h0M450.9 297.2h0M318.3 325.3h0M492.6 332.9h0M335.6 346.4h0M335.6 322.2h0M453.6 297.6h0M334.4 321.9h0M452.7 298.4h0M433.2 312.9h0M432.3 308.4h0M456 298.6h0M372.9 305.3h0M412.5 301.6h0M414.8 325.6h0M472.9 299h0M432.9 301.9h0M336.1 312.5h0M455.9 298.8h0M316 322.5h0M494.9 327h0M373.4 322.2h0M474.8 297.2h0M413.9 302h0M432.2 303.2h0M491.4 332h0M511.8 336.3h0M374.2 305.2h0M473.1 303.1h0M493.3 320.2h0M391.4 317.7h0M473.8 299.4h0M334.5 319.4h0M433.5 306.8h0M473.9 300.7h0M317.2 328.2h0M474.3 303.1h0M453.6 297.3h0M334.3 316.8h0M413.2 299.4h0M334.2 314.6h0M532.4 299.6h0M373.4 308.9h0M514.7 329.1h0M412.6 301.5h0M316.8 336.8h0M375.5 322h0M416.4 300.2h0M396.9 318h0M473 298.9h0M452.9 300.5h0M434 309.9h0M353.3 302.8h0M377.4 305h0M492.4 336.7h0M375.1 311.7h0M434.1 303.6h0M413.9 300.4h0M413.1 298.9h0M491.4 345.6h0M415.2 318.8h0M374.1 315.2h0M396 318.1h0M335.1 327h0M512.6 342.7h0M513.2 324.9h0M394.2 323.4h0M314.8 329.8h0M374.7 314.6h0M356.4 299.4h0M356.1 302.7h0M511.4 325h0M473.3 298.3h0M493 328.6h0M492 325.4h0M534 298.5h0M491.7 329.2h0M532.7 296.9h0M511.8 330.6h0M336.9 318.3h0M531.1 298.6h0M375.6 330.4h0M476 297.8h0M433.8 321.7h0M317.2 326.3h0M473.8 296.4h0M354.7 307.4h0M474.7 297.8h0M315.3 322.3h0M315.6 330h0M493.5 330.1h0M533.5 299.5h0M314.8 327.9h0M434.8 305.9h0M374.9 309.2h0M334.5 319.8h0M452.3 298h0M452.5 299h0M355.3 303.1h0M374.4 311.7h0"/>
<path class="eb" d="M312.80 322.6h5.6M312.80 340.6h5.6M332.51 313.3h5.6M332.51 368.5h5.6M352.22 298.7h5.6M352.22 321.0h5.6M371.93 302.3h5.6M371.93 347.9h5.6M391.64 312.1h5.6M391.64 329.9h5.6M411.35 298.2h5.6M411.35 339.0h5.6M431.06 298.2h5.6M431.06 349.8h5.6M450.77 297.5h5.6M450.77 304.2h5.6M470.48 297.5h5.6M470.48 305.4h5.6M490.19 319.1h5.6M490.19 350.3h5.6M509.90 317.9h5.6M509.90 357.0h5.6M529.61 297.5h5.6M529.61 308.3h5.6"/>
<path class="md" d="M310.20 327.7h10.8M329.91 328.6h10.8M349.62 303.7h10.8M369.33 310.9h10.8M389.04 320.5h10.8M408.75 300.6h10.8M428.46 310.9h10.8M448.17 299.4h10.8M467.88 299.9h10.8M487.59 329.9h10.8M507.30 330.6h10.8M527.01 300.6h10.8"/>
<circle class="mn" cx="315.60" cy="330.1" r="1.3"/>
<circle class="mn" cx="335.31" cy="332.5" r="1.3"/>
<circle class="mn" cx="355.02" cy="311.9" r="1.3"/>
<circle class="mn" cx="374.73" cy="319.3" r="1.3"/>
<circle class="mn" cx="394.44" cy="323.4" r="1.3"/>
<circle class="mn" cx="414.15" cy="310.9" r="1.3"/>
<circle class="mn" cx="433.86" cy="319.3" r="1.3"/>
<circle class="mn" cx="453.57" cy="302.3" r="1.3"/>
<circle class="mn" cx="473.28" cy="305.4" r="1.3"/>
<circle class="mn" cx="492.99" cy="334.2" r="1.3"/>
<circle class="mn" cx="512.70" cy="334.2" r="1.3"/>
<circle class="mn" cx="532.41" cy="302.3" r="1.3"/>
</svg></body></html>
